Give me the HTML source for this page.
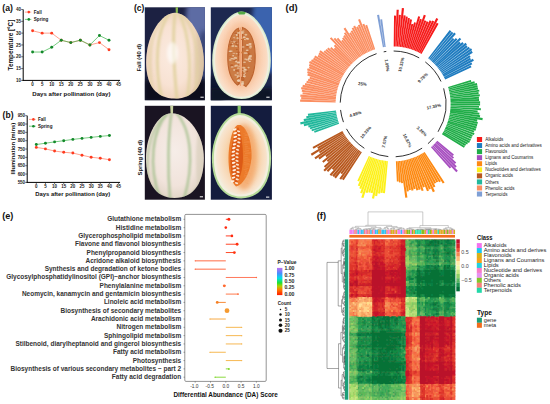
<!DOCTYPE html>
<html><head><meta charset="utf-8"><style>
html,body{margin:0;padding:0;background:#fff;}
body{width:550px;height:404px;overflow:hidden;}
svg{display:block;font-family:"Liberation Sans", sans-serif;}
</style></head><body>
<svg width="550" height="404" viewBox="0 0 550 404">
<rect width="550" height="404" fill="#fff"/>
<line x1="23.2" y1="9.5" x2="23.2" y2="80.9" stroke="#000" stroke-width="1.0"/>
<line x1="22.7" y1="80.4" x2="120.05000000000001" y2="80.4" stroke="#000" stroke-width="1.0"/>
<line x1="21.2" y1="80.40" x2="23.2" y2="80.40" stroke="#111" stroke-width="0.6"/>
<text x="20.90" y="82.00" font-size="4.5" font-weight="bold" text-anchor="end" fill="#1a1a1a" letter-spacing="-0.1">10</text>
<line x1="21.2" y1="68.58" x2="23.2" y2="68.58" stroke="#111" stroke-width="0.6"/>
<text x="20.90" y="70.18" font-size="4.5" font-weight="bold" text-anchor="end" fill="#1a1a1a" letter-spacing="-0.1">15</text>
<line x1="21.2" y1="56.77" x2="23.2" y2="56.77" stroke="#111" stroke-width="0.6"/>
<text x="20.90" y="58.37" font-size="4.5" font-weight="bold" text-anchor="end" fill="#1a1a1a" letter-spacing="-0.1">20</text>
<line x1="21.2" y1="44.95" x2="23.2" y2="44.95" stroke="#111" stroke-width="0.6"/>
<text x="20.90" y="46.55" font-size="4.5" font-weight="bold" text-anchor="end" fill="#1a1a1a" letter-spacing="-0.1">25</text>
<line x1="21.2" y1="33.13" x2="23.2" y2="33.13" stroke="#111" stroke-width="0.6"/>
<text x="20.90" y="34.73" font-size="4.5" font-weight="bold" text-anchor="end" fill="#1a1a1a" letter-spacing="-0.1">30</text>
<line x1="21.2" y1="21.32" x2="23.2" y2="21.32" stroke="#111" stroke-width="0.6"/>
<text x="20.90" y="22.92" font-size="4.5" font-weight="bold" text-anchor="end" fill="#1a1a1a" letter-spacing="-0.1">35</text>
<line x1="21.2" y1="9.50" x2="23.2" y2="9.50" stroke="#111" stroke-width="0.6"/>
<text x="20.90" y="11.10" font-size="4.5" font-weight="bold" text-anchor="end" fill="#1a1a1a" letter-spacing="-0.1">40</text>
<line x1="32.60" y1="80.4" x2="32.60" y2="82.0" stroke="#111" stroke-width="0.6"/>
<text x="32.60" y="86.30" font-size="4.5" font-weight="bold" text-anchor="middle" fill="#1a1a1a">0</text>
<line x1="42.15" y1="80.4" x2="42.15" y2="82.0" stroke="#111" stroke-width="0.6"/>
<text x="42.15" y="86.30" font-size="4.5" font-weight="bold" text-anchor="middle" fill="#1a1a1a">5</text>
<line x1="51.70" y1="80.4" x2="51.70" y2="82.0" stroke="#111" stroke-width="0.6"/>
<text x="51.70" y="86.30" font-size="4.5" font-weight="bold" text-anchor="middle" fill="#1a1a1a">10</text>
<line x1="61.25" y1="80.4" x2="61.25" y2="82.0" stroke="#111" stroke-width="0.6"/>
<text x="61.25" y="86.30" font-size="4.5" font-weight="bold" text-anchor="middle" fill="#1a1a1a">15</text>
<line x1="70.80" y1="80.4" x2="70.80" y2="82.0" stroke="#111" stroke-width="0.6"/>
<text x="70.80" y="86.30" font-size="4.5" font-weight="bold" text-anchor="middle" fill="#1a1a1a">20</text>
<line x1="80.35" y1="80.4" x2="80.35" y2="82.0" stroke="#111" stroke-width="0.6"/>
<text x="80.35" y="86.30" font-size="4.5" font-weight="bold" text-anchor="middle" fill="#1a1a1a">25</text>
<line x1="89.90" y1="80.4" x2="89.90" y2="82.0" stroke="#111" stroke-width="0.6"/>
<text x="89.90" y="86.30" font-size="4.5" font-weight="bold" text-anchor="middle" fill="#1a1a1a">30</text>
<line x1="99.45" y1="80.4" x2="99.45" y2="82.0" stroke="#111" stroke-width="0.6"/>
<text x="99.45" y="86.30" font-size="4.5" font-weight="bold" text-anchor="middle" fill="#1a1a1a">35</text>
<line x1="109.00" y1="80.4" x2="109.00" y2="82.0" stroke="#111" stroke-width="0.6"/>
<text x="109.00" y="86.30" font-size="4.5" font-weight="bold" text-anchor="middle" fill="#1a1a1a">40</text>
<line x1="118.55" y1="80.4" x2="118.55" y2="82.0" stroke="#111" stroke-width="0.6"/>
<text x="118.55" y="86.30" font-size="4.5" font-weight="bold" text-anchor="middle" fill="#1a1a1a">45</text>
<text x="71.40" y="95.50" font-size="6.1" font-weight="bold" text-anchor="middle" fill="#111">Days after pollination (day)</text>
<text x="13.00" y="45.10" font-size="6.3" font-weight="bold" text-anchor="middle" fill="#111" transform="rotate(-90 13.0 45.1)">Temperature [°C]</text>
<polyline points="32.60,30.77 42.15,33.13 51.70,33.13 61.25,40.22 70.80,42.59 80.35,40.22 89.90,44.95 99.45,42.59 109.00,49.68" fill="none" stroke="#ff7a60" stroke-width="0.7"/>
<circle cx="32.60" cy="30.77" r="1.45" fill="#ff3b1f"/>
<circle cx="42.15" cy="33.13" r="1.45" fill="#ff3b1f"/>
<circle cx="51.70" cy="33.13" r="1.45" fill="#ff3b1f"/>
<circle cx="61.25" cy="40.22" r="1.45" fill="#ff3b1f"/>
<circle cx="70.80" cy="42.59" r="1.45" fill="#ff3b1f"/>
<circle cx="80.35" cy="40.22" r="1.45" fill="#ff3b1f"/>
<circle cx="89.90" cy="44.95" r="1.45" fill="#ff3b1f"/>
<circle cx="99.45" cy="42.59" r="1.45" fill="#ff3b1f"/>
<circle cx="109.00" cy="49.68" r="1.45" fill="#ff3b1f"/>
<polyline points="32.60,52.04 42.15,52.04 51.70,47.31 61.25,40.22 70.80,42.59 80.35,40.22 89.90,44.95 99.45,35.50 109.00,40.22" fill="none" stroke="#3cb54a" stroke-width="0.7"/>
<circle cx="32.60" cy="52.04" r="1.45" fill="#13892a"/>
<circle cx="42.15" cy="52.04" r="1.45" fill="#13892a"/>
<circle cx="51.70" cy="47.31" r="1.45" fill="#13892a"/>
<circle cx="61.25" cy="40.22" r="1.45" fill="#13892a"/>
<circle cx="70.80" cy="42.59" r="1.45" fill="#13892a"/>
<circle cx="80.35" cy="40.22" r="1.45" fill="#13892a"/>
<circle cx="89.90" cy="44.95" r="1.45" fill="#13892a"/>
<circle cx="99.45" cy="35.50" r="1.45" fill="#13892a"/>
<circle cx="109.00" cy="40.22" r="1.45" fill="#13892a"/>
<line x1="24.9" y1="12.1" x2="31.3" y2="12.1" stroke="#ff7a60" stroke-width="0.7"/>
<circle cx="28.8" cy="12.1" r="1.3" fill="#ff3b1f"/>
<text x="33.80" y="13.70" font-size="4.6" font-weight="bold" text-anchor="start" fill="#1a1a1a">Fall</text>
<line x1="24.9" y1="19.4" x2="31.3" y2="19.4" stroke="#3cb54a" stroke-width="0.7"/>
<circle cx="28.8" cy="19.4" r="1.3" fill="#13892a"/>
<text x="33.80" y="21.00" font-size="4.6" font-weight="bold" text-anchor="start" fill="#1a1a1a">Spring</text>
<line x1="27.2" y1="115.7" x2="27.2" y2="182.9" stroke="#000" stroke-width="1.0"/>
<line x1="26.7" y1="182.4" x2="120.06" y2="182.4" stroke="#000" stroke-width="1.0"/>
<line x1="25.2" y1="182.40" x2="27.2" y2="182.40" stroke="#111" stroke-width="0.6"/>
<text x="24.90" y="184.00" font-size="4.5" font-weight="bold" text-anchor="end" fill="#1a1a1a" letter-spacing="-0.1">550</text>
<line x1="25.2" y1="174.06" x2="27.2" y2="174.06" stroke="#111" stroke-width="0.6"/>
<text x="24.90" y="175.66" font-size="4.5" font-weight="bold" text-anchor="end" fill="#1a1a1a" letter-spacing="-0.1">600</text>
<line x1="25.2" y1="165.72" x2="27.2" y2="165.72" stroke="#111" stroke-width="0.6"/>
<text x="24.90" y="167.32" font-size="4.5" font-weight="bold" text-anchor="end" fill="#1a1a1a" letter-spacing="-0.1">650</text>
<line x1="25.2" y1="157.39" x2="27.2" y2="157.39" stroke="#111" stroke-width="0.6"/>
<text x="24.90" y="158.99" font-size="4.5" font-weight="bold" text-anchor="end" fill="#1a1a1a" letter-spacing="-0.1">700</text>
<line x1="25.2" y1="149.05" x2="27.2" y2="149.05" stroke="#111" stroke-width="0.6"/>
<text x="24.90" y="150.65" font-size="4.5" font-weight="bold" text-anchor="end" fill="#1a1a1a" letter-spacing="-0.1">750</text>
<line x1="25.2" y1="140.71" x2="27.2" y2="140.71" stroke="#111" stroke-width="0.6"/>
<text x="24.90" y="142.31" font-size="4.5" font-weight="bold" text-anchor="end" fill="#1a1a1a" letter-spacing="-0.1">800</text>
<line x1="25.2" y1="132.38" x2="27.2" y2="132.38" stroke="#111" stroke-width="0.6"/>
<text x="24.90" y="133.97" font-size="4.5" font-weight="bold" text-anchor="end" fill="#1a1a1a" letter-spacing="-0.1">850</text>
<line x1="25.2" y1="124.04" x2="27.2" y2="124.04" stroke="#111" stroke-width="0.6"/>
<text x="24.90" y="125.64" font-size="4.5" font-weight="bold" text-anchor="end" fill="#1a1a1a" letter-spacing="-0.1">900</text>
<line x1="25.2" y1="115.70" x2="27.2" y2="115.70" stroke="#111" stroke-width="0.6"/>
<text x="24.90" y="117.30" font-size="4.5" font-weight="bold" text-anchor="end" fill="#1a1a1a" letter-spacing="-0.1">950</text>
<line x1="36.30" y1="182.4" x2="36.30" y2="184.0" stroke="#111" stroke-width="0.6"/>
<text x="36.30" y="188.30" font-size="4.5" font-weight="bold" text-anchor="middle" fill="#1a1a1a">0</text>
<line x1="45.44" y1="182.4" x2="45.44" y2="184.0" stroke="#111" stroke-width="0.6"/>
<text x="45.44" y="188.30" font-size="4.5" font-weight="bold" text-anchor="middle" fill="#1a1a1a">5</text>
<line x1="54.58" y1="182.4" x2="54.58" y2="184.0" stroke="#111" stroke-width="0.6"/>
<text x="54.58" y="188.30" font-size="4.5" font-weight="bold" text-anchor="middle" fill="#1a1a1a">10</text>
<line x1="63.72" y1="182.4" x2="63.72" y2="184.0" stroke="#111" stroke-width="0.6"/>
<text x="63.72" y="188.30" font-size="4.5" font-weight="bold" text-anchor="middle" fill="#1a1a1a">15</text>
<line x1="72.86" y1="182.4" x2="72.86" y2="184.0" stroke="#111" stroke-width="0.6"/>
<text x="72.86" y="188.30" font-size="4.5" font-weight="bold" text-anchor="middle" fill="#1a1a1a">20</text>
<line x1="82.00" y1="182.4" x2="82.00" y2="184.0" stroke="#111" stroke-width="0.6"/>
<text x="82.00" y="188.30" font-size="4.5" font-weight="bold" text-anchor="middle" fill="#1a1a1a">25</text>
<line x1="91.14" y1="182.4" x2="91.14" y2="184.0" stroke="#111" stroke-width="0.6"/>
<text x="91.14" y="188.30" font-size="4.5" font-weight="bold" text-anchor="middle" fill="#1a1a1a">30</text>
<line x1="100.28" y1="182.4" x2="100.28" y2="184.0" stroke="#111" stroke-width="0.6"/>
<text x="100.28" y="188.30" font-size="4.5" font-weight="bold" text-anchor="middle" fill="#1a1a1a">35</text>
<line x1="109.42" y1="182.4" x2="109.42" y2="184.0" stroke="#111" stroke-width="0.6"/>
<text x="109.42" y="188.30" font-size="4.5" font-weight="bold" text-anchor="middle" fill="#1a1a1a">40</text>
<line x1="118.56" y1="182.4" x2="118.56" y2="184.0" stroke="#111" stroke-width="0.6"/>
<text x="118.56" y="188.30" font-size="4.5" font-weight="bold" text-anchor="middle" fill="#1a1a1a">45</text>
<text x="72.80" y="196.10" font-size="5.85" font-weight="bold" text-anchor="middle" fill="#111">Days after pollination (day)</text>
<text x="14.60" y="148.70" font-size="5.8" font-weight="bold" text-anchor="middle" fill="#111" transform="rotate(-90 14.6 148.7)">Illumination (mins)</text>
<polyline points="36.30,147.38 45.44,148.88 54.58,151.05 63.72,152.22 72.86,153.05 82.00,155.22 91.14,157.22 100.28,158.22 109.42,159.72" fill="none" stroke="#ff7a60" stroke-width="0.7"/>
<circle cx="36.30" cy="147.38" r="1.45" fill="#ff3b1f"/>
<circle cx="45.44" cy="148.88" r="1.45" fill="#ff3b1f"/>
<circle cx="54.58" cy="151.05" r="1.45" fill="#ff3b1f"/>
<circle cx="63.72" cy="152.22" r="1.45" fill="#ff3b1f"/>
<circle cx="72.86" cy="153.05" r="1.45" fill="#ff3b1f"/>
<circle cx="82.00" cy="155.22" r="1.45" fill="#ff3b1f"/>
<circle cx="91.14" cy="157.22" r="1.45" fill="#ff3b1f"/>
<circle cx="100.28" cy="158.22" r="1.45" fill="#ff3b1f"/>
<circle cx="109.42" cy="159.72" r="1.45" fill="#ff3b1f"/>
<polyline points="36.30,144.55 45.44,143.21 54.58,141.88 63.72,140.71 72.86,139.38 82.00,138.38 91.14,137.38 100.28,136.38 109.42,135.54" fill="none" stroke="#3cb54a" stroke-width="0.7"/>
<circle cx="36.30" cy="144.55" r="1.45" fill="#13892a"/>
<circle cx="45.44" cy="143.21" r="1.45" fill="#13892a"/>
<circle cx="54.58" cy="141.88" r="1.45" fill="#13892a"/>
<circle cx="63.72" cy="140.71" r="1.45" fill="#13892a"/>
<circle cx="72.86" cy="139.38" r="1.45" fill="#13892a"/>
<circle cx="82.00" cy="138.38" r="1.45" fill="#13892a"/>
<circle cx="91.14" cy="137.38" r="1.45" fill="#13892a"/>
<circle cx="100.28" cy="136.38" r="1.45" fill="#13892a"/>
<circle cx="109.42" cy="135.54" r="1.45" fill="#13892a"/>
<line x1="29.0" y1="119.4" x2="35.7" y2="119.4" stroke="#ff7a60" stroke-width="0.7"/>
<circle cx="33.4" cy="119.4" r="1.3" fill="#ff3b1f"/>
<text x="37.90" y="121.00" font-size="4.6" font-weight="bold" text-anchor="start" fill="#1a1a1a">Fall</text>
<line x1="29.0" y1="126.2" x2="35.7" y2="126.2" stroke="#3cb54a" stroke-width="0.7"/>
<circle cx="33.4" cy="126.2" r="1.3" fill="#13892a"/>
<text x="37.90" y="127.80" font-size="4.6" font-weight="bold" text-anchor="start" fill="#1a1a1a">Spring</text>
<text x="134.0" y="10.8" font-size="9.6" font-weight="bold" fill="#111" textLength="10.4" lengthAdjust="spacingAndGlyphs">(c)</text>
<text x="2.3" y="10.8" font-size="9.6" font-weight="bold" fill="#111" textLength="10.6" lengthAdjust="spacingAndGlyphs">(a)</text>
<text x="2.6" y="117.7" font-size="9.6" font-weight="bold" fill="#111" textLength="10.9" lengthAdjust="spacingAndGlyphs">(b)</text>
<text x="141.40" y="57.80" font-size="5.9" font-weight="bold" text-anchor="middle" fill="#111" transform="rotate(-90 141.4 57.8)">Fall (40 d)</text>
<text x="142.00" y="157.70" font-size="5.8" font-weight="bold" text-anchor="middle" fill="#111" transform="rotate(-90 142.0 157.7)">Spring (40 d)</text>
<defs>
<linearGradient id="bg1" x1="0" y1="0" x2="1" y2="0.6"><stop offset="0" stop-color="#1a2140"/><stop offset="0.55" stop-color="#2a3560"/><stop offset="1" stop-color="#5a6b9e"/></linearGradient>
<linearGradient id="bg2" x1="0" y1="0" x2="1" y2="0.7"><stop offset="0" stop-color="#1a2547"/><stop offset="0.6" stop-color="#2e4176"/><stop offset="1" stop-color="#4d66a8"/></linearGradient>
<linearGradient id="bg3" x1="0" y1="0" x2="1" y2="1"><stop offset="0" stop-color="#16131c"/><stop offset="1" stop-color="#1b1822"/></linearGradient>
<linearGradient id="bg4" x1="0" y1="0" x2="1" y2="1"><stop offset="0" stop-color="#141d40"/><stop offset="1" stop-color="#172248"/></linearGradient>
<radialGradient id="m1" cx="0.45" cy="0.5" r="0.58"><stop offset="0" stop-color="#fbebe0"/><stop offset="0.6" stop-color="#f8e2d3"/><stop offset="0.9" stop-color="#efd4bc"/><stop offset="1" stop-color="#d8bc9c"/></radialGradient>
<radialGradient id="m3" cx="0.5" cy="0.45" r="0.58"><stop offset="0" stop-color="#f6ede8"/><stop offset="0.7" stop-color="#f1e3db"/><stop offset="0.92" stop-color="#e5d8cb"/><stop offset="1" stop-color="#cdc9b0"/></radialGradient>
<radialGradient id="f2" cx="0.5" cy="0.5" r="0.55"><stop offset="0" stop-color="#f7ba90"/><stop offset="0.5" stop-color="#f9caa8"/><stop offset="0.82" stop-color="#fbd8be"/><stop offset="1" stop-color="#f6e8d6"/></radialGradient>
<radialGradient id="f4" cx="0.52" cy="0.5" r="0.55"><stop offset="0" stop-color="#f4a860"/><stop offset="0.45" stop-color="#f7cc9c"/><stop offset="0.8" stop-color="#f8e0c6"/><stop offset="1" stop-color="#f5ecdc"/></radialGradient>
<linearGradient id="cav2" x1="0" y1="0" x2="1" y2="0"><stop offset="0" stop-color="#c06a38"/><stop offset="0.5" stop-color="#d89060"/><stop offset="1" stop-color="#b86030"/></linearGradient>
<linearGradient id="pv" x1="0" y1="1" x2="0" y2="0"><stop offset="0" stop-color="#ff1a00"/><stop offset="0.2" stop-color="#ff7a00"/><stop offset="0.33" stop-color="#b0d000"/><stop offset="0.45" stop-color="#20e030"/><stop offset="0.62" stop-color="#00e0e8"/><stop offset="0.8" stop-color="#4a8cff"/><stop offset="1" stop-color="#c070f0"/></linearGradient>
<linearGradient id="hcb" x1="0" y1="0" x2="0" y2="1"><stop offset="0" stop-color="#a50026"/><stop offset="0.15" stop-color="#d73027"/><stop offset="0.3" stop-color="#f46d43"/><stop offset="0.4" stop-color="#fdae61"/><stop offset="0.5" stop-color="#ffffbf"/><stop offset="0.6" stop-color="#a6d96a"/><stop offset="0.75" stop-color="#1a9850"/><stop offset="1" stop-color="#005a32"/></linearGradient>
</defs>
<defs><filter id="bl1" x="-20%" y="-20%" width="140%" height="140%"><feGaussianBlur stdDeviation="0.9"/></filter><filter id="bl2" x="-20%" y="-20%" width="140%" height="140%"><feGaussianBlur stdDeviation="0.5"/></filter><filter id="bl3" x="-50%" y="-50%" width="200%" height="200%"><feGaussianBlur stdDeviation="2.2"/></filter><filter id="bl4" x="-50%" y="-50%" width="200%" height="200%"><feGaussianBlur stdDeviation="1.4"/></filter><clipPath id="cp1"><path d="M175.00,12.70 C187.10,12.70 203.80,32.63 203.80,62.52 C203.80,84.17 194.58,98.60 175.00,98.60 C155.42,98.60 146.20,84.17 146.20,62.52 C146.20,32.63 162.90,12.70 175.00,12.70Z"/></clipPath><clipPath id="cp3"><path d="M171.50,113.20 C189.27,113.20 203.80,135.60 203.80,158.00 C203.80,181.20 195.01,198.00 174.50,198.00 C154.55,198.00 146.00,181.20 146.00,158.00 C146.00,135.60 157.47,113.20 171.50,113.20Z"/></clipPath><clipPath id="cp2"><path d="M241.50,14.60 C252.06,14.60 267.90,33.01 267.90,60.63 C267.90,80.52 258.40,96.80 241.50,96.80 C224.60,96.80 215.10,80.52 215.10,60.63 C215.10,33.01 230.94,14.60 241.50,14.60Z"/></clipPath><clipPath id="cp4"><path d="M240.00,117.40 C253.50,117.40 267.00,136.89 267.00,158.00 C267.00,179.11 258.23,194.40 241.20,194.40 C224.57,194.40 216.00,179.11 216.00,158.00 C216.00,136.89 228.00,117.40 240.00,117.40Z"/></clipPath><clipPath id="ph1"><rect x="144.8" y="7.3" width="60.1" height="92.9"/></clipPath><clipPath id="ph2"><rect x="210.8" y="7.3" width="61.1" height="92.9"/></clipPath></defs>
<rect x="144.8" y="7.3" width="60.1" height="92.9" fill="#1c2142"/>
<g clip-path="url(#ph1)"><ellipse cx="206" cy="18" rx="20" ry="38" fill="#5d6ca4" filter="url(#bl3)"/><ellipse cx="204" cy="55" rx="6" ry="25" fill="#3a4678" filter="url(#bl3)"/><rect x="144" y="80" width="62" height="22" fill="#0e0f1c" filter="url(#bl3)"/></g>
<path d="M175.6,7.3 L178.0,7.3 L177.8,13.5 L175.8,13.5Z" fill="#8ab850"/>
<path d="M175.00,12.70 C187.10,12.70 203.80,32.63 203.80,62.52 C203.80,84.17 194.58,98.60 175.00,98.60 C155.42,98.60 146.20,84.17 146.20,62.52 C146.20,32.63 162.90,12.70 175.00,12.70Z" fill="url(#m1)"/>
<g clip-path="url(#cp1)">
<ellipse cx="201" cy="62" rx="6" ry="40" fill="#d6bf9f" opacity="0.7" filter="url(#bl3)"/>
<ellipse cx="148" cy="62" rx="4" ry="36" fill="#e9cfb4" opacity="0.6" filter="url(#bl3)"/>
<g filter="url(#bl1)">
<path d="M170,13 C156,30 154,65 162,100" fill="none" stroke="#e2d3a2" stroke-width="3.0" opacity="0.9"/>
<path d="M175,13 C172,40 174,70 177,100" fill="none" stroke="#e2d3a2" stroke-width="3.2" opacity="0.9"/>
<path d="M179,13 C190,35 192,70 187,100" fill="none" stroke="#e2d3a2" stroke-width="3.0" opacity="0.85"/>
<path d="M181,13 C198,30 201,65 194,99" fill="none" stroke="#e2d3a2" stroke-width="2.6" opacity="0.7"/>
<path d="M168,13 C150,30 146,60 154,98" fill="none" stroke="#e2d3a2" stroke-width="2.2" opacity="0.6"/>
</g>
<ellipse cx="172.5" cy="53" rx="5.5" ry="11" fill="#ffffff" opacity="0.6" filter="url(#bl4)"/>
</g>
<rect x="200.4" y="96.7" width="3.3" height="1" fill="#fff"/>
<rect x="210.8" y="7.3" width="61.1" height="92.9" fill="#1d2850"/>
<g clip-path="url(#ph2)"><ellipse cx="272" cy="25" rx="20" ry="48" fill="#3a64ae" filter="url(#bl3)"/><ellipse cx="214" cy="95" rx="10" ry="20" fill="#111830" filter="url(#bl3)"/><rect x="210" y="88" width="63" height="14" fill="#0f1428" filter="url(#bl3)"/></g>
<path d="M241.50,11.50 C253.22,11.50 270.80,31.10 270.80,60.50 C270.80,81.68 260.25,99.00 241.50,99.00 C222.75,99.00 212.20,81.68 212.20,60.50 C212.20,31.10 229.78,11.50 241.50,11.50Z" fill="#d9ebcc"/>
<path d="M241.50,12.90 C252.70,12.90 269.50,31.96 269.50,60.56 C269.50,81.15 259.42,98.00 241.50,98.00 C223.58,98.00 213.50,81.15 213.50,60.56 C213.50,31.96 230.30,12.90 241.50,12.90Z" fill="#eef0e0"/>
<path d="M241.50,14.60 C252.06,14.60 267.90,33.01 267.90,60.63 C267.90,80.52 258.40,96.80 241.50,96.80 C224.60,96.80 215.10,80.52 215.10,60.63 C215.10,33.01 230.94,14.60 241.50,14.60Z" fill="url(#f2)"/>
<path d="M237.5,12.3 Q241.5,10.6 246,12.3 L244.5,14.4 L239,14.4Z" fill="#56a844"/>
<g clip-path="url(#cp2)">
<ellipse cx="241" cy="56" rx="18" ry="34" fill="#f4aa78" opacity="0.3" filter="url(#bl3)"/>
<g filter="url(#bl2)">
<path d="M238.6,28.2 C233,30 228.2,40 227.8,55 C227.4,68 230,79 237.4,85 L239.2,84 C238.8,70 238.8,45 238.6,28.2Z" fill="#cc7c44" stroke="#bd6430" stroke-width="1.1"/>
<path d="M242.4,27.6 C250,30 254.8,40 255.2,55 C255.6,68 252,80 246,86.5 L242.2,84 C242.4,70 242.6,45 242.4,27.6Z" fill="#ca7842" stroke="#bd6430" stroke-width="1.1"/>
</g>
<g clip-path="url(#cp2)" filter="url(#bl2)">
<ellipse cx="238.0" cy="42.7" rx="1.3" ry="0.6" fill="#c46a32" opacity="0.85"/>
<ellipse cx="242.9" cy="31.1" rx="1.6" ry="1.0" fill="#e2b48e" opacity="0.85"/>
<ellipse cx="234.8" cy="42.0" rx="1.6" ry="1.0" fill="#e2b48e" opacity="0.85"/>
<ellipse cx="250.1" cy="44.1" rx="1.6" ry="1.0" fill="#ecd0b4" opacity="0.85"/>
<ellipse cx="238.0" cy="73.2" rx="1.2" ry="1.0" fill="#e2b48e" opacity="0.85"/>
<ellipse cx="242.8" cy="81.9" rx="1.0" ry="0.9" fill="#e2b48e" opacity="0.85"/>
<ellipse cx="235.3" cy="66.3" rx="1.1" ry="0.7" fill="#e8c4a0" opacity="0.85"/>
<ellipse cx="242.8" cy="81.0" rx="1.7" ry="0.6" fill="#d07838" opacity="0.85"/>
<ellipse cx="232.8" cy="45.8" rx="1.7" ry="0.9" fill="#e2b48e" opacity="0.85"/>
<ellipse cx="248.1" cy="52.4" rx="1.3" ry="0.7" fill="#c46a32" opacity="0.85"/>
<ellipse cx="232.4" cy="44.0" rx="0.9" ry="0.9" fill="#ecd0b4" opacity="0.85"/>
<ellipse cx="246.9" cy="45.1" rx="1.5" ry="0.7" fill="#c46a32" opacity="0.85"/>
<ellipse cx="238.3" cy="66.4" rx="1.5" ry="0.8" fill="#e8c4a0" opacity="0.85"/>
<ellipse cx="245.2" cy="39.9" rx="1.2" ry="0.9" fill="#d07838" opacity="0.85"/>
<ellipse cx="238.7" cy="78.8" rx="1.5" ry="0.7" fill="#ecd0b4" opacity="0.85"/>
<ellipse cx="249.7" cy="61.4" rx="1.2" ry="0.7" fill="#ecd0b4" opacity="0.85"/>
<ellipse cx="238.4" cy="54.8" rx="1.0" ry="1.1" fill="#b85e2a" opacity="0.85"/>
<ellipse cx="248.1" cy="45.4" rx="0.9" ry="0.7" fill="#e2b48e" opacity="0.85"/>
<ellipse cx="238.4" cy="82.2" rx="1.7" ry="1.0" fill="#c46a32" opacity="0.85"/>
<ellipse cx="242.9" cy="66.7" rx="1.1" ry="0.8" fill="#d07838" opacity="0.85"/>
<ellipse cx="236.8" cy="37.4" rx="1.2" ry="0.6" fill="#e8c4a0" opacity="0.85"/>
<ellipse cx="242.7" cy="32.4" rx="1.8" ry="0.9" fill="#e2b48e" opacity="0.85"/>
<ellipse cx="236.8" cy="53.7" rx="1.0" ry="0.6" fill="#e8c4a0" opacity="0.85"/>
<ellipse cx="245.7" cy="69.8" rx="1.4" ry="0.9" fill="#e8c4a0" opacity="0.85"/>
<ellipse cx="236.1" cy="61.5" rx="1.0" ry="0.9" fill="#ecd0b4" opacity="0.85"/>
<ellipse cx="244.3" cy="71.8" rx="1.3" ry="0.7" fill="#e8c4a0" opacity="0.85"/>
<ellipse cx="238.5" cy="52.2" rx="1.3" ry="0.9" fill="#c46a32" opacity="0.85"/>
<ellipse cx="244.4" cy="53.1" rx="0.9" ry="0.7" fill="#e8c4a0" opacity="0.85"/>
<ellipse cx="237.2" cy="43.1" rx="1.3" ry="0.7" fill="#e8c4a0" opacity="0.85"/>
<ellipse cx="250.4" cy="47.6" rx="1.4" ry="1.1" fill="#e2b48e" opacity="0.85"/>
<ellipse cx="230.3" cy="51.8" rx="1.7" ry="1.0" fill="#b85e2a" opacity="0.85"/>
<ellipse cx="243.1" cy="32.2" rx="1.1" ry="1.0" fill="#c46a32" opacity="0.85"/>
<ellipse cx="237.6" cy="78.6" rx="1.2" ry="0.8" fill="#e2b48e" opacity="0.85"/>
<ellipse cx="242.8" cy="78.6" rx="1.4" ry="0.9" fill="#c46a32" opacity="0.85"/>
<ellipse cx="237.0" cy="67.0" rx="1.8" ry="0.6" fill="#c46a32" opacity="0.85"/>
<ellipse cx="242.9" cy="82.4" rx="1.1" ry="0.8" fill="#b85e2a" opacity="0.85"/>
<ellipse cx="232.7" cy="63.5" rx="1.5" ry="0.6" fill="#e2b48e" opacity="0.85"/>
<ellipse cx="246.3" cy="39.0" rx="1.3" ry="0.8" fill="#d07838" opacity="0.85"/>
<ellipse cx="231.3" cy="51.1" rx="1.7" ry="0.6" fill="#e8c4a0" opacity="0.85"/>
<ellipse cx="242.6" cy="77.3" rx="1.7" ry="0.9" fill="#c46a32" opacity="0.85"/>
<ellipse cx="238.4" cy="77.5" rx="1.4" ry="1.0" fill="#b85e2a" opacity="0.85"/>
<ellipse cx="249.2" cy="60.4" rx="1.3" ry="0.6" fill="#d07838" opacity="0.85"/>
<ellipse cx="238.1" cy="67.6" rx="1.7" ry="0.9" fill="#d07838" opacity="0.85"/>
<ellipse cx="244.3" cy="37.5" rx="1.7" ry="0.7" fill="#d07838" opacity="0.85"/>
<ellipse cx="238.1" cy="48.7" rx="1.3" ry="0.7" fill="#d07838" opacity="0.85"/>
<ellipse cx="242.6" cy="82.7" rx="1.7" ry="0.8" fill="#c46a32" opacity="0.85"/>
<ellipse cx="235.8" cy="34.2" rx="1.4" ry="0.8" fill="#e2b48e" opacity="0.85"/>
<ellipse cx="244.3" cy="76.3" rx="1.5" ry="1.1" fill="#ecd0b4" opacity="0.85"/>
<ellipse cx="231.7" cy="64.4" rx="1.3" ry="1.0" fill="#c46a32" opacity="0.85"/>
<ellipse cx="247.7" cy="39.0" rx="1.5" ry="0.8" fill="#e8c4a0" opacity="0.85"/>
<ellipse cx="238.2" cy="76.4" rx="1.5" ry="0.6" fill="#ecd0b4" opacity="0.85"/>
<ellipse cx="247.2" cy="46.8" rx="1.6" ry="0.9" fill="#c46a32" opacity="0.85"/>
<ellipse cx="234.1" cy="58.4" rx="1.7" ry="0.8" fill="#c46a32" opacity="0.85"/>
<ellipse cx="247.2" cy="71.4" rx="0.9" ry="0.6" fill="#b85e2a" opacity="0.85"/>
<ellipse cx="238.2" cy="79.0" rx="1.6" ry="0.9" fill="#c46a32" opacity="0.85"/>
<ellipse cx="242.7" cy="80.6" rx="1.5" ry="0.8" fill="#c46a32" opacity="0.85"/>
<ellipse cx="234.7" cy="37.6" rx="1.8" ry="0.8" fill="#e2b48e" opacity="0.85"/>
<ellipse cx="248.2" cy="53.4" rx="1.6" ry="0.7" fill="#b85e2a" opacity="0.85"/>
<ellipse cx="238.3" cy="78.7" rx="1.6" ry="0.9" fill="#d07838" opacity="0.85"/>
<ellipse cx="242.5" cy="77.7" rx="1.7" ry="0.7" fill="#b85e2a" opacity="0.85"/>
<ellipse cx="236.4" cy="65.3" rx="1.7" ry="0.9" fill="#e2b48e" opacity="0.85"/>
<ellipse cx="249.3" cy="58.3" rx="1.6" ry="1.0" fill="#ecd0b4" opacity="0.85"/>
<ellipse cx="238.7" cy="81.5" rx="1.8" ry="0.9" fill="#d07838" opacity="0.85"/>
<ellipse cx="242.4" cy="83.6" rx="1.1" ry="0.8" fill="#ecd0b4" opacity="0.85"/>
<ellipse cx="238.4" cy="77.9" rx="1.2" ry="1.1" fill="#b85e2a" opacity="0.85"/>
<ellipse cx="248.1" cy="51.9" rx="1.5" ry="0.8" fill="#c46a32" opacity="0.85"/>
<ellipse cx="236.3" cy="42.4" rx="1.4" ry="0.8" fill="#b85e2a" opacity="0.85"/>
<ellipse cx="244.4" cy="73.4" rx="1.2" ry="0.8" fill="#e2b48e" opacity="0.85"/>
<ellipse cx="238.7" cy="30.7" rx="1.3" ry="0.9" fill="#d07838" opacity="0.85"/>
<ellipse cx="243.8" cy="74.6" rx="1.5" ry="0.7" fill="#c46a32" opacity="0.85"/>
<ellipse cx="236.0" cy="33.7" rx="1.7" ry="0.9" fill="#b85e2a" opacity="0.85"/>
<ellipse cx="243.2" cy="46.9" rx="1.3" ry="0.9" fill="#e2b48e" opacity="0.85"/>
<ellipse cx="233.1" cy="55.7" rx="1.0" ry="0.7" fill="#ecd0b4" opacity="0.85"/>
<ellipse cx="250.6" cy="46.2" rx="1.3" ry="0.9" fill="#e8c4a0" opacity="0.85"/>
<ellipse cx="233.2" cy="63.5" rx="1.1" ry="0.9" fill="#d07838" opacity="0.85"/>
<ellipse cx="243.0" cy="38.5" rx="1.8" ry="0.6" fill="#ecd0b4" opacity="0.85"/>
<ellipse cx="231.5" cy="44.6" rx="1.2" ry="1.0" fill="#b85e2a" opacity="0.85"/>
<ellipse cx="247.1" cy="67.9" rx="1.3" ry="0.7" fill="#b85e2a" opacity="0.85"/>
<ellipse cx="238.3" cy="68.3" rx="1.5" ry="1.0" fill="#e2b48e" opacity="0.85"/>
<ellipse cx="246.8" cy="59.8" rx="1.1" ry="0.7" fill="#e8c4a0" opacity="0.85"/>
<ellipse cx="235.3" cy="57.4" rx="1.7" ry="0.7" fill="#e8c4a0" opacity="0.85"/>
<ellipse cx="248.8" cy="51.1" rx="1.2" ry="0.8" fill="#c46a32" opacity="0.85"/>
<ellipse cx="238.5" cy="52.8" rx="0.9" ry="1.1" fill="#b85e2a" opacity="0.85"/>
<ellipse cx="243.3" cy="38.2" rx="1.6" ry="0.7" fill="#d07838" opacity="0.85"/>
<ellipse cx="234.6" cy="59.9" rx="1.4" ry="1.0" fill="#b85e2a" opacity="0.85"/>
<ellipse cx="249.3" cy="54.4" rx="1.7" ry="0.8" fill="#b85e2a" opacity="0.85"/>
<ellipse cx="236.5" cy="75.8" rx="1.1" ry="0.8" fill="#d07838" opacity="0.85"/>
<ellipse cx="242.8" cy="78.8" rx="1.6" ry="0.8" fill="#b85e2a" opacity="0.85"/>
<ellipse cx="234.2" cy="69.9" rx="1.1" ry="1.0" fill="#e8c4a0" opacity="0.85"/>
<ellipse cx="244.6" cy="65.7" rx="1.5" ry="0.8" fill="#c46a32" opacity="0.85"/>
<ellipse cx="236.0" cy="75.0" rx="1.7" ry="0.9" fill="#e2b48e" opacity="0.85"/>
<ellipse cx="246.3" cy="67.7" rx="1.3" ry="1.1" fill="#d07838" opacity="0.85"/>
<ellipse cx="238.7" cy="80.1" rx="1.3" ry="0.9" fill="#ecd0b4" opacity="0.85"/>
<ellipse cx="244.5" cy="62.3" rx="1.5" ry="0.8" fill="#e8c4a0" opacity="0.85"/>
<ellipse cx="237.7" cy="62.5" rx="1.0" ry="1.1" fill="#e2b48e" opacity="0.85"/>
<ellipse cx="244.1" cy="74.6" rx="1.0" ry="0.7" fill="#ecd0b4" opacity="0.85"/>
<ellipse cx="230.9" cy="44.8" rx="1.8" ry="0.6" fill="#b85e2a" opacity="0.85"/>
<ellipse cx="243.8" cy="67.7" rx="1.7" ry="1.0" fill="#e8c4a0" opacity="0.85"/>
<ellipse cx="237.7" cy="74.1" rx="1.5" ry="0.8" fill="#c46a32" opacity="0.85"/>
<ellipse cx="245.5" cy="39.3" rx="1.6" ry="1.0" fill="#ecd0b4" opacity="0.85"/>
<ellipse cx="232.8" cy="46.1" rx="1.5" ry="0.8" fill="#e8c4a0" opacity="0.85"/>
<ellipse cx="242.5" cy="39.4" rx="1.7" ry="0.7" fill="#c46a32" opacity="0.85"/>
<ellipse cx="236.7" cy="70.8" rx="1.7" ry="0.8" fill="#b85e2a" opacity="0.85"/>
<ellipse cx="243.5" cy="70.5" rx="1.4" ry="0.6" fill="#e2b48e" opacity="0.85"/>
<ellipse cx="236.5" cy="44.2" rx="1.0" ry="1.0" fill="#b85e2a" opacity="0.85"/>
<ellipse cx="245.9" cy="34.7" rx="1.5" ry="1.0" fill="#e8c4a0" opacity="0.85"/>
<ellipse cx="238.7" cy="80.5" rx="1.7" ry="0.8" fill="#e8c4a0" opacity="0.85"/>
<ellipse cx="243.9" cy="36.2" rx="1.4" ry="0.7" fill="#c46a32" opacity="0.85"/>
<ellipse cx="236.8" cy="35.0" rx="1.0" ry="1.1" fill="#ecd0b4" opacity="0.85"/>
<ellipse cx="247.3" cy="46.0" rx="1.0" ry="1.0" fill="#b85e2a" opacity="0.85"/>
<ellipse cx="231.7" cy="65.7" rx="1.6" ry="1.0" fill="#b85e2a" opacity="0.85"/>
<ellipse cx="245.1" cy="73.3" rx="0.9" ry="0.8" fill="#e2b48e" opacity="0.85"/>
<ellipse cx="229.9" cy="47.7" rx="1.7" ry="1.1" fill="#d07838" opacity="0.85"/>
<ellipse cx="246.9" cy="38.8" rx="1.8" ry="1.1" fill="#ecd0b4" opacity="0.85"/>
<ellipse cx="232.2" cy="66.9" rx="1.5" ry="0.7" fill="#ecd0b4" opacity="0.85"/>
<ellipse cx="242.8" cy="79.7" rx="1.0" ry="0.7" fill="#c46a32" opacity="0.85"/>
<ellipse cx="236.3" cy="37.4" rx="1.3" ry="0.8" fill="#d07838" opacity="0.85"/>
<ellipse cx="246.3" cy="53.2" rx="1.6" ry="0.6" fill="#ecd0b4" opacity="0.85"/>
<ellipse cx="237.6" cy="38.3" rx="1.2" ry="1.0" fill="#e8c4a0" opacity="0.85"/>
<ellipse cx="242.7" cy="80.7" rx="1.2" ry="1.0" fill="#c46a32" opacity="0.85"/>
<ellipse cx="238.7" cy="81.0" rx="1.1" ry="0.9" fill="#e2b48e" opacity="0.85"/>
<ellipse cx="242.5" cy="31.1" rx="1.6" ry="1.0" fill="#e2b48e" opacity="0.85"/>
<ellipse cx="238.6" cy="80.7" rx="1.8" ry="1.0" fill="#ecd0b4" opacity="0.85"/>
<ellipse cx="243.1" cy="73.3" rx="1.5" ry="0.8" fill="#c46a32" opacity="0.85"/>
<ellipse cx="238.5" cy="30.3" rx="0.9" ry="1.0" fill="#c46a32" opacity="0.85"/>
<ellipse cx="244.8" cy="69.5" rx="1.2" ry="0.9" fill="#ecd0b4" opacity="0.85"/>
<ellipse cx="238.6" cy="32.9" rx="1.8" ry="0.9" fill="#e8c4a0" opacity="0.85"/>
<ellipse cx="246.4" cy="39.8" rx="1.2" ry="0.6" fill="#d07838" opacity="0.85"/>
<ellipse cx="236.0" cy="65.7" rx="1.6" ry="0.7" fill="#e8c4a0" opacity="0.85"/>
<ellipse cx="242.8" cy="32.3" rx="1.1" ry="1.0" fill="#e2b48e" opacity="0.85"/>
<ellipse cx="235.5" cy="59.2" rx="1.2" ry="0.9" fill="#b85e2a" opacity="0.85"/>
<ellipse cx="250.9" cy="59.4" rx="1.1" ry="0.8" fill="#e2b48e" opacity="0.85"/>
<ellipse cx="233.9" cy="59.0" rx="1.4" ry="1.0" fill="#e2b48e" opacity="0.85"/>
<ellipse cx="250.1" cy="56.7" rx="1.7" ry="0.9" fill="#ecd0b4" opacity="0.85"/>
<ellipse cx="238.7" cy="83.3" rx="1.0" ry="1.0" fill="#b85e2a" opacity="0.85"/>
<ellipse cx="245.5" cy="59.1" rx="1.5" ry="0.6" fill="#ecd0b4" opacity="0.85"/>
<ellipse cx="238.3" cy="75.2" rx="1.1" ry="0.6" fill="#e8c4a0" opacity="0.85"/>
<ellipse cx="250.5" cy="55.7" rx="1.5" ry="1.0" fill="#e8c4a0" opacity="0.85"/>
<ellipse cx="232.0" cy="58.6" rx="1.7" ry="0.7" fill="#ecd0b4" opacity="0.85"/>
<ellipse cx="242.4" cy="52.5" rx="1.4" ry="1.1" fill="#d07838" opacity="0.85"/>
<ellipse cx="236.9" cy="49.5" rx="1.0" ry="0.8" fill="#b85e2a" opacity="0.85"/>
<ellipse cx="242.7" cy="79.3" rx="1.8" ry="1.0" fill="#b85e2a" opacity="0.85"/>
<ellipse cx="232.4" cy="40.9" rx="1.8" ry="0.6" fill="#ecd0b4" opacity="0.85"/>
<ellipse cx="242.5" cy="30.2" rx="1.4" ry="0.6" fill="#d07838" opacity="0.85"/>
<ellipse cx="235.7" cy="58.3" rx="1.5" ry="0.9" fill="#e8c4a0" opacity="0.85"/>
<ellipse cx="248.5" cy="59.7" rx="1.0" ry="1.1" fill="#ecd0b4" opacity="0.85"/>
<ellipse cx="237.3" cy="78.1" rx="1.2" ry="0.8" fill="#d07838" opacity="0.85"/>
<ellipse cx="247.3" cy="45.0" rx="1.4" ry="0.9" fill="#ecd0b4" opacity="0.85"/>
<ellipse cx="238.8" cy="62.5" rx="1.6" ry="0.9" fill="#ecd0b4" opacity="0.85"/>
<ellipse cx="245.3" cy="52.9" rx="1.8" ry="0.7" fill="#e2b48e" opacity="0.85"/>
<ellipse cx="234.6" cy="49.6" rx="1.3" ry="1.1" fill="#d07838" opacity="0.85"/>
<ellipse cx="242.7" cy="83.9" rx="1.4" ry="0.9" fill="#ecd0b4" opacity="0.85"/>
<ellipse cx="232.3" cy="40.5" rx="1.4" ry="0.9" fill="#b85e2a" opacity="0.85"/>
<ellipse cx="248.5" cy="67.6" rx="1.2" ry="0.8" fill="#e8c4a0" opacity="0.85"/>
<ellipse cx="236.1" cy="46.2" rx="1.4" ry="0.9" fill="#e8c4a0" opacity="0.85"/>
<ellipse cx="249.5" cy="44.5" rx="1.2" ry="1.0" fill="#e8c4a0" opacity="0.85"/>
<ellipse cx="237.5" cy="73.1" rx="1.1" ry="0.6" fill="#e8c4a0" opacity="0.85"/>
<ellipse cx="242.4" cy="83.7" rx="0.9" ry="1.1" fill="#ecd0b4" opacity="0.85"/>
<ellipse cx="237.5" cy="77.3" rx="1.1" ry="0.7" fill="#e8c4a0" opacity="0.85"/>
<ellipse cx="242.6" cy="82.2" rx="1.5" ry="1.1" fill="#e8c4a0" opacity="0.85"/>
<ellipse cx="234.0" cy="53.3" rx="1.6" ry="0.6" fill="#e2b48e" opacity="0.85"/>
<ellipse cx="242.4" cy="33.0" rx="1.3" ry="1.0" fill="#e8c4a0" opacity="0.85"/>
<ellipse cx="230.3" cy="60.1" rx="1.4" ry="1.0" fill="#e2b48e" opacity="0.85"/>
<ellipse cx="244.2" cy="37.2" rx="1.6" ry="0.9" fill="#ecd0b4" opacity="0.85"/>
<ellipse cx="230.1" cy="56.5" rx="1.4" ry="0.6" fill="#c46a32" opacity="0.85"/>
<ellipse cx="245.0" cy="38.5" rx="1.1" ry="0.6" fill="#d07838" opacity="0.85"/>
<ellipse cx="237.7" cy="45.4" rx="1.3" ry="0.8" fill="#c46a32" opacity="0.85"/>
<ellipse cx="242.9" cy="78.7" rx="1.5" ry="1.0" fill="#c46a32" opacity="0.85"/>
<ellipse cx="230.2" cy="51.4" rx="1.6" ry="0.8" fill="#ecd0b4" opacity="0.85"/>
<ellipse cx="247.2" cy="50.3" rx="1.5" ry="0.8" fill="#ecd0b4" opacity="0.85"/>
</g>
<path d="M240.6,27.5 L240.5,86" stroke="#f0a474" stroke-width="2.2" filter="url(#bl2)"/>
</g>
<rect x="266.3" y="96.7" width="3.3" height="1" fill="#fff"/>
<rect x="144.8" y="105.8" width="60.1" height="93.9" fill="#1a1422"/>
<path d="M170.2,105.8 L173.2,105.8 L173.0,113.8 L170.6,113.8Z" fill="#c8d2a0"/>
<path d="M171.50,113.20 C189.27,113.20 203.80,135.60 203.80,158.00 C203.80,181.20 195.01,198.00 174.50,198.00 C154.55,198.00 146.00,181.20 146.00,158.00 C146.00,135.60 157.47,113.20 171.50,113.20Z" fill="url(#m3)"/>
<g clip-path="url(#cp3)"><g filter="url(#bl1)">
<path d="M168,113 C152,130 148,165 160,199" fill="none" stroke="#a9c292" stroke-width="2.4" opacity="0.9"/>
<path d="M171.5,112.5 C168,135 167.5,170 170,199" fill="none" stroke="#a9c292" stroke-width="2.4" opacity="0.9"/>
<path d="M176,112.5 C192,130 194,165 184,199" fill="none" stroke="#a9c292" stroke-width="2.3" opacity="0.9"/>
<path d="M166,114 C148,130 144,160 150,195" fill="none" stroke="#a9c292" stroke-width="1.6" opacity="0.9"/>
<ellipse cx="200" cy="160" rx="4" ry="30" fill="#d5cdb8" opacity="0.6"/>
</g></g>
<rect x="199.8" y="196.3" width="3.2" height="1" fill="#fff"/>
<rect x="210.8" y="105.8" width="61.1" height="93.9" fill="#141c3e"/>
<path d="M237.6,105.8 L240.8,105.8 L240.8,114 L237.6,114Z" fill="#86c468"/>
<path d="M239.80,112.90 C255.45,112.90 271.10,134.55 271.10,158.00 C271.10,181.43 260.93,198.40 241.20,198.40 C221.86,198.40 211.90,181.43 211.90,158.00 C211.90,134.55 225.85,112.90 239.80,112.90Z" fill="#b4da98"/>
<path d="M239.90,114.90 C254.55,114.90 269.20,135.59 269.20,158.00 C269.20,180.39 259.68,196.60 241.20,196.60 C223.12,196.60 213.80,180.39 213.80,158.00 C213.80,135.59 226.85,114.90 239.90,114.90Z" fill="#f3efdf"/>
<path d="M240.00,117.40 C253.50,117.40 267.00,136.89 267.00,158.00 C267.00,179.11 258.23,194.40 241.20,194.40 C224.57,194.40 216.00,179.11 216.00,158.00 C216.00,136.89 228.00,117.40 240.00,117.40Z" fill="url(#f4)"/>
<g clip-path="url(#cp4)">
<ellipse cx="244" cy="157" rx="13" ry="33" fill="#f3a060" opacity="0.7" filter="url(#bl3)"/>
<g filter="url(#bl2)">
<path d="M237.5,125 C232,128 228.5,145 228.5,158 C228.5,172 231,182 236,186.5 C243,185 250,174 251.5,158 C252,143 247.5,128 240.5,125Z" fill="#ec7a2a"/>
<path d="M238,127 C233.5,133 230.5,150 230.5,160 C230.5,171 232.5,180 235.5,184.5 C240,180 242.5,170 243,158 C243,146 241.5,133 238,127Z" fill="#dc5a12"/>
</g>
<path d="M244.4,130.0L250.0,131.2M244.9,131.8L250.0,133.2M243.5,133.6L248.9,135.0M244.5,135.4L250.6,135.6M244.2,137.2L248.0,138.0M244.4,139.0L247.1,139.3M243.9,140.8L250.7,141.9M243.7,142.6L250.2,142.8M244.4,144.4L247.5,144.4M244.8,146.2L247.8,146.5M245.0,148.0L250.5,148.4M244.9,149.8L249.2,150.8M243.8,151.6L250.8,152.6M244.9,153.4L250.6,153.8M244.0,155.2L247.7,155.4M243.6,157.0L248.2,157.9M243.5,158.8L249.7,159.3M244.0,160.6L250.3,161.3M244.0,162.4L248.9,163.5M243.6,164.2L250.9,164.2M244.6,166.0L250.4,166.0M244.7,167.8L248.5,168.7M243.5,169.6L247.2,169.9M244.9,171.4L247.8,172.5M244.9,173.2L250.8,173.7M244.0,175.0L249.1,176.2M243.7,176.8L250.0,178.0M244.8,178.6L247.1,180.0M243.6,180.4L248.4,181.3M244.9,182.2L248.4,183.6" stroke="#f5a060" stroke-width="0.5" opacity="0.6" fill="none"/>
<ellipse cx="234.8" cy="129.5" rx="1.9" ry="1.0" fill="#fff1e2" transform="rotate(-15 234.8 129.5)"/>
<ellipse cx="238.5" cy="131.3" rx="1.7" ry="0.95" fill="#fbe4cc" transform="rotate(15 238.5 131.3)"/>
<ellipse cx="235.2" cy="133.2" rx="1.9" ry="1.0" fill="#fff1e2" transform="rotate(-15 235.2 133.2)"/>
<ellipse cx="238.9" cy="135.0" rx="1.7" ry="0.95" fill="#fbe4cc" transform="rotate(15 238.9 135.0)"/>
<ellipse cx="235.3" cy="136.9" rx="1.9" ry="1.0" fill="#fff1e2" transform="rotate(-15 235.3 136.9)"/>
<ellipse cx="239.0" cy="138.7" rx="1.7" ry="0.95" fill="#fbe4cc" transform="rotate(15 239.0 138.7)"/>
<ellipse cx="235.1" cy="140.6" rx="1.9" ry="1.0" fill="#fff1e2" transform="rotate(-15 235.1 140.6)"/>
<ellipse cx="238.8" cy="142.4" rx="1.7" ry="0.95" fill="#fbe4cc" transform="rotate(15 238.8 142.4)"/>
<ellipse cx="234.6" cy="144.3" rx="1.9" ry="1.0" fill="#fff1e2" transform="rotate(-15 234.6 144.3)"/>
<ellipse cx="238.3" cy="146.1" rx="1.7" ry="0.95" fill="#fbe4cc" transform="rotate(15 238.3 146.1)"/>
<ellipse cx="233.9" cy="148.0" rx="1.9" ry="1.0" fill="#fff1e2" transform="rotate(-15 233.9 148.0)"/>
<ellipse cx="237.6" cy="149.8" rx="1.7" ry="0.95" fill="#fbe4cc" transform="rotate(15 237.6 149.8)"/>
<ellipse cx="233.4" cy="151.7" rx="1.9" ry="1.0" fill="#fff1e2" transform="rotate(-15 233.4 151.7)"/>
<ellipse cx="237.1" cy="153.5" rx="1.7" ry="0.95" fill="#fbe4cc" transform="rotate(15 237.1 153.5)"/>
<ellipse cx="233.2" cy="155.4" rx="1.9" ry="1.0" fill="#fff1e2" transform="rotate(-15 233.2 155.4)"/>
<ellipse cx="236.9" cy="157.2" rx="1.7" ry="0.95" fill="#fbe4cc" transform="rotate(15 236.9 157.2)"/>
<ellipse cx="233.3" cy="159.1" rx="1.9" ry="1.0" fill="#fff1e2" transform="rotate(-15 233.3 159.1)"/>
<ellipse cx="237.0" cy="160.9" rx="1.7" ry="0.95" fill="#fbe4cc" transform="rotate(15 237.0 160.9)"/>
<ellipse cx="233.7" cy="162.8" rx="1.9" ry="1.0" fill="#fff1e2" transform="rotate(-15 233.7 162.8)"/>
<ellipse cx="237.4" cy="164.6" rx="1.7" ry="0.95" fill="#fbe4cc" transform="rotate(15 237.4 164.6)"/>
<ellipse cx="234.1" cy="166.5" rx="1.9" ry="1.0" fill="#fff1e2" transform="rotate(-15 234.1 166.5)"/>
<ellipse cx="237.8" cy="168.3" rx="1.7" ry="0.95" fill="#fbe4cc" transform="rotate(15 237.8 168.3)"/>
<ellipse cx="234.3" cy="170.2" rx="1.9" ry="1.0" fill="#fff1e2" transform="rotate(-15 234.3 170.2)"/>
<ellipse cx="238.0" cy="172.0" rx="1.7" ry="0.95" fill="#fbe4cc" transform="rotate(15 238.0 172.0)"/>
<ellipse cx="234.0" cy="173.9" rx="1.9" ry="1.0" fill="#fff1e2" transform="rotate(-15 234.0 173.9)"/>
<ellipse cx="237.7" cy="175.7" rx="1.7" ry="0.95" fill="#fbe4cc" transform="rotate(15 237.7 175.7)"/>
<ellipse cx="233.5" cy="177.6" rx="1.9" ry="1.0" fill="#fff1e2" transform="rotate(-15 233.5 177.6)"/>
<ellipse cx="237.2" cy="179.4" rx="1.7" ry="0.95" fill="#fbe4cc" transform="rotate(15 237.2 179.4)"/>
<ellipse cx="232.8" cy="181.3" rx="1.9" ry="1.0" fill="#fff1e2" transform="rotate(-15 232.8 181.3)"/>
<ellipse cx="236.5" cy="183.1" rx="1.7" ry="0.95" fill="#fbe4cc" transform="rotate(15 236.5 183.1)"/>
</g>
<rect x="266.0" y="196.6" width="3.3" height="1" fill="#fff"/>
<text x="285.6" y="11.1" font-size="9.6" font-weight="bold" fill="#111" textLength="12.0" lengthAdjust="spacingAndGlyphs">(d)</text>
<path d="M393.70,46.40L394.02,15.61L396.06,15.65L395.03,46.43ZM395.24,46.44L396.61,9.67L398.78,9.77L396.57,46.50ZM396.78,46.52L398.82,14.79L400.87,14.94L398.10,46.62ZM398.32,46.64L401.84,8.00L404.04,8.23L399.63,46.77ZM399.85,46.80L403.58,15.23L405.62,15.49L401.16,46.97ZM401.38,47.00L405.81,16.53L407.82,16.85L402.68,47.20ZM402.90,47.24L407.97,17.90L409.95,18.26L404.20,47.48ZM404.41,47.52L410.07,19.31L412.02,19.73L405.71,47.80ZM405.92,47.85L411.44,23.71L413.28,24.15L407.21,48.16ZM407.41,48.21L414.07,22.30L415.95,22.80L408.69,48.55ZM408.90,48.61L418.17,16.17L420.19,16.77L410.17,48.99ZM410.38,49.06L419.91,18.79L421.87,19.43L411.64,49.47ZM411.84,49.54L423.81,14.82L425.85,15.55L413.09,49.99ZM413.29,50.06L424.42,20.37L426.34,21.11L414.52,50.54ZM414.72,50.62L426.64,21.25L428.54,22.04L415.95,51.13ZM416.14,51.22L429.64,20.36L431.56,21.22L417.35,51.76ZM417.55,51.86L432.29,20.47L434.20,21.40L418.74,52.43ZM418.93,52.53L436.30,17.99L438.26,19.01L420.11,53.14ZM420.30,53.24L436.68,22.72L438.54,23.75L421.46,53.88Z" fill="#f61b1b"/>
<path d="M393.65,51.00A52.9,52.9 0 0 1 419.19,57.88" fill="none" stroke="#1a1a1a" stroke-width="0.9"/>
<text x="401.30" y="64.60" font-size="4.3" font-weight="bold" fill="#333" text-anchor="middle" dominant-baseline="central" transform="rotate(-77.0 401.30 64.60)">10.33%</text>
<path d="M428.12,58.29L449.75,30.12L451.44,31.45L429.16,59.11ZM429.33,59.25L451.70,31.68L453.34,33.05L430.35,60.10ZM430.51,60.24L454.25,32.53L455.87,33.96L431.51,61.11ZM431.67,61.25L452.77,37.92L454.27,39.32L432.64,62.15ZM432.80,62.30L455.88,38.12L457.37,39.58L433.74,63.23ZM433.90,63.38L459.73,37.73L461.23,39.28L434.82,64.33ZM434.97,64.49L459.27,41.61L460.69,43.15L435.86,65.46ZM436.01,65.62L462.39,42.09L463.80,43.70L436.88,66.62ZM437.02,66.79L465.53,42.69L466.92,44.38L437.86,67.81ZM438.00,67.98L466.34,45.30L467.67,47.00L438.81,69.02ZM438.94,69.19L468.66,46.69L469.96,48.45L439.73,70.26ZM439.86,70.43L470.95,48.17L472.22,49.98L440.61,71.52ZM440.74,71.70L471.57,50.85L472.77,52.68L441.47,72.80ZM441.58,72.98L469.56,55.14L470.67,56.92L442.28,74.11ZM442.39,74.29L469.96,57.74L471.00,59.52L443.06,75.44ZM443.17,75.62L472.88,58.84L473.90,60.69L443.81,76.79ZM443.91,76.98L471.38,62.42L472.32,64.23L444.51,78.15ZM444.61,78.35L470.65,65.43L471.51,67.23L445.19,79.54Z" fill="#1f7cc0"/>
<path d="M425.32,61.94A52.9,52.9 0 0 1 441.02,81.49" fill="none" stroke="#1a1a1a" stroke-width="0.9"/>
<text x="422.80" y="77.90" font-size="4.3" font-weight="bold" fill="#333" text-anchor="middle" dominant-baseline="central" transform="rotate(-45.0 422.80 77.90)">9.78%</text>
<path d="M448.06,87.00L470.87,79.98L471.40,81.78L448.43,88.27ZM448.49,88.48L474.34,81.28L474.84,83.16L448.83,89.76ZM448.89,89.97L476.83,82.99L477.29,84.92L449.19,91.25ZM449.24,91.46L477.32,85.24L477.73,87.19L449.51,92.76ZM449.55,92.97L477.76,87.51L478.12,89.47L449.79,94.28ZM449.82,94.49L479.12,89.63L479.43,91.61L450.03,95.80ZM450.06,96.01L478.45,92.08L478.70,94.05L450.22,97.33ZM450.25,97.54L479.69,94.26L479.89,96.26L450.38,98.86ZM450.40,99.07L478.89,96.67L479.03,98.65L450.49,100.39ZM450.51,100.61L479.02,98.98L479.11,100.96L450.57,101.93ZM450.57,102.15L480.08,101.25L480.12,103.25L450.60,103.47ZM450.60,103.69L480.09,103.58L480.07,105.59L450.59,105.01ZM450.58,105.23L479.03,105.89L478.96,107.87L450.54,106.55ZM450.53,106.77L480.91,108.29L480.79,110.31L450.45,108.09ZM450.43,108.31L477.74,110.40L477.56,112.35L450.31,109.63ZM450.29,109.84L479.49,112.87L479.26,114.86L450.14,111.16ZM450.11,111.37L480.17,115.31L479.89,117.31L449.93,112.68ZM449.89,112.89L482.76,118.10L482.41,120.16L449.67,114.20ZM449.63,114.41L477.40,119.58L477.02,121.52L449.37,115.71ZM449.33,115.92L477.90,122.03L477.46,123.98L449.04,117.22ZM448.99,117.43L477.35,124.29L476.86,126.22L448.66,118.71ZM448.60,118.92L476.74,126.53L476.20,128.45L448.24,120.19ZM448.18,120.40L476.07,128.75L475.48,130.66L447.79,121.66ZM447.72,121.87L474.39,130.64L473.76,132.51L447.29,123.12ZM447.22,123.33L474.56,133.14L473.86,135.01L446.76,124.57ZM446.68,124.77L472.78,134.94L472.05,136.76L446.18,126.00ZM446.10,126.20L471.89,137.05L471.11,138.85L445.57,127.41ZM445.49,127.61L470.95,139.13L470.12,140.92L444.92,128.81ZM444.83,129.00L469.95,141.19L469.07,142.95L444.24,130.19ZM444.14,130.38L468.01,142.76L467.09,144.48L443.52,131.55ZM443.41,131.74L466.04,144.26L465.09,145.92L442.76,132.89ZM442.65,133.07L464.90,146.18L463.91,147.82L441.96,134.21Z" fill="#20ad48"/>
<path d="M443.66,88.35A52.9,52.9 0 0 1 438.05,131.78" fill="none" stroke="#1a1a1a" stroke-width="0.9"/>
<text x="433.70" y="106.60" font-size="4.3" font-weight="bold" fill="#333" text-anchor="middle" dominant-baseline="central" transform="rotate(-12.0 433.70 106.60)">17.39%</text>
<path d="M437.29,140.69L453.93,154.55L452.75,155.94L436.43,141.70ZM436.29,141.86L454.04,157.46L452.79,158.85L435.40,142.85ZM435.26,143.00L456.23,162.46L454.86,163.90L434.34,143.97ZM434.19,144.12L456.76,166.21L455.31,167.66L433.26,145.06ZM433.10,145.21L457.84,170.75L456.28,172.22L432.14,146.12ZM431.98,146.26L451.27,167.28L449.80,168.61L430.99,147.15Z" fill="#a64dbf"/>
<path d="M433.75,137.75A52.9,52.9 0 0 1 427.96,143.69" fill="none" stroke="#1a1a1a" stroke-width="0.9"/>
<text x="421.80" y="131.30" font-size="4.3" font-weight="bold" fill="#333" text-anchor="middle" dominant-baseline="central" transform="rotate(43.0 421.80 131.30)">3.26%</text>
<path d="M424.63,151.98L444.59,182.43L442.77,183.59L423.51,152.70ZM423.33,152.81L440.89,181.21L439.09,182.29L422.20,153.49ZM422.01,153.60L438.29,181.58L436.48,182.60L420.86,154.26ZM420.67,154.36L436.18,182.75L434.35,183.72L419.50,154.98ZM419.31,155.08L435.41,186.53L433.50,187.49L418.12,155.67ZM417.93,155.76L434.90,191.23L432.88,192.17L416.73,156.32ZM416.53,156.41L430.91,188.65L428.95,189.50L415.31,156.94ZM415.11,157.02L429.01,190.55L427.00,191.35L413.88,157.51ZM413.68,157.59L424.88,186.80L422.96,187.51L412.44,158.05ZM412.24,158.12L423.64,190.44L421.64,191.12L410.98,158.55ZM410.78,158.62L420.70,189.31L418.72,189.92L409.51,159.01ZM409.31,159.07L418.39,190.01L416.40,190.57L408.03,159.43ZM407.82,159.48L415.56,188.71L413.60,189.21L406.54,159.81ZM406.33,159.86L413.51,190.25L411.52,190.70L405.04,160.15ZM404.82,160.19L410.99,189.78L409.00,190.17L403.52,160.45ZM403.31,160.49L408.86,191.21L406.84,191.55L402.01,160.71ZM401.79,160.74L407.42,197.52L405.26,197.83L400.48,160.92ZM400.27,160.95L403.03,182.99L401.21,183.19L398.95,161.10ZM398.74,161.12L400.81,182.23L399.01,182.38L397.42,161.24ZM397.20,161.25L398.64,181.40L396.85,181.51L395.88,161.33Z" fill="#fd8a13"/>
<path d="M422.11,148.14A52.9,52.9 0 0 1 395.66,156.74" fill="none" stroke="#1a1a1a" stroke-width="0.9"/>
<text x="407.30" y="140.60" font-size="4.3" font-weight="bold" fill="#333" text-anchor="middle" dominant-baseline="central" transform="rotate(65.0 407.30 140.60)">10.87%</text>
<path d="M387.89,161.16L384.97,193.24L382.91,193.03L386.57,161.03ZM386.36,161.00L382.58,192.99L380.53,192.73L385.04,160.83ZM384.83,160.80L380.05,193.67L377.99,193.35L383.52,160.60ZM383.31,160.56L377.14,196.25L375.02,195.86L382.01,160.32ZM381.79,160.28L374.08,198.74L371.90,198.28L380.50,160.00ZM380.29,159.95L372.66,193.33L370.60,192.84L379.00,159.64ZM378.79,159.59L370.27,192.76L368.23,192.21L377.51,159.25ZM377.30,159.19L367.62,193.09L365.57,192.47L376.03,158.81ZM375.83,158.74L363.43,198.10L361.27,197.40L374.57,158.33ZM374.37,158.26L362.22,193.50L360.16,192.77L373.12,157.82ZM372.92,157.74L361.23,188.91L359.28,188.15L371.68,157.26ZM371.48,157.18L359.71,186.19L357.83,185.39L370.26,156.67ZM370.06,156.58L359.12,181.61L357.34,180.81L368.85,156.04Z" fill="#fdf11a"/>
<path d="M388.31,156.58A52.9,52.9 0 0 1 370.79,151.87" fill="none" stroke="#1a1a1a" stroke-width="0.9"/>
<text x="384.60" y="141.60" font-size="4.3" font-weight="bold" fill="#333" text-anchor="middle" dominant-baseline="central" transform="rotate(-78.0 384.60 141.60)">7.07%</text>
<path d="M361.86,152.17L343.70,180.23L341.96,179.07L360.76,151.44ZM360.58,151.32L341.10,179.72L339.37,178.50L359.49,150.56ZM359.32,150.43L342.01,174.27L340.41,173.07L358.26,149.64ZM358.08,149.51L335.87,178.44L334.17,177.10L357.04,148.69ZM356.88,148.55L333.88,176.90L332.21,175.52L355.86,147.71ZM355.69,147.57L331.28,176.06L329.63,174.62L354.70,146.69ZM354.54,146.55L333.38,169.95L331.87,168.56L353.56,145.65ZM353.41,145.50L328.16,171.96L326.61,170.45L352.46,144.58ZM352.31,144.42L324.93,171.62L323.38,170.03L351.38,143.47ZM351.24,143.32L325.30,167.73L323.85,166.15L350.34,142.34ZM350.20,142.18L328.07,161.92L326.75,160.40L349.32,141.18ZM349.18,141.02L323.47,162.75L322.13,161.13L348.34,140.00ZM348.21,139.83L326.58,157.14L325.37,155.59L347.39,138.78ZM347.26,138.61L319.58,159.58L318.31,157.87L346.47,137.55ZM346.35,137.37L315.65,159.35L314.39,157.55L345.59,136.29ZM345.47,136.11L319.97,153.35L318.85,151.65L344.74,135.00ZM344.62,134.82L311.90,155.69L310.73,153.81L343.92,133.70ZM343.81,133.51L318.23,148.88L317.21,147.14L343.14,132.37ZM343.03,132.18L313.54,148.84L312.53,146.99L342.40,131.02Z" fill="#b8581e"/>
<path d="M364.36,148.31A52.9,52.9 0 0 1 346.45,128.85" fill="none" stroke="#1a1a1a" stroke-width="0.9"/>
<text x="365.70" y="132.40" font-size="4.3" font-weight="bold" fill="#333" text-anchor="middle" dominant-baseline="central" transform="rotate(-50.0 365.70 132.40)">10.33%</text>
<path d="M339.13,123.73L314.66,132.71L314.02,130.90L338.68,122.48ZM338.61,122.27L311.99,131.25L311.38,129.38L338.21,121.01ZM338.14,120.81L310.30,129.37L309.73,127.46L337.77,119.54ZM337.71,119.33L308.65,127.42L308.13,125.47L337.37,118.05ZM337.32,117.84L304.14,126.13L303.65,124.08L337.01,116.55ZM336.96,116.34L300.61,124.40L300.16,122.26L336.69,115.04ZM336.65,114.83L303.99,121.16L303.61,119.10L336.41,113.53ZM336.38,113.32L306.48,118.28L306.18,116.28L336.17,112.01ZM336.14,111.79L308.08,115.68L307.83,113.72L335.98,110.48Z" fill="#23b89c"/>
<path d="M343.44,122.14A52.9,52.9 0 0 1 340.55,109.95" fill="none" stroke="#1a1a1a" stroke-width="0.9"/>
<text x="355.40" y="114.00" font-size="4.3" font-weight="bold" fill="#333" text-anchor="middle" dominant-baseline="central" transform="rotate(-17.0 355.40 114.00)">4.89%</text>
<path d="M335.62,102.50L300.08,101.63L300.16,99.48L335.66,101.17ZM335.68,100.96L301.14,99.19L301.27,97.07L335.76,99.63ZM335.77,99.42L300.27,96.64L300.46,94.51L335.89,98.10ZM335.92,97.88L302.45,94.36L302.69,92.28L336.07,96.57ZM336.10,96.35L301.71,91.80L302.01,89.70L336.29,95.04ZM336.32,94.83L301.05,89.20L301.41,87.08L336.54,93.52ZM336.58,93.31L302.42,86.91L302.84,84.83L336.84,92.01ZM336.89,91.80L304.83,84.90L305.29,82.88L337.18,90.51ZM337.23,90.30L306.31,82.78L306.82,80.78L337.56,89.02ZM337.62,88.81L307.84,80.71L308.40,78.75L337.98,87.54ZM338.04,87.33L309.42,78.71L310.02,76.79L338.44,86.06ZM338.50,85.86L307.24,75.53L307.92,73.56L338.93,84.61ZM339.01,84.40L307.06,72.89L307.80,70.92L339.47,83.16ZM339.55,82.96L306.96,70.22L307.76,68.25L340.04,81.73ZM340.13,81.53L308.79,68.30L309.63,66.37L340.66,80.32ZM340.75,80.12L308.83,65.63L309.74,63.70L341.31,78.92ZM341.40,78.73L308.96,62.93L309.93,61.01L342.00,77.55ZM342.09,77.35L310.95,61.14L311.95,59.26L342.72,76.19ZM342.82,76.00L312.97,59.43L314.02,57.59L343.48,74.85ZM343.59,74.66L314.16,57.28L315.26,55.48L344.28,73.53ZM344.39,73.34L317.53,56.50L318.65,54.77L345.11,72.23ZM345.23,72.05L318.39,54.20L319.56,52.49L345.97,70.96ZM346.10,70.78L319.32,51.91L320.53,50.22L346.87,69.71ZM347.00,69.53L323.52,52.03L324.73,50.44L347.80,68.48ZM347.94,68.31L325.30,50.47L326.55,48.93L348.77,67.28ZM348.91,67.11L327.12,48.98L328.41,47.47L349.77,66.10ZM349.91,65.94L330.10,48.54L331.39,47.10L350.79,64.96ZM350.94,64.80L333.79,48.89L335.07,47.54L351.85,63.84ZM352.00,63.68L333.84,45.90L335.19,44.55L352.94,62.75ZM353.10,62.60L329.83,38.57L331.35,37.13L354.06,61.69ZM354.22,61.54L333.61,39.10L335.12,37.74L355.20,60.66ZM355.37,60.51L336.67,39.02L338.18,37.73L356.37,59.66ZM356.54,59.52L341.21,40.91L342.67,39.73L357.57,58.69ZM357.74,58.56L342.04,38.42L343.56,37.26L358.80,57.75ZM358.97,57.62L343.21,36.25L344.78,35.12L360.05,56.85ZM360.22,56.73L343.88,33.28L345.52,32.17L361.32,55.98ZM361.50,55.86L343.58,28.63L345.33,27.51L362.61,55.15ZM362.80,55.03L349.30,33.27L350.94,32.28L363.93,54.35ZM364.12,54.24L350.69,31.24L352.38,30.28L365.27,53.59ZM365.46,53.48L351.68,28.36L353.44,27.43L366.63,52.86ZM366.82,52.76L353.26,26.38L355.05,25.48L368.00,52.17ZM368.20,52.07L356.21,27.13L357.99,26.30L369.40,51.51ZM369.59,51.42L357.86,25.24L359.69,24.45L370.81,50.90ZM371.01,50.81L358.06,19.69L360.01,18.91L372.24,50.32ZM372.44,50.24L362.48,24.37L364.32,23.69L373.68,49.78ZM373.88,49.71L365.28,25.46L367.10,24.84L375.14,49.28Z" fill="#fb8e61"/>
<path d="M340.22,102.61A52.9,52.9 0 0 1 376.57,53.65" fill="none" stroke="#1a1a1a" stroke-width="0.9"/>
<text x="362.40" y="83.90" font-size="4.3" font-weight="bold" fill="#333" text-anchor="middle" dominant-baseline="central" transform="rotate(4.0 362.40 83.90)">25%</text>
<path d="M382.88,47.31L377.06,15.05L379.11,14.71L384.19,47.09ZM384.40,47.06L380.20,19.59L382.15,19.32L385.71,46.88Z" fill="#7f9fd5"/>
<path d="M383.70,51.84A52.9,52.9 0 0 1 386.31,51.44" fill="none" stroke="#1a1a1a" stroke-width="0.9"/>
<text x="387.20" y="65.40" font-size="4.3" font-weight="bold" fill="#333" text-anchor="middle" dominant-baseline="central" transform="rotate(82.0 387.20 65.40)">1.09%</text>
<rect x="476.9" y="137.00" width="5.2" height="5.0" fill="#f61b1b"/>
<text x="485.20" y="141.10" font-size="4.55" text-anchor="start" fill="#222">Alkaloids</text>
<rect x="476.9" y="143.06" width="5.2" height="5.0" fill="#1f7cc0"/>
<text x="485.20" y="147.16" font-size="4.55" text-anchor="start" fill="#222">Amino acids and derivatives</text>
<rect x="476.9" y="149.12" width="5.2" height="5.0" fill="#20ad48"/>
<text x="485.20" y="153.22" font-size="4.55" text-anchor="start" fill="#222">Flavonoids</text>
<rect x="476.9" y="155.18" width="5.2" height="5.0" fill="#a64dbf"/>
<text x="485.20" y="159.28" font-size="4.55" text-anchor="start" fill="#222">Lignans and Coumarins</text>
<rect x="476.9" y="161.24" width="5.2" height="5.0" fill="#fd8a13"/>
<text x="485.20" y="165.34" font-size="4.55" text-anchor="start" fill="#222">Lipids</text>
<rect x="476.9" y="167.30" width="5.2" height="5.0" fill="#fdf11a"/>
<text x="485.20" y="171.40" font-size="4.55" text-anchor="start" fill="#222">Nucleotides and derivatives</text>
<rect x="476.9" y="173.36" width="5.2" height="5.0" fill="#b8581e"/>
<text x="485.20" y="177.46" font-size="4.55" text-anchor="start" fill="#222">Organic acids</text>
<rect x="476.9" y="179.42" width="5.2" height="5.0" fill="#23b89c"/>
<text x="485.20" y="183.52" font-size="4.55" text-anchor="start" fill="#222">Others</text>
<rect x="476.9" y="185.48" width="5.2" height="5.0" fill="#fb8e61"/>
<text x="485.20" y="189.58" font-size="4.55" text-anchor="start" fill="#222">Phenolic acids</text>
<rect x="476.9" y="191.54" width="5.2" height="5.0" fill="#7f9fd5"/>
<text x="485.20" y="195.64" font-size="4.55" text-anchor="start" fill="#222">Terpenoids</text>
<text x="2.2" y="219.4" font-size="9.6" font-weight="bold" fill="#111" textLength="11.2" lengthAdjust="spacingAndGlyphs">(e)</text>
<rect x="184.8" y="214.4" width="81.39999999999998" height="166.99999999999997" rx="1.2" fill="none" stroke="#666" stroke-width="0.7"/>
<line x1="183.5" y1="219.30" x2="184.8" y2="219.30" stroke="#444" stroke-width="0.5"/>
<text x="181.20" y="221.30" font-size="6.5" font-weight="bold" text-anchor="end" fill="#333">Glutathione metabolism</text>
<line x1="225.8" y1="219.30" x2="228.86" y2="219.30" stroke="#ff2a10" stroke-width="0.9"/>
<circle cx="228.86" cy="219.30" r="1.5" fill="#ff2a10"/>
<line x1="183.5" y1="227.61" x2="184.8" y2="227.61" stroke="#444" stroke-width="0.5"/>
<text x="181.20" y="229.61" font-size="6.5" font-weight="bold" text-anchor="end" fill="#333">Histidine metabolism</text>
<line x1="225.8" y1="227.61" x2="225.80" y2="227.61" stroke="#ff2a10" stroke-width="0.9"/>
<circle cx="225.80" cy="227.61" r="1.3" fill="#ff2a10"/>
<line x1="183.5" y1="235.92" x2="184.8" y2="235.92" stroke="#444" stroke-width="0.5"/>
<text x="181.20" y="237.92" font-size="6.5" font-weight="bold" text-anchor="end" fill="#333">Glycerophospholipid metabolism</text>
<line x1="225.8" y1="235.92" x2="231.92" y2="235.92" stroke="#ff2a10" stroke-width="0.9"/>
<circle cx="231.92" cy="235.92" r="1.3" fill="#ff2a10"/>
<line x1="183.5" y1="244.23" x2="184.8" y2="244.23" stroke="#444" stroke-width="0.5"/>
<text x="181.20" y="246.23" font-size="6.5" font-weight="bold" text-anchor="end" fill="#333">Flavone and flavonol biosynthesis</text>
<line x1="225.8" y1="244.23" x2="237.12" y2="244.23" stroke="#ff3010" stroke-width="0.9"/>
<circle cx="237.12" cy="244.23" r="1.4" fill="#ff3010"/>
<line x1="183.5" y1="252.54" x2="184.8" y2="252.54" stroke="#444" stroke-width="0.5"/>
<text x="181.20" y="254.54" font-size="6.5" font-weight="bold" text-anchor="end" fill="#333">Phenylpropanoid biosynthesis</text>
<line x1="225.8" y1="252.54" x2="234.37" y2="252.54" stroke="#ff3510" stroke-width="0.9"/>
<circle cx="234.37" cy="252.54" r="1.4" fill="#ff3510"/>
<line x1="183.5" y1="260.85" x2="184.8" y2="260.85" stroke="#444" stroke-width="0.5"/>
<text x="181.20" y="262.85" font-size="6.5" font-weight="bold" text-anchor="end" fill="#333">Acridone alkaloid biosynthesis</text>
<line x1="225.8" y1="260.85" x2="195.20" y2="260.85" stroke="#ff5a30" stroke-width="0.9"/>
<circle cx="195.20" cy="260.85" r="0.6" fill="#ff5a30"/>
<line x1="183.5" y1="269.16" x2="184.8" y2="269.16" stroke="#444" stroke-width="0.5"/>
<text x="181.20" y="271.16" font-size="6.5" font-weight="bold" text-anchor="end" fill="#333">Synthesis and degradation of ketone bodies</text>
<line x1="225.8" y1="269.16" x2="195.20" y2="269.16" stroke="#ff5a30" stroke-width="0.9"/>
<circle cx="195.20" cy="269.16" r="0.6" fill="#ff5a30"/>
<line x1="183.5" y1="277.47" x2="184.8" y2="277.47" stroke="#444" stroke-width="0.5"/>
<text x="181.20" y="279.47" font-size="6.5" font-weight="bold" text-anchor="end" fill="#333">Glycosylphosphatidylinositol (GPI)−anchor biosynthesis</text>
<line x1="225.8" y1="277.47" x2="256.40" y2="277.47" stroke="#ff6a48" stroke-width="0.9"/>
<circle cx="256.40" cy="277.47" r="0.7" fill="#ff6a48"/>
<line x1="183.5" y1="285.78" x2="184.8" y2="285.78" stroke="#444" stroke-width="0.5"/>
<text x="181.20" y="287.78" font-size="6.5" font-weight="bold" text-anchor="end" fill="#333">Phenylalanine metabolism</text>
<line x1="225.8" y1="285.78" x2="224.27" y2="285.78" stroke="#ff6a30" stroke-width="0.9"/>
<circle cx="224.27" cy="285.78" r="1.4" fill="#ff6a30"/>
<line x1="183.5" y1="294.09" x2="184.8" y2="294.09" stroke="#444" stroke-width="0.5"/>
<text x="181.20" y="296.09" font-size="6.5" font-weight="bold" text-anchor="end" fill="#333">Neomycin, kanamycin and gentamicin biosynthesis</text>
<line x1="225.8" y1="294.09" x2="238.04" y2="294.09" stroke="#ff6a38" stroke-width="0.9"/>
<circle cx="238.04" cy="294.09" r="0.9" fill="#ff6a38"/>
<line x1="183.5" y1="302.40" x2="184.8" y2="302.40" stroke="#444" stroke-width="0.5"/>
<text x="181.20" y="304.40" font-size="6.5" font-weight="bold" text-anchor="end" fill="#333">Linoleic acid metabolism</text>
<line x1="225.8" y1="302.40" x2="217.23" y2="302.40" stroke="#f57f22" stroke-width="0.9"/>
<circle cx="217.23" cy="302.40" r="1.4" fill="#f57f22"/>
<line x1="183.5" y1="310.71" x2="184.8" y2="310.71" stroke="#444" stroke-width="0.5"/>
<text x="181.20" y="312.71" font-size="6.5" font-weight="bold" text-anchor="end" fill="#333">Biosynthesis of secondary metabolites</text>
<line x1="225.8" y1="310.71" x2="227.02" y2="310.71" stroke="#f59a30" stroke-width="0.9"/>
<circle cx="227.02" cy="310.71" r="2.4" fill="#f59a30"/>
<line x1="183.5" y1="319.02" x2="184.8" y2="319.02" stroke="#444" stroke-width="0.5"/>
<text x="181.20" y="321.02" font-size="6.5" font-weight="bold" text-anchor="end" fill="#333">Arachidonic acid metabolism</text>
<line x1="225.8" y1="319.02" x2="209.89" y2="319.02" stroke="#f5a030" stroke-width="0.9"/>
<circle cx="209.89" cy="319.02" r="0.6" fill="#f5a030"/>
<line x1="183.5" y1="327.33" x2="184.8" y2="327.33" stroke="#444" stroke-width="0.5"/>
<text x="181.20" y="329.33" font-size="6.5" font-weight="bold" text-anchor="end" fill="#333">Nitrogen metabolism</text>
<line x1="225.8" y1="327.33" x2="241.71" y2="327.33" stroke="#f5b040" stroke-width="0.9"/>
<circle cx="241.71" cy="327.33" r="0.6" fill="#f5b040"/>
<line x1="183.5" y1="335.64" x2="184.8" y2="335.64" stroke="#444" stroke-width="0.5"/>
<text x="181.20" y="337.64" font-size="6.5" font-weight="bold" text-anchor="end" fill="#333">Sphingolipid metabolism</text>
<line x1="225.8" y1="335.64" x2="241.71" y2="335.64" stroke="#f5b040" stroke-width="0.9"/>
<circle cx="241.71" cy="335.64" r="0.6" fill="#f5b040"/>
<line x1="183.5" y1="343.95" x2="184.8" y2="343.95" stroke="#444" stroke-width="0.5"/>
<text x="181.20" y="345.95" font-size="6.5" font-weight="bold" text-anchor="end" fill="#333">Stilbenoid, diarylheptanoid and gingerol biosynthesis</text>
<line x1="225.8" y1="343.95" x2="241.71" y2="343.95" stroke="#f5b040" stroke-width="0.9"/>
<circle cx="241.71" cy="343.95" r="0.6" fill="#f5b040"/>
<line x1="183.5" y1="352.26" x2="184.8" y2="352.26" stroke="#444" stroke-width="0.5"/>
<text x="181.20" y="354.26" font-size="6.5" font-weight="bold" text-anchor="end" fill="#333">Fatty acid metabolism</text>
<line x1="225.8" y1="352.26" x2="209.89" y2="352.26" stroke="#f5b040" stroke-width="0.9"/>
<circle cx="209.89" cy="352.26" r="0.6" fill="#f5b040"/>
<line x1="183.5" y1="360.57" x2="184.8" y2="360.57" stroke="#444" stroke-width="0.5"/>
<text x="181.20" y="362.57" font-size="6.5" font-weight="bold" text-anchor="end" fill="#333">Photosynthesis</text>
<line x1="225.8" y1="360.57" x2="241.71" y2="360.57" stroke="#f5b040" stroke-width="0.9"/>
<circle cx="241.71" cy="360.57" r="0.6" fill="#f5b040"/>
<line x1="183.5" y1="368.88" x2="184.8" y2="368.88" stroke="#444" stroke-width="0.5"/>
<text x="181.20" y="370.88" font-size="6.5" font-weight="bold" text-anchor="end" fill="#333">Biosynthesis of various secondary metabolites − part 2</text>
<line x1="225.8" y1="368.88" x2="228.86" y2="368.88" stroke="#7fd62a" stroke-width="0.9"/>
<circle cx="228.86" cy="368.88" r="1.0" fill="#7fd62a"/>
<line x1="183.5" y1="377.19" x2="184.8" y2="377.19" stroke="#444" stroke-width="0.5"/>
<text x="181.20" y="379.19" font-size="6.5" font-weight="bold" text-anchor="end" fill="#333">Fatty acid degradation</text>
<line x1="225.8" y1="377.19" x2="215.09" y2="377.19" stroke="#7fd62a" stroke-width="0.9"/>
<circle cx="215.09" cy="377.19" r="0.7" fill="#7fd62a"/>
<line x1="195.20" y1="381.4" x2="195.20" y2="382.7" stroke="#444" stroke-width="0.5"/>
<text x="194.40" y="388.00" font-size="4.8" text-anchor="middle" fill="#333">-1.0</text>
<line x1="210.50" y1="381.4" x2="210.50" y2="382.7" stroke="#444" stroke-width="0.5"/>
<text x="209.70" y="388.00" font-size="4.8" text-anchor="middle" fill="#333">-0.5</text>
<line x1="225.80" y1="381.4" x2="225.80" y2="382.7" stroke="#444" stroke-width="0.5"/>
<text x="225.80" y="388.00" font-size="4.8" text-anchor="middle" fill="#333">0.0</text>
<line x1="241.10" y1="381.4" x2="241.10" y2="382.7" stroke="#444" stroke-width="0.5"/>
<text x="241.10" y="388.00" font-size="4.8" text-anchor="middle" fill="#333">0.5</text>
<line x1="256.40" y1="381.4" x2="256.40" y2="382.7" stroke="#444" stroke-width="0.5"/>
<text x="256.40" y="388.00" font-size="4.8" text-anchor="middle" fill="#333">1.0</text>
<text x="225.65" y="397.20" font-size="6.4" font-weight="bold" text-anchor="middle" fill="#111">Differential Abundance (DA) Score</text>
<text x="277.50" y="263.60" font-size="4.9" font-weight="bold" text-anchor="start" fill="#222">P−Value</text>
<rect x="277.0" y="267.9" width="5.4" height="27.2" fill="url(#pv)"/>
<text x="284.40" y="270.20" font-size="5.2" font-weight="bold" text-anchor="start" fill="#2a2a2a">1.00</text>
<text x="284.40" y="276.55" font-size="5.2" font-weight="bold" text-anchor="start" fill="#2a2a2a">0.75</text>
<text x="284.40" y="282.90" font-size="5.2" font-weight="bold" text-anchor="start" fill="#2a2a2a">0.50</text>
<text x="284.40" y="289.25" font-size="5.2" font-weight="bold" text-anchor="start" fill="#2a2a2a">0.25</text>
<text x="284.40" y="295.60" font-size="5.2" font-weight="bold" text-anchor="start" fill="#2a2a2a">0.00</text>
<text x="277.80" y="304.80" font-size="4.6" font-weight="bold" text-anchor="start" fill="#222">Count</text>
<circle cx="280.5" cy="309.40" r="0.75" fill="#111"/>
<text x="284.70" y="311.10" font-size="4.6" font-weight="bold" text-anchor="start" fill="#2a2a2a">5</text>
<circle cx="280.5" cy="314.50" r="1.2" fill="#111"/>
<text x="284.70" y="316.20" font-size="4.6" font-weight="bold" text-anchor="start" fill="#2a2a2a">10</text>
<circle cx="280.5" cy="320.00" r="1.5" fill="#111"/>
<text x="284.70" y="321.70" font-size="4.6" font-weight="bold" text-anchor="start" fill="#2a2a2a">15</text>
<circle cx="280.5" cy="325.30" r="1.75" fill="#111"/>
<text x="284.70" y="327.00" font-size="4.6" font-weight="bold" text-anchor="start" fill="#2a2a2a">20</text>
<circle cx="280.5" cy="330.70" r="2.05" fill="#111"/>
<text x="284.70" y="332.40" font-size="4.6" font-weight="bold" text-anchor="start" fill="#2a2a2a">25</text>
<text x="316.7" y="219.4" font-size="9.6" font-weight="bold" fill="#111" textLength="9.3" lengthAdjust="spacingAndGlyphs">(f)</text>
<rect x="349.4" y="239.4" width="105.60000000000002" height="160.29999999999998" fill="#e06040"/>
<path d="M349.4,239.4h5.2v2.0h-5.2zM357.4,239.4h2.0v2.0h-2.0zM392.6,239.4h2.0v2.0h-2.0zM349.4,241.0h2.0v2.0h-2.0zM352.6,241.0h3.6v2.0h-3.6zM357.4,241.0h2.0v2.0h-2.0zM384.6,241.0h2.0v2.0h-2.0zM362.2,242.6h2.0v2.0h-2.0zM367.0,242.6h2.0v2.0h-2.0zM367.0,244.2h3.6v2.0h-3.6zM384.6,244.2h5.2v2.0h-5.2zM359.0,245.8h2.0v2.0h-2.0zM362.2,245.8h2.0v2.0h-2.0zM368.6,245.8h2.0v2.0h-2.0zM354.2,247.4h2.0v2.0h-2.0zM359.0,247.4h2.0v2.0h-2.0zM365.4,247.4h5.2v2.0h-5.2zM365.4,249.0h3.6v2.0h-3.6zM368.6,250.6h2.0v2.0h-2.0zM360.6,252.2h5.2v2.0h-5.2zM368.6,252.2h2.0v2.0h-2.0zM360.6,253.8h2.0v2.0h-2.0zM365.4,253.8h3.6v2.0h-3.6zM387.8,253.8h2.0v2.0h-2.0zM359.0,255.4h2.0v2.0h-2.0zM362.2,255.4h5.2v2.0h-5.2zM359.0,257.0h2.0v2.0h-2.0zM365.4,257.0h2.0v2.0h-2.0zM368.6,258.6h2.0v2.0h-2.0zM359.0,260.2h2.0v2.0h-2.0zM368.6,260.2h2.0v2.0h-2.0zM368.6,261.8h2.0v2.0h-2.0zM370.2,263.4h2.0v2.0h-2.0zM357.4,265.0h3.6v2.0h-3.6zM363.8,266.7h2.0v2.0h-2.0zM363.8,268.3h2.0v2.0h-2.0zM363.8,277.9h2.0v2.0h-2.0zM355.8,297.1h2.0v2.0h-2.0zM384.6,297.1h2.0v2.0h-2.0zM387.8,297.1h2.0v2.0h-2.0zM386.2,298.7h2.0v2.0h-2.0zM351.0,300.3h2.0v2.0h-2.0zM355.8,300.3h2.0v2.0h-2.0zM389.4,301.9h2.0v2.0h-2.0zM392.6,301.9h2.0v2.0h-2.0zM394.2,305.1h2.0v2.0h-2.0zM397.4,305.1h2.0v2.0h-2.0zM391.0,306.7h2.0v2.0h-2.0zM395.8,306.7h2.0v2.0h-2.0zM391.0,308.3h2.0v2.0h-2.0zM394.2,308.3h2.0v2.0h-2.0zM387.8,309.9h2.0v2.0h-2.0zM352.6,311.5h2.0v2.0h-2.0zM387.8,311.5h2.0v2.0h-2.0zM386.2,313.1h5.2v2.0h-5.2zM397.4,313.1h2.0v2.0h-2.0zM355.8,314.7h2.0v2.0h-2.0zM394.2,314.7h2.0v2.0h-2.0zM415.0,317.9h5.2v2.0h-5.2zM416.6,321.2h3.6v2.0h-3.6zM418.2,322.8h2.0v2.0h-2.0zM416.6,324.4h3.6v2.0h-3.6zM411.8,326.0h2.0v2.0h-2.0zM416.6,326.0h2.0v2.0h-2.0zM411.8,327.6h2.0v2.0h-2.0zM415.0,327.6h2.0v2.0h-2.0zM416.6,329.2h2.0v2.0h-2.0zM411.8,330.8h3.6v2.0h-3.6zM408.6,334.0h2.0v2.0h-2.0zM413.4,334.0h2.0v2.0h-2.0zM411.8,335.6h5.2v2.0h-5.2zM418.2,335.6h2.0v2.0h-2.0zM415.0,337.2h2.0v2.0h-2.0zM415.0,338.8h3.6v2.0h-3.6zM415.0,340.4h2.0v2.0h-2.0zM413.4,342.0h3.6v2.0h-3.6zM411.8,343.6h2.0v2.0h-2.0zM418.2,343.6h2.0v2.0h-2.0zM410.2,348.4h2.0v2.0h-2.0zM416.6,348.4h2.0v2.0h-2.0zM413.4,351.6h3.6v2.0h-3.6zM415.0,358.0h2.0v2.0h-2.0zM415.0,361.2h2.0v2.0h-2.0zM413.4,362.8h2.0v2.0h-2.0zM415.0,364.4h2.0v2.0h-2.0zM413.4,366.0h2.0v2.0h-2.0zM411.8,374.1h2.0v2.0h-2.0zM413.4,375.7h6.8v2.0h-6.8zM415.0,377.3h2.0v2.0h-2.0zM415.0,378.9h2.0v2.0h-2.0zM415.0,380.5h3.6v2.0h-3.6zM429.4,383.7h2.0v2.0h-2.0zM448.6,383.7h2.0v2.0h-2.0zM405.4,385.3h2.0v2.0h-2.0zM429.4,385.3h2.0v2.0h-2.0zM432.6,385.3h2.0v2.0h-2.0zM443.8,385.3h2.0v2.0h-2.0zM451.8,385.3h2.0v2.0h-2.0zM405.4,386.9h3.6v2.0h-3.6zM429.4,386.9h2.0v2.0h-2.0zM447.0,386.9h2.0v2.0h-2.0zM443.8,388.5h2.0v2.0h-2.0zM448.6,388.5h2.0v2.0h-2.0zM407.0,390.1h2.0v2.0h-2.0zM426.2,390.1h2.0v2.0h-2.0zM432.6,390.1h2.0v2.0h-2.0zM437.4,390.1h2.0v2.0h-2.0zM443.8,390.1h2.0v2.0h-2.0zM453.4,390.1h2.0v2.0h-2.0zM410.2,391.7h2.0v2.0h-2.0zM432.6,391.7h3.6v2.0h-3.6zM443.8,391.7h3.6v2.0h-3.6zM448.6,391.7h2.0v2.0h-2.0zM451.8,391.7h2.0v2.0h-2.0zM424.6,393.3h3.6v2.0h-3.6zM445.4,393.3h3.6v2.0h-3.6zM451.8,393.3h2.0v2.0h-2.0zM407.0,394.9h2.0v2.0h-2.0zM427.8,394.9h2.0v2.0h-2.0zM432.6,394.9h2.0v2.0h-2.0zM435.8,394.9h2.0v2.0h-2.0zM445.4,394.9h2.0v2.0h-2.0zM448.6,394.9h2.0v2.0h-2.0zM453.4,394.9h2.0v2.0h-2.0zM443.8,396.5h2.0v2.0h-2.0zM408.6,398.1h2.0v2.0h-2.0zM413.4,398.1h2.0v2.0h-2.0zM451.8,398.1h2.0v2.0h-2.0z" fill="#f66642"/>
<path d="M354.2,239.4h2.0v2.0h-2.0zM384.6,239.4h2.0v2.0h-2.0zM394.2,239.4h2.0v2.0h-2.0zM352.6,242.6h2.0v2.0h-2.0zM392.6,242.6h3.6v2.0h-3.6zM399.0,242.6h2.0v2.0h-2.0zM349.4,244.2h3.6v2.0h-3.6zM365.4,244.2h2.0v2.0h-2.0zM371.8,244.2h2.0v2.0h-2.0zM392.6,244.2h2.0v2.0h-2.0zM395.8,244.2h2.0v2.0h-2.0zM360.6,245.8h2.0v2.0h-2.0zM363.8,245.8h3.6v2.0h-3.6zM394.2,245.8h2.0v2.0h-2.0zM370.2,247.4h2.0v2.0h-2.0zM387.8,247.4h2.0v2.0h-2.0zM370.2,249.0h2.0v2.0h-2.0zM354.2,250.6h2.0v2.0h-2.0zM349.4,252.2h2.0v2.0h-2.0zM352.6,252.2h2.0v2.0h-2.0zM349.4,253.8h2.0v2.0h-2.0zM352.6,253.8h2.0v2.0h-2.0zM352.6,255.4h2.0v2.0h-2.0zM360.6,255.4h2.0v2.0h-2.0zM386.2,255.4h2.0v2.0h-2.0zM360.6,257.0h3.6v2.0h-3.6zM389.4,257.0h2.0v2.0h-2.0zM362.2,258.6h2.0v2.0h-2.0zM387.8,258.6h2.0v2.0h-2.0zM362.2,260.2h3.6v2.0h-3.6zM367.0,260.2h2.0v2.0h-2.0zM357.4,261.8h2.0v2.0h-2.0zM362.2,263.4h2.0v2.0h-2.0zM365.4,265.0h2.0v2.0h-2.0zM357.4,266.7h2.0v2.0h-2.0zM370.2,276.3h2.0v2.0h-2.0zM370.2,277.9h2.0v2.0h-2.0zM359.0,285.9h2.0v2.0h-2.0zM365.4,285.9h3.6v2.0h-3.6zM357.4,290.7h2.0v2.0h-2.0zM360.6,290.7h2.0v2.0h-2.0zM395.8,297.1h2.0v2.0h-2.0zM399.0,303.5h2.0v2.0h-2.0zM389.4,305.1h2.0v2.0h-2.0zM399.0,308.3h2.0v2.0h-2.0zM389.4,309.9h2.0v2.0h-2.0zM395.8,311.5h2.0v2.0h-2.0zM391.0,313.1h2.0v2.0h-2.0zM394.2,313.1h2.0v2.0h-2.0zM399.0,313.1h2.0v2.0h-2.0zM411.8,317.9h2.0v2.0h-2.0zM415.0,324.4h2.0v2.0h-2.0zM408.6,326.0h2.0v2.0h-2.0zM413.4,326.0h2.0v2.0h-2.0zM415.0,330.8h5.2v2.0h-5.2zM410.2,334.0h2.0v2.0h-2.0zM413.4,345.2h2.0v2.0h-2.0zM407.0,348.4h2.0v2.0h-2.0zM410.2,354.8h2.0v2.0h-2.0zM416.6,354.8h2.0v2.0h-2.0zM410.2,359.6h2.0v2.0h-2.0zM415.0,362.8h2.0v2.0h-2.0zM418.2,362.8h2.0v2.0h-2.0zM410.2,364.4h2.0v2.0h-2.0zM408.6,369.2h2.0v2.0h-2.0zM415.0,369.2h2.0v2.0h-2.0zM416.6,372.4h2.0v2.0h-2.0zM413.4,374.1h2.0v2.0h-2.0zM418.2,374.1h2.0v2.0h-2.0zM418.2,380.5h2.0v2.0h-2.0zM432.6,383.7h2.0v2.0h-2.0zM443.8,383.7h2.0v2.0h-2.0zM445.4,385.3h3.6v2.0h-3.6zM424.6,386.9h3.6v2.0h-3.6zM427.8,388.5h2.0v2.0h-2.0zM432.6,388.5h2.0v2.0h-2.0zM445.4,390.1h2.0v2.0h-2.0zM448.6,390.1h2.0v2.0h-2.0zM451.8,390.1h2.0v2.0h-2.0zM427.8,391.7h3.6v2.0h-3.6zM437.4,391.7h2.0v2.0h-2.0zM407.0,393.3h2.0v2.0h-2.0zM432.6,393.3h2.0v2.0h-2.0zM437.4,393.3h3.6v2.0h-3.6zM447.0,394.9h2.0v2.0h-2.0zM424.6,396.5h2.0v2.0h-2.0zM431.0,396.5h3.6v2.0h-3.6zM435.8,396.5h2.0v2.0h-2.0zM451.8,396.5h2.0v2.0h-2.0z" fill="#ea5a36"/>
<path d="M355.8,239.4h2.0v2.0h-2.0zM379.8,239.4h2.0v2.0h-2.0zM389.4,239.4h2.0v2.0h-2.0zM399.0,239.4h2.0v2.0h-2.0zM355.8,241.0h2.0v2.0h-2.0zM389.4,241.0h2.0v2.0h-2.0zM397.4,241.0h3.6v2.0h-3.6zM379.8,242.6h2.0v2.0h-2.0zM352.6,244.2h2.0v2.0h-2.0zM379.8,244.2h2.0v2.0h-2.0zM394.2,244.2h2.0v2.0h-2.0zM399.0,244.2h2.0v2.0h-2.0zM349.4,245.8h2.0v2.0h-2.0zM352.6,245.8h2.0v2.0h-2.0zM384.6,247.4h3.6v2.0h-3.6zM349.4,249.0h3.6v2.0h-3.6zM391.0,249.0h3.6v2.0h-3.6zM351.0,250.6h2.0v2.0h-2.0zM355.8,250.6h2.0v2.0h-2.0zM392.6,250.6h2.0v2.0h-2.0zM383.0,252.2h2.0v2.0h-2.0zM395.8,252.2h2.0v2.0h-2.0zM355.8,253.8h2.0v2.0h-2.0zM394.2,253.8h3.6v2.0h-3.6zM368.6,255.4h2.0v2.0h-2.0zM387.8,255.4h2.0v2.0h-2.0zM354.2,257.0h2.0v2.0h-2.0zM387.8,257.0h2.0v2.0h-2.0zM395.8,257.0h2.0v2.0h-2.0zM349.4,258.6h2.0v2.0h-2.0zM352.6,258.6h2.0v2.0h-2.0zM394.2,258.6h2.0v2.0h-2.0zM354.2,260.2h2.0v2.0h-2.0zM360.6,260.2h2.0v2.0h-2.0zM387.8,260.2h2.0v2.0h-2.0zM397.4,260.2h2.0v2.0h-2.0zM351.0,261.8h2.0v2.0h-2.0zM359.0,261.8h2.0v2.0h-2.0zM387.8,261.8h2.0v2.0h-2.0zM351.0,263.4h5.2v2.0h-5.2zM367.0,263.4h2.0v2.0h-2.0zM399.0,263.4h2.0v2.0h-2.0zM352.6,266.7h2.0v2.0h-2.0zM359.0,266.7h2.0v2.0h-2.0zM362.2,266.7h2.0v2.0h-2.0zM365.4,266.7h2.0v2.0h-2.0zM392.6,266.7h2.0v2.0h-2.0zM365.4,268.3h2.0v2.0h-2.0zM368.6,268.3h2.0v2.0h-2.0zM386.2,268.3h2.0v2.0h-2.0zM359.0,269.9h2.0v2.0h-2.0zM367.0,273.1h2.0v2.0h-2.0zM370.2,273.1h2.0v2.0h-2.0zM362.2,274.7h2.0v2.0h-2.0zM368.6,276.3h2.0v2.0h-2.0zM362.2,277.9h2.0v2.0h-2.0zM359.0,281.1h2.0v2.0h-2.0zM352.6,285.9h3.6v2.0h-3.6zM362.2,285.9h2.0v2.0h-2.0zM352.6,287.5h2.0v2.0h-2.0zM370.2,287.5h2.0v2.0h-2.0zM357.4,289.1h2.0v2.0h-2.0zM360.6,289.1h3.6v2.0h-3.6zM365.4,290.7h2.0v2.0h-2.0zM370.2,290.7h2.0v2.0h-2.0zM352.6,292.3h2.0v2.0h-2.0zM367.0,292.3h2.0v2.0h-2.0zM370.2,292.3h2.0v2.0h-2.0zM386.2,292.3h2.0v2.0h-2.0zM389.4,298.7h2.0v2.0h-2.0zM394.2,298.7h2.0v2.0h-2.0zM397.4,300.3h2.0v2.0h-2.0zM400.6,308.3h3.6v2.0h-3.6zM394.2,311.5h2.0v2.0h-2.0zM399.0,311.5h2.0v2.0h-2.0zM408.6,319.6h2.0v2.0h-2.0zM410.2,321.2h2.0v2.0h-2.0zM453.4,322.8h2.0v2.0h-2.0zM413.4,324.4h2.0v2.0h-2.0zM453.4,324.4h2.0v2.0h-2.0zM415.0,326.0h2.0v2.0h-2.0zM408.6,327.6h2.0v2.0h-2.0zM410.2,345.2h2.0v2.0h-2.0zM448.6,346.8h2.0v2.0h-2.0zM451.8,346.8h2.0v2.0h-2.0zM432.6,348.4h2.0v2.0h-2.0zM453.4,348.4h2.0v2.0h-2.0zM453.4,350.0h2.0v2.0h-2.0zM410.2,351.6h2.0v2.0h-2.0zM453.4,351.6h2.0v2.0h-2.0zM408.6,353.2h3.6v2.0h-3.6zM453.4,356.4h2.0v2.0h-2.0zM432.6,358.0h2.0v2.0h-2.0zM448.6,358.0h2.0v2.0h-2.0zM408.6,359.6h2.0v2.0h-2.0zM415.0,372.4h2.0v2.0h-2.0zM410.2,378.9h2.0v2.0h-2.0zM451.8,382.1h2.0v2.0h-2.0zM426.2,383.7h2.0v2.0h-2.0zM450.2,383.7h2.0v2.0h-2.0zM427.8,385.3h2.0v2.0h-2.0zM437.4,385.3h2.0v2.0h-2.0zM427.8,386.9h2.0v2.0h-2.0zM439.0,386.9h3.6v2.0h-3.6zM439.0,388.5h2.0v2.0h-2.0zM405.4,390.1h2.0v2.0h-2.0zM429.4,390.1h2.0v2.0h-2.0zM440.6,390.1h2.0v2.0h-2.0zM426.2,391.7h2.0v2.0h-2.0zM419.8,394.9h2.0v2.0h-2.0zM439.0,394.9h2.0v2.0h-2.0zM442.2,394.9h2.0v2.0h-2.0zM429.4,396.5h2.0v2.0h-2.0zM424.6,398.1h2.0v2.0h-2.0zM443.8,398.1h2.0v2.0h-2.0zM447.0,398.1h2.0v2.0h-2.0z" fill="#ea4236"/>
<path d="M359.0,239.4h3.6v2.0h-3.6zM365.4,239.4h5.2v2.0h-5.2zM359.0,241.0h6.8v2.0h-6.8zM370.2,241.0h2.0v2.0h-2.0zM387.8,241.0h2.0v2.0h-2.0zM349.4,242.6h2.0v2.0h-2.0zM357.4,242.6h2.0v2.0h-2.0zM363.8,242.6h3.6v2.0h-3.6zM368.6,242.6h2.0v2.0h-2.0zM360.6,244.2h2.0v2.0h-2.0zM357.4,249.0h2.0v2.0h-2.0zM360.6,249.0h2.0v2.0h-2.0zM368.6,249.0h2.0v2.0h-2.0zM360.6,250.6h3.6v2.0h-3.6zM370.2,250.6h2.0v2.0h-2.0zM357.4,253.8h3.6v2.0h-3.6zM363.8,253.8h2.0v2.0h-2.0zM351.0,298.7h2.0v2.0h-2.0zM354.2,298.7h2.0v2.0h-2.0zM352.6,300.3h2.0v2.0h-2.0zM386.2,300.3h2.0v2.0h-2.0zM391.0,301.9h2.0v2.0h-2.0zM394.2,301.9h2.0v2.0h-2.0zM384.6,303.5h2.0v2.0h-2.0zM387.8,303.5h3.6v2.0h-3.6zM392.6,303.5h2.0v2.0h-2.0zM392.6,306.7h3.6v2.0h-3.6zM355.8,308.3h2.0v2.0h-2.0zM386.2,308.3h2.0v2.0h-2.0zM384.6,309.9h3.6v2.0h-3.6zM352.6,313.1h2.0v2.0h-2.0zM355.8,313.1h2.0v2.0h-2.0zM354.2,314.7h2.0v2.0h-2.0zM384.6,314.7h2.0v2.0h-2.0zM415.0,319.6h5.2v2.0h-5.2zM413.4,321.2h2.0v2.0h-2.0zM416.6,322.8h2.0v2.0h-2.0zM411.8,324.4h2.0v2.0h-2.0zM411.8,329.2h2.0v2.0h-2.0zM416.6,332.4h2.0v2.0h-2.0zM411.8,334.0h2.0v2.0h-2.0zM416.6,334.0h3.6v2.0h-3.6zM416.6,337.2h2.0v2.0h-2.0zM418.2,338.8h2.0v2.0h-2.0zM415.0,345.2h2.0v2.0h-2.0zM416.6,346.8h2.0v2.0h-2.0zM411.8,348.4h2.0v2.0h-2.0zM411.8,350.0h3.6v2.0h-3.6zM418.2,351.6h2.0v2.0h-2.0zM413.4,354.8h2.0v2.0h-2.0zM418.2,354.8h2.0v2.0h-2.0zM415.0,356.4h3.6v2.0h-3.6zM411.8,358.0h2.0v2.0h-2.0zM418.2,359.6h2.0v2.0h-2.0zM411.8,362.8h2.0v2.0h-2.0zM416.6,362.8h2.0v2.0h-2.0zM411.8,364.4h2.0v2.0h-2.0zM416.6,364.4h3.6v2.0h-3.6zM411.8,367.6h2.0v2.0h-2.0zM418.2,367.6h2.0v2.0h-2.0zM411.8,369.2h2.0v2.0h-2.0zM418.2,369.2h2.0v2.0h-2.0zM411.8,375.7h2.0v2.0h-2.0zM418.2,377.3h2.0v2.0h-2.0zM411.8,378.9h2.0v2.0h-2.0zM415.0,382.1h2.0v2.0h-2.0zM408.6,383.7h2.0v2.0h-2.0zM447.0,383.7h2.0v2.0h-2.0zM408.6,385.3h3.6v2.0h-3.6zM413.4,385.3h2.0v2.0h-2.0zM410.2,386.9h2.0v2.0h-2.0zM435.8,386.9h2.0v2.0h-2.0zM443.8,386.9h3.6v2.0h-3.6zM435.8,388.5h2.0v2.0h-2.0zM435.8,391.7h2.0v2.0h-2.0zM453.4,391.7h2.0v2.0h-2.0zM410.2,393.3h2.0v2.0h-2.0zM410.2,394.9h2.0v2.0h-2.0zM418.2,394.9h2.0v2.0h-2.0zM424.6,394.9h2.0v2.0h-2.0zM451.8,394.9h2.0v2.0h-2.0zM410.2,396.5h2.0v2.0h-2.0zM413.4,396.5h3.6v2.0h-3.6zM418.2,396.5h2.0v2.0h-2.0z" fill="#f67e4e"/>
<path d="M362.2,239.4h2.0v2.0h-2.0zM370.2,239.4h2.0v2.0h-2.0zM359.0,244.2h2.0v2.0h-2.0zM362.2,244.2h2.0v2.0h-2.0zM351.0,297.1h2.0v2.0h-2.0zM354.2,297.1h2.0v2.0h-2.0zM367.0,297.1h2.0v2.0h-2.0zM357.4,298.7h2.0v2.0h-2.0zM363.8,298.7h2.0v2.0h-2.0zM384.6,301.9h3.6v2.0h-3.6zM355.8,305.1h2.0v2.0h-2.0zM386.2,305.1h3.6v2.0h-3.6zM352.6,308.3h2.0v2.0h-2.0zM359.0,308.3h2.0v2.0h-2.0zM384.6,308.3h2.0v2.0h-2.0zM349.4,311.5h3.6v2.0h-3.6zM351.0,314.7h2.0v2.0h-2.0zM418.2,332.4h2.0v2.0h-2.0zM413.4,346.8h2.0v2.0h-2.0zM413.4,348.4h2.0v2.0h-2.0zM415.0,350.0h2.0v2.0h-2.0zM411.8,353.2h2.0v2.0h-2.0zM418.2,356.4h2.0v2.0h-2.0zM416.6,359.6h2.0v2.0h-2.0zM415.0,367.6h2.0v2.0h-2.0zM405.4,383.7h2.0v2.0h-2.0zM411.8,383.7h2.0v2.0h-2.0zM415.0,383.7h2.0v2.0h-2.0zM415.0,385.3h2.0v2.0h-2.0zM418.2,385.3h2.0v2.0h-2.0zM453.4,385.3h2.0v2.0h-2.0zM413.4,388.5h2.0v2.0h-2.0zM408.6,391.7h2.0v2.0h-2.0zM416.6,391.7h2.0v2.0h-2.0zM413.4,393.3h2.0v2.0h-2.0zM434.2,394.9h2.0v2.0h-2.0zM416.6,398.1h2.0v2.0h-2.0z" fill="#f68a5a"/>
<path d="M363.8,239.4h2.0v2.0h-2.0zM386.2,239.4h3.6v2.0h-3.6zM365.4,241.0h2.0v2.0h-2.0zM368.6,241.0h2.0v2.0h-2.0zM359.0,242.6h2.0v2.0h-2.0zM384.6,242.6h2.0v2.0h-2.0zM370.2,244.2h2.0v2.0h-2.0zM357.4,247.4h2.0v2.0h-2.0zM359.0,249.0h2.0v2.0h-2.0zM363.8,250.6h5.2v2.0h-5.2zM387.8,250.6h2.0v2.0h-2.0zM367.0,252.2h2.0v2.0h-2.0zM370.2,252.2h2.0v2.0h-2.0zM352.6,297.1h2.0v2.0h-2.0zM352.6,298.7h2.0v2.0h-2.0zM351.0,305.1h2.0v2.0h-2.0zM391.0,305.1h2.0v2.0h-2.0zM399.0,309.9h2.0v2.0h-2.0zM384.6,311.5h2.0v2.0h-2.0zM352.6,314.7h2.0v2.0h-2.0zM415.0,316.3h2.0v2.0h-2.0zM413.4,317.9h2.0v2.0h-2.0zM411.8,321.2h2.0v2.0h-2.0zM415.0,322.8h2.0v2.0h-2.0zM418.2,329.2h2.0v2.0h-2.0zM418.2,337.2h2.0v2.0h-2.0zM416.6,343.6h2.0v2.0h-2.0zM418.2,345.2h2.0v2.0h-2.0zM416.6,350.0h2.0v2.0h-2.0zM411.8,351.6h2.0v2.0h-2.0zM415.0,353.2h2.0v2.0h-2.0zM411.8,359.6h5.2v2.0h-5.2zM416.6,361.2h3.6v2.0h-3.6zM411.8,366.0h2.0v2.0h-2.0zM415.0,366.0h2.0v2.0h-2.0zM413.4,369.2h2.0v2.0h-2.0zM416.6,377.3h2.0v2.0h-2.0zM413.4,378.9h2.0v2.0h-2.0zM416.6,378.9h2.0v2.0h-2.0zM416.6,382.1h2.0v2.0h-2.0zM407.0,383.7h2.0v2.0h-2.0zM434.2,383.7h2.0v2.0h-2.0zM408.6,386.9h2.0v2.0h-2.0zM437.4,386.9h2.0v2.0h-2.0zM408.6,388.5h3.6v2.0h-3.6zM424.6,388.5h2.0v2.0h-2.0zM429.4,388.5h2.0v2.0h-2.0zM447.0,388.5h2.0v2.0h-2.0zM408.6,390.1h3.6v2.0h-3.6zM408.6,393.3h2.0v2.0h-2.0zM453.4,393.3h2.0v2.0h-2.0zM408.6,396.5h2.0v2.0h-2.0zM411.8,396.5h2.0v2.0h-2.0z" fill="#f6724e"/>
<path d="M371.8,239.4h2.0v2.0h-2.0zM381.4,239.4h2.0v2.0h-2.0zM378.2,242.6h2.0v2.0h-2.0zM376.6,244.2h2.0v2.0h-2.0zM397.4,244.2h2.0v2.0h-2.0zM371.8,245.8h2.0v2.0h-2.0zM389.4,245.8h2.0v2.0h-2.0zM395.8,245.8h3.6v2.0h-3.6zM371.8,247.4h2.0v2.0h-2.0zM389.4,247.4h2.0v2.0h-2.0zM394.2,247.4h2.0v2.0h-2.0zM378.2,249.0h2.0v2.0h-2.0zM383.0,249.0h2.0v2.0h-2.0zM379.8,250.6h2.0v2.0h-2.0zM391.0,250.6h2.0v2.0h-2.0zM399.0,250.6h2.0v2.0h-2.0zM371.8,252.2h2.0v2.0h-2.0zM375.0,252.2h2.0v2.0h-2.0zM371.8,253.8h2.0v2.0h-2.0zM381.4,253.8h3.6v2.0h-3.6zM355.8,255.4h2.0v2.0h-2.0zM371.8,255.4h2.0v2.0h-2.0zM378.2,255.4h2.0v2.0h-2.0zM383.0,255.4h2.0v2.0h-2.0zM391.0,255.4h2.0v2.0h-2.0zM355.8,257.0h2.0v2.0h-2.0zM392.6,257.0h2.0v2.0h-2.0zM355.8,258.6h2.0v2.0h-2.0zM399.0,258.6h2.0v2.0h-2.0zM392.6,260.2h2.0v2.0h-2.0zM355.8,263.4h2.0v2.0h-2.0zM384.6,263.4h2.0v2.0h-2.0zM392.6,263.4h2.0v2.0h-2.0zM395.8,263.4h2.0v2.0h-2.0zM395.8,265.0h2.0v2.0h-2.0zM354.2,268.3h2.0v2.0h-2.0zM387.8,268.3h3.6v2.0h-3.6zM357.4,269.9h2.0v2.0h-2.0zM363.8,269.9h2.0v2.0h-2.0zM352.6,271.5h2.0v2.0h-2.0zM359.0,271.5h2.0v2.0h-2.0zM354.2,273.1h2.0v2.0h-2.0zM357.4,273.1h2.0v2.0h-2.0zM362.2,273.1h3.6v2.0h-3.6zM357.4,274.7h2.0v2.0h-2.0zM367.0,274.7h3.6v2.0h-3.6zM351.0,276.3h3.6v2.0h-3.6zM386.2,276.3h3.6v2.0h-3.6zM351.0,277.9h3.6v2.0h-3.6zM387.8,277.9h2.0v2.0h-2.0zM349.4,279.5h2.0v2.0h-2.0zM360.6,279.5h3.6v2.0h-3.6zM360.6,282.7h2.0v2.0h-2.0zM351.0,287.5h2.0v2.0h-2.0zM391.0,287.5h2.0v2.0h-2.0zM349.4,289.1h2.0v2.0h-2.0zM352.6,289.1h2.0v2.0h-2.0zM367.0,289.1h2.0v2.0h-2.0zM370.2,289.1h2.0v2.0h-2.0zM351.0,290.7h2.0v2.0h-2.0zM354.2,290.7h2.0v2.0h-2.0zM354.2,292.3h2.0v2.0h-2.0zM384.6,292.3h2.0v2.0h-2.0zM362.2,293.9h2.0v2.0h-2.0zM368.6,293.9h2.0v2.0h-2.0zM394.2,297.1h2.0v2.0h-2.0zM403.8,297.1h2.0v2.0h-2.0zM400.6,298.7h2.0v2.0h-2.0zM375.0,301.9h2.0v2.0h-2.0zM379.8,301.9h2.0v2.0h-2.0zM371.8,303.5h2.0v2.0h-2.0zM400.6,305.1h2.0v2.0h-2.0zM371.8,306.7h2.0v2.0h-2.0zM402.2,306.7h3.6v2.0h-3.6zM403.8,308.3h2.0v2.0h-2.0zM402.2,309.9h3.6v2.0h-3.6zM378.2,313.1h2.0v2.0h-2.0zM434.2,316.3h2.0v2.0h-2.0zM437.4,316.3h2.0v2.0h-2.0zM451.8,316.3h2.0v2.0h-2.0zM451.8,317.9h3.6v2.0h-3.6zM407.0,321.2h3.6v2.0h-3.6zM435.8,321.2h2.0v2.0h-2.0zM408.6,322.8h2.0v2.0h-2.0zM410.2,329.2h2.0v2.0h-2.0zM435.8,334.0h2.0v2.0h-2.0zM405.4,337.2h2.0v2.0h-2.0zM407.0,345.2h2.0v2.0h-2.0zM407.0,346.8h2.0v2.0h-2.0zM434.2,346.8h3.6v2.0h-3.6zM424.6,348.4h2.0v2.0h-2.0zM427.8,348.4h2.0v2.0h-2.0zM434.2,348.4h3.6v2.0h-3.6zM447.0,348.4h2.0v2.0h-2.0zM405.4,350.0h2.0v2.0h-2.0zM432.6,350.0h3.6v2.0h-3.6zM405.4,353.2h3.6v2.0h-3.6zM434.2,353.2h2.0v2.0h-2.0zM424.6,354.8h2.0v2.0h-2.0zM431.0,358.0h2.0v2.0h-2.0zM435.8,358.0h2.0v2.0h-2.0zM443.8,358.0h2.0v2.0h-2.0zM405.4,359.6h2.0v2.0h-2.0zM405.4,361.2h2.0v2.0h-2.0zM408.6,361.2h2.0v2.0h-2.0zM453.4,361.2h2.0v2.0h-2.0zM451.8,366.0h2.0v2.0h-2.0zM453.4,367.6h2.0v2.0h-2.0zM405.4,369.2h2.0v2.0h-2.0zM432.6,369.2h2.0v2.0h-2.0zM451.8,369.2h2.0v2.0h-2.0zM410.2,370.8h2.0v2.0h-2.0zM408.6,377.3h2.0v2.0h-2.0zM407.0,378.9h3.6v2.0h-3.6zM451.8,378.9h3.6v2.0h-3.6zM453.4,380.5h2.0v2.0h-2.0zM421.4,385.3h2.0v2.0h-2.0zM423.0,386.9h2.0v2.0h-2.0zM423.0,388.5h2.0v2.0h-2.0zM439.0,391.7h2.0v2.0h-2.0zM419.8,396.5h2.0v2.0h-2.0zM439.0,396.5h3.6v2.0h-3.6zM429.4,398.1h2.0v2.0h-2.0zM439.0,398.1h2.0v2.0h-2.0z" fill="#de2a2a"/>
<path d="M373.4,239.4h3.6v2.0h-3.6zM400.6,239.4h2.0v2.0h-2.0zM373.4,241.0h2.0v2.0h-2.0zM376.6,241.0h2.0v2.0h-2.0zM400.6,241.0h5.2v2.0h-5.2zM373.4,242.6h2.0v2.0h-2.0zM403.8,242.6h2.0v2.0h-2.0zM381.4,244.2h2.0v2.0h-2.0zM402.2,244.2h3.6v2.0h-3.6zM373.4,245.8h2.0v2.0h-2.0zM376.6,245.8h3.6v2.0h-3.6zM383.0,245.8h2.0v2.0h-2.0zM373.4,247.4h3.6v2.0h-3.6zM379.8,247.4h2.0v2.0h-2.0zM375.0,249.0h3.6v2.0h-3.6zM376.6,250.6h3.6v2.0h-3.6zM381.4,250.6h2.0v2.0h-2.0zM402.2,250.6h2.0v2.0h-2.0zM402.2,252.2h3.6v2.0h-3.6zM375.0,253.8h3.6v2.0h-3.6zM402.2,253.8h3.6v2.0h-3.6zM379.8,255.4h3.6v2.0h-3.6zM399.0,255.4h2.0v2.0h-2.0zM371.8,257.0h5.2v2.0h-5.2zM378.2,257.0h3.6v2.0h-3.6zM383.0,257.0h2.0v2.0h-2.0zM399.0,257.0h2.0v2.0h-2.0zM371.8,258.6h2.0v2.0h-2.0zM376.6,258.6h2.0v2.0h-2.0zM379.8,258.6h2.0v2.0h-2.0zM383.0,258.6h2.0v2.0h-2.0zM397.4,258.6h2.0v2.0h-2.0zM376.6,260.2h2.0v2.0h-2.0zM381.4,260.2h2.0v2.0h-2.0zM354.2,261.8h2.0v2.0h-2.0zM378.2,261.8h2.0v2.0h-2.0zM389.4,261.8h2.0v2.0h-2.0zM399.0,261.8h2.0v2.0h-2.0zM373.4,263.4h2.0v2.0h-2.0zM394.2,263.4h2.0v2.0h-2.0zM371.8,265.0h2.0v2.0h-2.0zM379.8,265.0h2.0v2.0h-2.0zM387.8,265.0h6.8v2.0h-6.8zM399.0,265.0h2.0v2.0h-2.0zM386.2,266.7h2.0v2.0h-2.0zM389.4,266.7h3.6v2.0h-3.6zM355.8,268.3h2.0v2.0h-2.0zM371.8,268.3h2.0v2.0h-2.0zM394.2,268.3h2.0v2.0h-2.0zM349.4,269.9h3.6v2.0h-3.6zM354.2,269.9h2.0v2.0h-2.0zM365.4,269.9h2.0v2.0h-2.0zM354.2,271.5h2.0v2.0h-2.0zM357.4,271.5h2.0v2.0h-2.0zM387.8,271.5h2.0v2.0h-2.0zM391.0,271.5h2.0v2.0h-2.0zM394.2,271.5h2.0v2.0h-2.0zM349.4,273.1h3.6v2.0h-3.6zM360.6,273.1h2.0v2.0h-2.0zM384.6,273.1h5.2v2.0h-5.2zM349.4,274.7h8.4v2.0h-8.4zM360.6,274.7h2.0v2.0h-2.0zM386.2,274.7h2.0v2.0h-2.0zM394.2,274.7h2.0v2.0h-2.0zM384.6,277.9h2.0v2.0h-2.0zM394.2,277.9h3.6v2.0h-3.6zM351.0,279.5h5.2v2.0h-5.2zM349.4,281.1h2.0v2.0h-2.0zM352.6,281.1h2.0v2.0h-2.0zM370.2,281.1h2.0v2.0h-2.0zM384.6,281.1h2.0v2.0h-2.0zM387.8,281.1h2.0v2.0h-2.0zM359.0,282.7h2.0v2.0h-2.0zM362.2,282.7h3.6v2.0h-3.6zM367.0,282.7h2.0v2.0h-2.0zM352.6,284.3h2.0v2.0h-2.0zM363.8,284.3h2.0v2.0h-2.0zM368.6,284.3h2.0v2.0h-2.0zM355.8,285.9h2.0v2.0h-2.0zM389.4,285.9h3.6v2.0h-3.6zM395.8,285.9h2.0v2.0h-2.0zM389.4,287.5h2.0v2.0h-2.0zM395.8,287.5h2.0v2.0h-2.0zM384.6,289.1h2.0v2.0h-2.0zM395.8,289.1h2.0v2.0h-2.0zM352.6,290.7h2.0v2.0h-2.0zM386.2,290.7h6.8v2.0h-6.8zM355.8,292.3h2.0v2.0h-2.0zM391.0,292.3h2.0v2.0h-2.0zM394.2,292.3h2.0v2.0h-2.0zM352.6,293.9h2.0v2.0h-2.0zM357.4,293.9h2.0v2.0h-2.0zM360.6,293.9h2.0v2.0h-2.0zM384.6,293.9h3.6v2.0h-3.6zM349.4,295.5h2.0v2.0h-2.0zM354.2,295.5h2.0v2.0h-2.0zM362.2,295.5h2.0v2.0h-2.0zM367.0,295.5h3.6v2.0h-3.6zM384.6,295.5h3.6v2.0h-3.6zM395.8,295.5h2.0v2.0h-2.0zM371.8,297.1h3.6v2.0h-3.6zM376.6,297.1h2.0v2.0h-2.0zM378.2,298.7h3.6v2.0h-3.6zM383.0,298.7h2.0v2.0h-2.0zM376.6,300.3h2.0v2.0h-2.0zM383.0,300.3h2.0v2.0h-2.0zM400.6,300.3h2.0v2.0h-2.0zM403.8,300.3h2.0v2.0h-2.0zM376.6,301.9h2.0v2.0h-2.0zM376.6,303.5h2.0v2.0h-2.0zM373.4,305.1h2.0v2.0h-2.0zM376.6,305.1h2.0v2.0h-2.0zM381.4,305.1h2.0v2.0h-2.0zM373.4,306.7h3.6v2.0h-3.6zM373.4,308.3h3.6v2.0h-3.6zM383.0,308.3h2.0v2.0h-2.0zM371.8,311.5h2.0v2.0h-2.0zM381.4,311.5h2.0v2.0h-2.0zM400.6,311.5h3.6v2.0h-3.6zM379.8,313.1h5.2v2.0h-5.2zM371.8,314.7h3.6v2.0h-3.6zM376.6,314.7h8.4v2.0h-8.4zM400.6,314.7h2.0v2.0h-2.0zM403.8,314.7h2.0v2.0h-2.0zM435.8,316.3h2.0v2.0h-2.0zM407.0,317.9h2.0v2.0h-2.0zM424.6,317.9h5.2v2.0h-5.2zM434.2,317.9h2.0v2.0h-2.0zM445.4,317.9h2.0v2.0h-2.0zM424.6,319.6h3.6v2.0h-3.6zM443.8,319.6h3.6v2.0h-3.6zM405.4,321.2h2.0v2.0h-2.0zM427.8,321.2h2.0v2.0h-2.0zM431.0,321.2h2.0v2.0h-2.0zM437.4,321.2h2.0v2.0h-2.0zM443.8,321.2h3.6v2.0h-3.6zM448.6,321.2h2.0v2.0h-2.0zM426.2,322.8h3.6v2.0h-3.6zM432.6,322.8h5.2v2.0h-5.2zM445.4,322.8h5.2v2.0h-5.2zM405.4,324.4h3.6v2.0h-3.6zM432.6,324.4h3.6v2.0h-3.6zM437.4,324.4h2.0v2.0h-2.0zM445.4,324.4h2.0v2.0h-2.0zM448.6,324.4h2.0v2.0h-2.0zM451.8,324.4h2.0v2.0h-2.0zM405.4,326.0h2.0v2.0h-2.0zM410.2,326.0h2.0v2.0h-2.0zM434.2,326.0h3.6v2.0h-3.6zM407.0,327.6h2.0v2.0h-2.0zM407.0,329.2h2.0v2.0h-2.0zM437.4,329.2h2.0v2.0h-2.0zM405.4,330.8h3.6v2.0h-3.6zM424.6,332.4h3.6v2.0h-3.6zM432.6,332.4h3.6v2.0h-3.6zM437.4,332.4h2.0v2.0h-2.0zM445.4,334.0h2.0v2.0h-2.0zM405.4,335.6h2.0v2.0h-2.0zM448.6,335.6h2.0v2.0h-2.0zM451.8,335.6h3.6v2.0h-3.6zM407.0,337.2h2.0v2.0h-2.0zM435.8,337.2h3.6v2.0h-3.6zM448.6,337.2h2.0v2.0h-2.0zM405.4,338.8h3.6v2.0h-3.6zM445.4,338.8h3.6v2.0h-3.6zM451.8,338.8h3.6v2.0h-3.6zM407.0,340.4h2.0v2.0h-2.0zM410.2,340.4h2.0v2.0h-2.0zM432.6,340.4h2.0v2.0h-2.0zM435.8,340.4h2.0v2.0h-2.0zM405.4,342.0h2.0v2.0h-2.0zM429.4,342.0h2.0v2.0h-2.0zM434.2,342.0h3.6v2.0h-3.6zM405.4,343.6h2.0v2.0h-2.0zM434.2,343.6h5.2v2.0h-5.2zM445.4,343.6h2.0v2.0h-2.0zM426.2,345.2h2.0v2.0h-2.0zM435.8,345.2h3.6v2.0h-3.6zM447.0,345.2h2.0v2.0h-2.0zM419.8,346.8h2.0v2.0h-2.0zM437.4,346.8h5.2v2.0h-5.2zM443.8,346.8h3.6v2.0h-3.6zM426.2,348.4h2.0v2.0h-2.0zM431.0,348.4h2.0v2.0h-2.0zM427.8,350.0h5.2v2.0h-5.2zM443.8,350.0h2.0v2.0h-2.0zM424.6,351.6h11.6v2.0h-11.6zM437.4,351.6h2.0v2.0h-2.0zM445.4,351.6h5.2v2.0h-5.2zM424.6,353.2h2.0v2.0h-2.0zM427.8,353.2h2.0v2.0h-2.0zM443.8,353.2h2.0v2.0h-2.0zM447.0,353.2h3.6v2.0h-3.6zM426.2,354.8h5.2v2.0h-5.2zM437.4,354.8h2.0v2.0h-2.0zM445.4,354.8h2.0v2.0h-2.0zM426.2,356.4h2.0v2.0h-2.0zM431.0,356.4h2.0v2.0h-2.0zM435.8,356.4h2.0v2.0h-2.0zM440.6,356.4h2.0v2.0h-2.0zM447.0,356.4h3.6v2.0h-3.6zM427.8,358.0h2.0v2.0h-2.0zM437.4,358.0h2.0v2.0h-2.0zM445.4,358.0h3.6v2.0h-3.6zM421.4,359.6h2.0v2.0h-2.0zM426.2,359.6h3.6v2.0h-3.6zM448.6,359.6h3.6v2.0h-3.6zM424.6,361.2h2.0v2.0h-2.0zM432.6,361.2h2.0v2.0h-2.0zM445.4,361.2h2.0v2.0h-2.0zM407.0,362.8h2.0v2.0h-2.0zM445.4,362.8h3.6v2.0h-3.6zM405.4,364.4h2.0v2.0h-2.0zM434.2,364.4h2.0v2.0h-2.0zM437.4,364.4h2.0v2.0h-2.0zM443.8,364.4h3.6v2.0h-3.6zM431.0,366.0h3.6v2.0h-3.6zM431.0,367.6h5.2v2.0h-5.2zM445.4,367.6h2.0v2.0h-2.0zM429.4,369.2h2.0v2.0h-2.0zM434.2,369.2h2.0v2.0h-2.0zM445.4,369.2h2.0v2.0h-2.0zM453.4,369.2h2.0v2.0h-2.0zM408.6,372.4h2.0v2.0h-2.0zM408.6,374.1h3.6v2.0h-3.6zM451.8,374.1h3.6v2.0h-3.6zM407.0,375.7h2.0v2.0h-2.0zM432.6,375.7h5.2v2.0h-5.2zM445.4,375.7h2.0v2.0h-2.0zM443.8,377.3h2.0v2.0h-2.0zM447.0,377.3h3.6v2.0h-3.6zM405.4,378.9h2.0v2.0h-2.0zM437.4,378.9h2.0v2.0h-2.0zM448.6,378.9h2.0v2.0h-2.0zM407.0,380.5h2.0v2.0h-2.0zM435.8,380.5h2.0v2.0h-2.0zM443.8,380.5h2.0v2.0h-2.0zM434.2,382.1h2.0v2.0h-2.0zM443.8,382.1h2.0v2.0h-2.0zM442.2,398.1h2.0v2.0h-2.0z" fill="#d21e2a"/>
<path d="M376.6,239.4h2.0v2.0h-2.0zM378.2,241.0h2.0v2.0h-2.0zM400.6,242.6h3.6v2.0h-3.6zM373.4,244.2h3.6v2.0h-3.6zM399.0,245.8h2.0v2.0h-2.0zM355.8,247.4h2.0v2.0h-2.0zM376.6,247.4h2.0v2.0h-2.0zM383.0,247.4h2.0v2.0h-2.0zM397.4,247.4h2.0v2.0h-2.0zM371.8,249.0h2.0v2.0h-2.0zM379.8,249.0h2.0v2.0h-2.0zM373.4,250.6h2.0v2.0h-2.0zM383.0,250.6h2.0v2.0h-2.0zM378.2,252.2h3.6v2.0h-3.6zM379.8,253.8h2.0v2.0h-2.0zM394.2,255.4h3.6v2.0h-3.6zM397.4,257.0h2.0v2.0h-2.0zM373.4,258.6h2.0v2.0h-2.0zM381.4,258.6h2.0v2.0h-2.0zM389.4,258.6h2.0v2.0h-2.0zM379.8,260.2h2.0v2.0h-2.0zM399.0,260.2h2.0v2.0h-2.0zM355.8,261.8h2.0v2.0h-2.0zM383.0,261.8h2.0v2.0h-2.0zM386.2,261.8h2.0v2.0h-2.0zM391.0,261.8h3.6v2.0h-3.6zM397.4,261.8h2.0v2.0h-2.0zM378.2,263.4h2.0v2.0h-2.0zM387.8,263.4h2.0v2.0h-2.0zM391.0,263.4h2.0v2.0h-2.0zM397.4,263.4h2.0v2.0h-2.0zM386.2,265.0h2.0v2.0h-2.0zM394.2,265.0h2.0v2.0h-2.0zM397.4,265.0h2.0v2.0h-2.0zM355.8,266.7h2.0v2.0h-2.0zM371.8,266.7h2.0v2.0h-2.0zM384.6,266.7h2.0v2.0h-2.0zM395.8,266.7h3.6v2.0h-3.6zM384.6,268.3h2.0v2.0h-2.0zM391.0,268.3h3.6v2.0h-3.6zM352.6,269.9h2.0v2.0h-2.0zM360.6,269.9h2.0v2.0h-2.0zM370.2,269.9h2.0v2.0h-2.0zM384.6,269.9h2.0v2.0h-2.0zM351.0,271.5h2.0v2.0h-2.0zM360.6,271.5h10.0v2.0h-10.0zM359.0,273.1h2.0v2.0h-2.0zM365.4,273.1h2.0v2.0h-2.0zM355.8,276.3h2.0v2.0h-2.0zM384.6,276.3h2.0v2.0h-2.0zM389.4,276.3h2.0v2.0h-2.0zM349.4,277.9h2.0v2.0h-2.0zM386.2,277.9h2.0v2.0h-2.0zM389.4,277.9h2.0v2.0h-2.0zM363.8,279.5h3.6v2.0h-3.6zM368.6,279.5h3.6v2.0h-3.6zM351.0,281.1h2.0v2.0h-2.0zM360.6,281.1h2.0v2.0h-2.0zM367.0,281.1h2.0v2.0h-2.0zM365.4,282.7h2.0v2.0h-2.0zM370.2,282.7h2.0v2.0h-2.0zM384.6,285.9h2.0v2.0h-2.0zM394.2,285.9h2.0v2.0h-2.0zM349.4,287.5h2.0v2.0h-2.0zM354.2,287.5h2.0v2.0h-2.0zM384.6,287.5h3.6v2.0h-3.6zM392.6,287.5h3.6v2.0h-3.6zM351.0,289.1h2.0v2.0h-2.0zM386.2,289.1h2.0v2.0h-2.0zM394.2,289.1h2.0v2.0h-2.0zM349.4,290.7h2.0v2.0h-2.0zM384.6,290.7h2.0v2.0h-2.0zM395.8,290.7h2.0v2.0h-2.0zM387.8,292.3h3.6v2.0h-3.6zM399.0,292.3h2.0v2.0h-2.0zM349.4,293.9h2.0v2.0h-2.0zM354.2,293.9h2.0v2.0h-2.0zM365.4,293.9h3.6v2.0h-3.6zM370.2,295.5h2.0v2.0h-2.0zM400.6,297.1h2.0v2.0h-2.0zM403.8,298.7h2.0v2.0h-2.0zM371.8,300.3h2.0v2.0h-2.0zM379.8,300.3h2.0v2.0h-2.0zM402.2,300.3h2.0v2.0h-2.0zM371.8,301.9h2.0v2.0h-2.0zM381.4,301.9h2.0v2.0h-2.0zM375.0,303.5h2.0v2.0h-2.0zM381.4,303.5h2.0v2.0h-2.0zM403.8,303.5h2.0v2.0h-2.0zM378.2,305.1h2.0v2.0h-2.0zM402.2,305.1h2.0v2.0h-2.0zM376.6,306.7h3.6v2.0h-3.6zM381.4,306.7h3.6v2.0h-3.6zM400.6,306.7h2.0v2.0h-2.0zM371.8,308.3h2.0v2.0h-2.0zM376.6,308.3h2.0v2.0h-2.0zM373.4,309.9h5.2v2.0h-5.2zM379.8,309.9h2.0v2.0h-2.0zM379.8,311.5h2.0v2.0h-2.0zM371.8,313.1h2.0v2.0h-2.0zM400.6,313.1h2.0v2.0h-2.0zM403.8,313.1h2.0v2.0h-2.0zM402.2,314.7h2.0v2.0h-2.0zM437.4,317.9h2.0v2.0h-2.0zM443.8,317.9h2.0v2.0h-2.0zM410.2,319.6h2.0v2.0h-2.0zM431.0,319.6h2.0v2.0h-2.0zM434.2,319.6h3.6v2.0h-3.6zM447.0,319.6h2.0v2.0h-2.0zM451.8,319.6h2.0v2.0h-2.0zM447.0,321.2h2.0v2.0h-2.0zM405.4,322.8h3.6v2.0h-3.6zM451.8,322.8h2.0v2.0h-2.0zM427.8,324.4h2.0v2.0h-2.0zM447.0,324.4h2.0v2.0h-2.0zM407.0,326.0h2.0v2.0h-2.0zM451.8,326.0h3.6v2.0h-3.6zM410.2,327.6h2.0v2.0h-2.0zM435.8,327.6h3.6v2.0h-3.6zM448.6,327.6h2.0v2.0h-2.0zM405.4,329.2h2.0v2.0h-2.0zM408.6,329.2h2.0v2.0h-2.0zM451.8,329.2h3.6v2.0h-3.6zM408.6,330.8h3.6v2.0h-3.6zM451.8,330.8h2.0v2.0h-2.0zM407.0,332.4h2.0v2.0h-2.0zM445.4,332.4h3.6v2.0h-3.6zM451.8,332.4h2.0v2.0h-2.0zM407.0,334.0h2.0v2.0h-2.0zM424.6,334.0h2.0v2.0h-2.0zM427.8,334.0h3.6v2.0h-3.6zM434.2,334.0h2.0v2.0h-2.0zM437.4,334.0h2.0v2.0h-2.0zM447.0,334.0h3.6v2.0h-3.6zM407.0,335.6h2.0v2.0h-2.0zM434.2,337.2h2.0v2.0h-2.0zM451.8,337.2h2.0v2.0h-2.0zM451.8,340.4h3.6v2.0h-3.6zM432.6,342.0h2.0v2.0h-2.0zM448.6,342.0h2.0v2.0h-2.0zM407.0,343.6h2.0v2.0h-2.0zM405.4,345.2h2.0v2.0h-2.0zM448.6,345.2h2.0v2.0h-2.0zM453.4,345.2h2.0v2.0h-2.0zM426.2,346.8h2.0v2.0h-2.0zM429.4,346.8h2.0v2.0h-2.0zM442.2,346.8h2.0v2.0h-2.0zM429.4,348.4h2.0v2.0h-2.0zM437.4,350.0h2.0v2.0h-2.0zM445.4,350.0h5.2v2.0h-5.2zM407.0,351.6h2.0v2.0h-2.0zM435.8,351.6h2.0v2.0h-2.0zM443.8,351.6h2.0v2.0h-2.0zM429.4,353.2h2.0v2.0h-2.0zM432.6,353.2h2.0v2.0h-2.0zM437.4,353.2h2.0v2.0h-2.0zM453.4,353.2h2.0v2.0h-2.0zM431.0,354.8h3.6v2.0h-3.6zM448.6,354.8h2.0v2.0h-2.0zM424.6,356.4h2.0v2.0h-2.0zM427.8,356.4h2.0v2.0h-2.0zM432.6,356.4h2.0v2.0h-2.0zM445.4,356.4h2.0v2.0h-2.0zM424.6,358.0h2.0v2.0h-2.0zM429.4,359.6h3.6v2.0h-3.6zM434.2,359.6h2.0v2.0h-2.0zM443.8,359.6h2.0v2.0h-2.0zM447.0,359.6h2.0v2.0h-2.0zM410.2,361.2h2.0v2.0h-2.0zM451.8,361.2h2.0v2.0h-2.0zM405.4,362.8h2.0v2.0h-2.0zM443.8,362.8h2.0v2.0h-2.0zM453.4,362.8h2.0v2.0h-2.0zM407.0,364.4h2.0v2.0h-2.0zM435.8,364.4h2.0v2.0h-2.0zM405.4,366.0h3.6v2.0h-3.6zM437.4,366.0h2.0v2.0h-2.0zM447.0,366.0h2.0v2.0h-2.0zM453.4,366.0h2.0v2.0h-2.0zM405.4,367.6h2.0v2.0h-2.0zM437.4,367.6h2.0v2.0h-2.0zM451.8,367.6h2.0v2.0h-2.0zM407.0,369.2h2.0v2.0h-2.0zM408.6,370.8h2.0v2.0h-2.0zM415.0,370.8h2.0v2.0h-2.0zM437.4,375.7h2.0v2.0h-2.0zM407.0,377.3h2.0v2.0h-2.0zM453.4,377.3h2.0v2.0h-2.0zM405.4,380.5h2.0v2.0h-2.0zM434.2,380.5h2.0v2.0h-2.0zM451.8,380.5h2.0v2.0h-2.0zM407.0,382.1h2.0v2.0h-2.0zM453.4,382.1h2.0v2.0h-2.0zM421.4,390.1h2.0v2.0h-2.0zM421.4,396.5h3.6v2.0h-3.6zM442.2,396.5h2.0v2.0h-2.0zM421.4,398.1h2.0v2.0h-2.0zM440.6,398.1h2.0v2.0h-2.0z" fill="#d22a2a"/>
<path d="M378.2,239.4h2.0v2.0h-2.0zM383.0,239.4h2.0v2.0h-2.0zM391.0,239.4h2.0v2.0h-2.0zM397.4,239.4h2.0v2.0h-2.0zM379.8,241.0h2.0v2.0h-2.0zM383.0,241.0h2.0v2.0h-2.0zM392.6,241.0h2.0v2.0h-2.0zM391.0,242.6h2.0v2.0h-2.0zM386.2,245.8h3.6v2.0h-3.6zM392.6,245.8h2.0v2.0h-2.0zM352.6,247.4h2.0v2.0h-2.0zM391.0,247.4h2.0v2.0h-2.0zM352.6,249.0h2.0v2.0h-2.0zM394.2,249.0h2.0v2.0h-2.0zM381.4,252.2h2.0v2.0h-2.0zM399.0,253.8h2.0v2.0h-2.0zM349.4,255.4h2.0v2.0h-2.0zM352.6,257.0h2.0v2.0h-2.0zM384.6,258.6h2.0v2.0h-2.0zM391.0,258.6h2.0v2.0h-2.0zM395.8,258.6h2.0v2.0h-2.0zM351.0,260.2h2.0v2.0h-2.0zM355.8,260.2h2.0v2.0h-2.0zM349.4,261.8h2.0v2.0h-2.0zM365.4,261.8h3.6v2.0h-3.6zM384.6,261.8h2.0v2.0h-2.0zM360.6,263.4h2.0v2.0h-2.0zM386.2,263.4h2.0v2.0h-2.0zM367.0,265.0h3.6v2.0h-3.6zM360.6,266.7h2.0v2.0h-2.0zM370.2,268.3h2.0v2.0h-2.0zM363.8,274.7h2.0v2.0h-2.0zM354.2,276.3h2.0v2.0h-2.0zM363.8,276.3h2.0v2.0h-2.0zM367.0,276.3h2.0v2.0h-2.0zM359.0,277.9h2.0v2.0h-2.0zM365.4,277.9h3.6v2.0h-3.6zM363.8,281.1h2.0v2.0h-2.0zM363.8,285.9h2.0v2.0h-2.0zM355.8,287.5h5.2v2.0h-5.2zM391.0,289.1h2.0v2.0h-2.0zM363.8,290.7h2.0v2.0h-2.0zM368.6,290.7h2.0v2.0h-2.0zM365.4,292.3h2.0v2.0h-2.0zM368.6,292.3h2.0v2.0h-2.0zM360.6,295.5h2.0v2.0h-2.0zM365.4,295.5h2.0v2.0h-2.0zM392.6,297.1h2.0v2.0h-2.0zM392.6,298.7h2.0v2.0h-2.0zM389.4,300.3h2.0v2.0h-2.0zM378.2,308.3h2.0v2.0h-2.0zM381.4,308.3h2.0v2.0h-2.0zM400.6,309.9h2.0v2.0h-2.0zM392.6,311.5h2.0v2.0h-2.0zM392.6,313.1h2.0v2.0h-2.0zM397.4,314.7h2.0v2.0h-2.0zM410.2,317.9h2.0v2.0h-2.0zM453.4,332.4h2.0v2.0h-2.0zM453.4,334.0h2.0v2.0h-2.0zM410.2,342.0h2.0v2.0h-2.0zM451.8,342.0h2.0v2.0h-2.0zM408.6,343.6h2.0v2.0h-2.0zM408.6,345.2h2.0v2.0h-2.0zM447.0,346.8h2.0v2.0h-2.0zM410.2,350.0h2.0v2.0h-2.0zM435.8,350.0h2.0v2.0h-2.0zM451.8,351.6h2.0v2.0h-2.0zM453.4,354.8h2.0v2.0h-2.0zM405.4,358.0h3.6v2.0h-3.6zM453.4,358.0h2.0v2.0h-2.0zM407.0,361.2h2.0v2.0h-2.0zM408.6,362.8h2.0v2.0h-2.0zM408.6,366.0h2.0v2.0h-2.0zM453.4,375.7h2.0v2.0h-2.0zM419.8,383.7h2.0v2.0h-2.0zM431.0,383.7h2.0v2.0h-2.0zM440.6,383.7h2.0v2.0h-2.0zM421.4,386.9h2.0v2.0h-2.0zM419.8,388.5h2.0v2.0h-2.0zM419.8,390.1h2.0v2.0h-2.0zM419.8,391.7h2.0v2.0h-2.0zM419.8,393.3h2.0v2.0h-2.0zM440.6,393.3h3.6v2.0h-3.6zM450.2,393.3h2.0v2.0h-2.0zM405.4,396.5h2.0v2.0h-2.0zM450.2,396.5h2.0v2.0h-2.0zM407.0,398.1h2.0v2.0h-2.0zM419.8,398.1h2.0v2.0h-2.0zM427.8,398.1h2.0v2.0h-2.0z" fill="#de4236"/>
<path d="M395.8,239.4h2.0v2.0h-2.0zM351.0,242.6h2.0v2.0h-2.0zM354.2,242.6h2.0v2.0h-2.0zM395.8,242.6h2.0v2.0h-2.0zM363.8,247.4h2.0v2.0h-2.0zM352.6,250.6h2.0v2.0h-2.0zM386.2,252.2h2.0v2.0h-2.0zM351.0,253.8h2.0v2.0h-2.0zM368.6,253.8h2.0v2.0h-2.0zM360.6,258.6h2.0v2.0h-2.0zM365.4,258.6h3.6v2.0h-3.6zM360.6,261.8h2.0v2.0h-2.0zM363.8,261.8h2.0v2.0h-2.0zM363.8,263.4h2.0v2.0h-2.0zM362.2,265.0h3.6v2.0h-3.6zM365.4,276.3h2.0v2.0h-2.0zM360.6,292.3h2.0v2.0h-2.0zM363.8,292.3h2.0v2.0h-2.0zM349.4,297.1h2.0v2.0h-2.0zM387.8,298.7h2.0v2.0h-2.0zM391.0,298.7h2.0v2.0h-2.0zM395.8,298.7h2.0v2.0h-2.0zM387.8,300.3h2.0v2.0h-2.0zM395.8,300.3h2.0v2.0h-2.0zM395.8,301.9h3.6v2.0h-3.6zM399.0,305.1h2.0v2.0h-2.0zM389.4,306.7h2.0v2.0h-2.0zM397.4,308.3h2.0v2.0h-2.0zM394.2,309.9h2.0v2.0h-2.0zM397.4,309.9h2.0v2.0h-2.0zM386.2,311.5h2.0v2.0h-2.0zM397.4,311.5h2.0v2.0h-2.0zM386.2,314.7h3.6v2.0h-3.6zM391.0,314.7h3.6v2.0h-3.6zM411.8,316.3h2.0v2.0h-2.0zM415.0,321.2h2.0v2.0h-2.0zM413.4,322.8h2.0v2.0h-2.0zM418.2,326.0h2.0v2.0h-2.0zM413.4,327.6h2.0v2.0h-2.0zM413.4,329.2h2.0v2.0h-2.0zM413.4,332.4h2.0v2.0h-2.0zM416.6,335.6h2.0v2.0h-2.0zM411.8,338.8h2.0v2.0h-2.0zM413.4,340.4h2.0v2.0h-2.0zM416.6,342.0h2.0v2.0h-2.0zM415.0,343.6h2.0v2.0h-2.0zM410.2,358.0h2.0v2.0h-2.0zM413.4,361.2h2.0v2.0h-2.0zM416.6,366.0h2.0v2.0h-2.0zM416.6,367.6h2.0v2.0h-2.0zM413.4,382.1h2.0v2.0h-2.0zM424.6,383.7h2.0v2.0h-2.0zM427.8,383.7h2.0v2.0h-2.0zM445.4,383.7h2.0v2.0h-2.0zM407.0,385.3h2.0v2.0h-2.0zM434.2,385.3h2.0v2.0h-2.0zM442.2,385.3h2.0v2.0h-2.0zM448.6,385.3h2.0v2.0h-2.0zM431.0,386.9h2.0v2.0h-2.0zM434.2,386.9h2.0v2.0h-2.0zM453.4,386.9h2.0v2.0h-2.0zM405.4,388.5h2.0v2.0h-2.0zM434.2,388.5h2.0v2.0h-2.0zM435.8,390.1h2.0v2.0h-2.0zM427.8,393.3h5.2v2.0h-5.2zM435.8,393.3h2.0v2.0h-2.0zM448.6,393.3h2.0v2.0h-2.0zM431.0,394.9h2.0v2.0h-2.0zM450.2,394.9h2.0v2.0h-2.0zM453.4,396.5h2.0v2.0h-2.0zM437.4,398.1h2.0v2.0h-2.0zM453.4,398.1h2.0v2.0h-2.0z" fill="#f65a42"/>
<path d="M402.2,239.4h3.6v2.0h-3.6zM375.0,245.8h2.0v2.0h-2.0zM379.8,245.8h2.0v2.0h-2.0zM403.8,245.8h2.0v2.0h-2.0zM400.6,249.0h3.6v2.0h-3.6zM375.0,250.6h2.0v2.0h-2.0zM403.8,250.6h2.0v2.0h-2.0zM373.4,252.2h2.0v2.0h-2.0zM400.6,253.8h2.0v2.0h-2.0zM375.0,255.4h3.6v2.0h-3.6zM403.8,255.4h2.0v2.0h-2.0zM381.4,257.0h2.0v2.0h-2.0zM378.2,258.6h2.0v2.0h-2.0zM402.2,258.6h2.0v2.0h-2.0zM371.8,260.2h2.0v2.0h-2.0zM375.0,260.2h2.0v2.0h-2.0zM378.2,260.2h2.0v2.0h-2.0zM400.6,260.2h5.2v2.0h-5.2zM371.8,263.4h2.0v2.0h-2.0zM355.8,265.0h2.0v2.0h-2.0zM378.2,265.0h2.0v2.0h-2.0zM381.4,265.0h3.6v2.0h-3.6zM379.8,266.7h2.0v2.0h-2.0zM379.8,268.3h2.0v2.0h-2.0zM399.0,268.3h2.0v2.0h-2.0zM355.8,269.9h2.0v2.0h-2.0zM368.6,269.9h2.0v2.0h-2.0zM386.2,269.9h3.6v2.0h-3.6zM352.6,273.1h2.0v2.0h-2.0zM399.0,273.1h2.0v2.0h-2.0zM387.8,274.7h3.6v2.0h-3.6zM391.0,276.3h2.0v2.0h-2.0zM395.8,276.3h5.2v2.0h-5.2zM355.8,277.9h2.0v2.0h-2.0zM381.4,277.9h2.0v2.0h-2.0zM392.6,277.9h2.0v2.0h-2.0zM399.0,277.9h2.0v2.0h-2.0zM386.2,279.5h2.0v2.0h-2.0zM392.6,279.5h3.6v2.0h-3.6zM392.6,281.1h2.0v2.0h-2.0zM351.0,282.7h2.0v2.0h-2.0zM354.2,282.7h2.0v2.0h-2.0zM368.6,282.7h2.0v2.0h-2.0zM354.2,284.3h2.0v2.0h-2.0zM357.4,284.3h6.8v2.0h-6.8zM365.4,284.3h3.6v2.0h-3.6zM370.2,284.3h2.0v2.0h-2.0zM399.0,285.9h2.0v2.0h-2.0zM399.0,287.5h2.0v2.0h-2.0zM379.8,289.1h2.0v2.0h-2.0zM389.4,289.1h2.0v2.0h-2.0zM397.4,289.1h3.6v2.0h-3.6zM355.8,290.7h2.0v2.0h-2.0zM399.0,290.7h2.0v2.0h-2.0zM392.6,292.3h2.0v2.0h-2.0zM395.8,292.3h3.6v2.0h-3.6zM351.0,295.5h2.0v2.0h-2.0zM355.8,295.5h2.0v2.0h-2.0zM363.8,295.5h2.0v2.0h-2.0zM378.2,297.1h3.6v2.0h-3.6zM381.4,298.7h2.0v2.0h-2.0zM373.4,301.9h2.0v2.0h-2.0zM373.4,303.5h2.0v2.0h-2.0zM375.0,305.1h2.0v2.0h-2.0zM375.0,311.5h2.0v2.0h-2.0zM378.2,311.5h2.0v2.0h-2.0zM383.0,311.5h2.0v2.0h-2.0zM373.4,313.1h2.0v2.0h-2.0zM402.2,313.1h2.0v2.0h-2.0zM405.4,316.3h2.0v2.0h-2.0zM426.2,316.3h2.0v2.0h-2.0zM429.4,316.3h2.0v2.0h-2.0zM443.8,316.3h6.8v2.0h-6.8zM429.4,317.9h5.2v2.0h-5.2zM448.6,317.9h2.0v2.0h-2.0zM429.4,319.6h2.0v2.0h-2.0zM432.6,319.6h2.0v2.0h-2.0zM437.4,319.6h2.0v2.0h-2.0zM448.6,319.6h2.0v2.0h-2.0zM424.6,322.8h2.0v2.0h-2.0zM429.4,322.8h3.6v2.0h-3.6zM437.4,322.8h2.0v2.0h-2.0zM443.8,322.8h2.0v2.0h-2.0zM439.0,324.4h2.0v2.0h-2.0zM443.8,324.4h2.0v2.0h-2.0zM426.2,326.0h2.0v2.0h-2.0zM431.0,326.0h3.6v2.0h-3.6zM437.4,326.0h2.0v2.0h-2.0zM445.4,326.0h3.6v2.0h-3.6zM405.4,327.6h2.0v2.0h-2.0zM424.6,327.6h2.0v2.0h-2.0zM431.0,327.6h3.6v2.0h-3.6zM445.4,327.6h2.0v2.0h-2.0zM432.6,329.2h2.0v2.0h-2.0zM445.4,329.2h5.2v2.0h-5.2zM427.8,332.4h2.0v2.0h-2.0zM431.0,332.4h2.0v2.0h-2.0zM443.8,332.4h2.0v2.0h-2.0zM426.2,334.0h2.0v2.0h-2.0zM431.0,334.0h3.6v2.0h-3.6zM434.2,335.6h2.0v2.0h-2.0zM424.6,337.2h5.2v2.0h-5.2zM443.8,337.2h3.6v2.0h-3.6zM427.8,338.8h2.0v2.0h-2.0zM432.6,338.8h2.0v2.0h-2.0zM448.6,338.8h2.0v2.0h-2.0zM405.4,340.4h2.0v2.0h-2.0zM424.6,340.4h2.0v2.0h-2.0zM434.2,340.4h2.0v2.0h-2.0zM448.6,340.4h2.0v2.0h-2.0zM407.0,342.0h2.0v2.0h-2.0zM426.2,342.0h2.0v2.0h-2.0zM437.4,342.0h2.0v2.0h-2.0zM443.8,342.0h2.0v2.0h-2.0zM424.6,343.6h2.0v2.0h-2.0zM432.6,343.6h2.0v2.0h-2.0zM448.6,343.6h2.0v2.0h-2.0zM421.4,345.2h2.0v2.0h-2.0zM424.6,345.2h2.0v2.0h-2.0zM429.4,345.2h2.0v2.0h-2.0zM432.6,345.2h3.6v2.0h-3.6zM443.8,345.2h2.0v2.0h-2.0zM421.4,346.8h2.0v2.0h-2.0zM424.6,346.8h2.0v2.0h-2.0zM427.8,346.8h2.0v2.0h-2.0zM421.4,348.4h2.0v2.0h-2.0zM442.2,348.4h2.0v2.0h-2.0zM450.2,348.4h2.0v2.0h-2.0zM421.4,350.0h2.0v2.0h-2.0zM424.6,350.0h3.6v2.0h-3.6zM440.6,350.0h2.0v2.0h-2.0zM439.0,351.6h2.0v2.0h-2.0zM450.2,351.6h2.0v2.0h-2.0zM431.0,353.2h2.0v2.0h-2.0zM423.0,354.8h2.0v2.0h-2.0zM443.8,354.8h2.0v2.0h-2.0zM450.2,354.8h2.0v2.0h-2.0zM429.4,356.4h2.0v2.0h-2.0zM437.4,356.4h2.0v2.0h-2.0zM442.2,356.4h2.0v2.0h-2.0zM426.2,358.0h2.0v2.0h-2.0zM429.4,358.0h2.0v2.0h-2.0zM439.0,358.0h5.2v2.0h-5.2zM450.2,358.0h2.0v2.0h-2.0zM423.0,359.6h2.0v2.0h-2.0zM437.4,359.6h2.0v2.0h-2.0zM440.6,359.6h3.6v2.0h-3.6zM426.2,361.2h2.0v2.0h-2.0zM429.4,361.2h3.6v2.0h-3.6zM434.2,361.2h2.0v2.0h-2.0zM448.6,361.2h2.0v2.0h-2.0zM448.6,362.8h2.0v2.0h-2.0zM424.6,364.4h2.0v2.0h-2.0zM432.6,364.4h2.0v2.0h-2.0zM447.0,364.4h2.0v2.0h-2.0zM451.8,364.4h2.0v2.0h-2.0zM424.6,366.0h2.0v2.0h-2.0zM448.6,366.0h2.0v2.0h-2.0zM424.6,367.6h2.0v2.0h-2.0zM429.4,367.6h2.0v2.0h-2.0zM435.8,367.6h2.0v2.0h-2.0zM443.8,367.6h2.0v2.0h-2.0zM448.6,367.6h2.0v2.0h-2.0zM435.8,369.2h3.6v2.0h-3.6zM443.8,369.2h2.0v2.0h-2.0zM448.6,369.2h2.0v2.0h-2.0zM405.4,375.7h2.0v2.0h-2.0zM424.6,375.7h2.0v2.0h-2.0zM447.0,375.7h2.0v2.0h-2.0zM405.4,377.3h2.0v2.0h-2.0zM431.0,377.3h2.0v2.0h-2.0zM435.8,377.3h3.6v2.0h-3.6zM445.4,377.3h2.0v2.0h-2.0zM426.2,378.9h2.0v2.0h-2.0zM432.6,378.9h3.6v2.0h-3.6zM426.2,380.5h2.0v2.0h-2.0zM437.4,380.5h2.0v2.0h-2.0zM445.4,380.5h2.0v2.0h-2.0zM448.6,380.5h2.0v2.0h-2.0zM427.8,382.1h2.0v2.0h-2.0zM435.8,382.1h3.6v2.0h-3.6zM448.6,382.1h2.0v2.0h-2.0z" fill="#c61e2a"/>
<path d="M405.4,239.4h2.0v2.0h-2.0zM415.0,245.8h2.0v2.0h-2.0zM407.0,253.8h2.0v2.0h-2.0zM423.0,261.8h2.0v2.0h-2.0zM450.2,263.4h2.0v2.0h-2.0zM410.2,265.0h2.0v2.0h-2.0zM407.0,282.7h2.0v2.0h-2.0zM405.4,284.3h2.0v2.0h-2.0zM415.0,284.3h2.0v2.0h-2.0zM451.8,311.5h2.0v2.0h-2.0zM442.2,314.7h2.0v2.0h-2.0zM349.4,324.4h2.0v2.0h-2.0zM349.4,330.8h2.0v2.0h-2.0zM354.2,337.2h2.0v2.0h-2.0zM354.2,346.8h2.0v2.0h-2.0zM355.8,350.0h2.0v2.0h-2.0zM354.2,351.6h2.0v2.0h-2.0zM352.6,354.8h2.0v2.0h-2.0zM351.0,359.6h2.0v2.0h-2.0zM360.6,388.5h2.0v2.0h-2.0zM363.8,388.5h2.0v2.0h-2.0zM376.6,390.1h2.0v2.0h-2.0zM370.2,391.7h2.0v2.0h-2.0zM375.0,391.7h2.0v2.0h-2.0zM362.2,393.3h2.0v2.0h-2.0zM368.6,393.3h2.0v2.0h-2.0zM360.6,394.9h2.0v2.0h-2.0zM389.4,396.5h2.0v2.0h-2.0zM362.2,398.1h2.0v2.0h-2.0zM373.4,398.1h2.0v2.0h-2.0z" fill="#66ba5a"/>
<path d="M407.0,239.4h2.0v2.0h-2.0zM405.4,247.4h3.6v2.0h-3.6zM407.0,250.6h2.0v2.0h-2.0zM407.0,252.2h2.0v2.0h-2.0zM405.4,253.8h2.0v2.0h-2.0zM411.8,255.4h3.6v2.0h-3.6zM413.4,258.6h2.0v2.0h-2.0zM419.8,297.1h2.0v2.0h-2.0zM411.8,301.9h2.0v2.0h-2.0zM411.8,303.5h2.0v2.0h-2.0zM413.4,308.3h2.0v2.0h-2.0zM410.2,309.9h2.0v2.0h-2.0zM352.6,316.3h2.0v2.0h-2.0zM352.6,321.2h2.0v2.0h-2.0zM349.4,322.8h2.0v2.0h-2.0zM352.6,322.8h2.0v2.0h-2.0zM354.2,326.0h2.0v2.0h-2.0zM354.2,327.6h2.0v2.0h-2.0zM349.4,329.2h2.0v2.0h-2.0zM354.2,350.0h2.0v2.0h-2.0zM351.0,351.6h3.6v2.0h-3.6zM349.4,353.2h2.0v2.0h-2.0zM352.6,353.2h2.0v2.0h-2.0zM352.6,356.4h2.0v2.0h-2.0zM351.0,370.8h3.6v2.0h-3.6zM352.6,372.4h2.0v2.0h-2.0zM352.6,374.1h2.0v2.0h-2.0zM354.2,382.1h2.0v2.0h-2.0zM373.4,385.3h2.0v2.0h-2.0zM400.6,385.3h2.0v2.0h-2.0zM402.2,386.9h2.0v2.0h-2.0zM355.8,388.5h2.0v2.0h-2.0zM400.6,388.5h2.0v2.0h-2.0zM403.8,388.5h2.0v2.0h-2.0zM368.6,390.1h2.0v2.0h-2.0zM399.0,390.1h2.0v2.0h-2.0zM400.6,391.7h5.2v2.0h-5.2zM359.0,393.3h2.0v2.0h-2.0zM375.0,393.3h2.0v2.0h-2.0zM400.6,393.3h2.0v2.0h-2.0zM375.0,396.5h2.0v2.0h-2.0zM399.0,396.5h2.0v2.0h-2.0zM402.2,396.5h2.0v2.0h-2.0zM359.0,398.1h2.0v2.0h-2.0zM376.6,398.1h2.0v2.0h-2.0zM392.6,398.1h2.0v2.0h-2.0zM395.8,398.1h2.0v2.0h-2.0zM399.0,398.1h2.0v2.0h-2.0zM402.2,398.1h2.0v2.0h-2.0z" fill="#7ec666"/>
<path d="M408.6,239.4h2.0v2.0h-2.0zM410.2,241.0h2.0v2.0h-2.0zM415.0,241.0h2.0v2.0h-2.0zM421.4,242.6h2.0v2.0h-2.0zM410.2,244.2h2.0v2.0h-2.0zM415.0,244.2h2.0v2.0h-2.0zM419.8,244.2h2.0v2.0h-2.0zM439.0,244.2h2.0v2.0h-2.0zM423.0,245.8h2.0v2.0h-2.0zM439.0,245.8h2.0v2.0h-2.0zM448.6,245.8h3.6v2.0h-3.6zM426.2,247.4h3.6v2.0h-3.6zM442.2,247.4h2.0v2.0h-2.0zM450.2,247.4h2.0v2.0h-2.0zM421.4,249.0h3.6v2.0h-3.6zM451.8,249.0h2.0v2.0h-2.0zM416.6,250.6h2.0v2.0h-2.0zM421.4,250.6h2.0v2.0h-2.0zM453.4,250.6h2.0v2.0h-2.0zM439.0,253.8h2.0v2.0h-2.0zM442.2,253.8h2.0v2.0h-2.0zM416.6,255.4h2.0v2.0h-2.0zM429.4,255.4h2.0v2.0h-2.0zM442.2,255.4h2.0v2.0h-2.0zM447.0,255.4h2.0v2.0h-2.0zM416.6,257.0h2.0v2.0h-2.0zM419.8,257.0h2.0v2.0h-2.0zM427.8,257.0h2.0v2.0h-2.0zM450.2,257.0h2.0v2.0h-2.0zM416.6,258.6h2.0v2.0h-2.0zM426.2,258.6h2.0v2.0h-2.0zM431.0,258.6h3.6v2.0h-3.6zM450.2,258.6h2.0v2.0h-2.0zM416.6,260.2h3.6v2.0h-3.6zM431.0,260.2h2.0v2.0h-2.0zM434.2,260.2h2.0v2.0h-2.0zM426.2,261.8h3.6v2.0h-3.6zM432.6,261.8h2.0v2.0h-2.0zM435.8,261.8h3.6v2.0h-3.6zM442.2,261.8h3.6v2.0h-3.6zM450.2,261.8h2.0v2.0h-2.0zM426.2,263.4h2.0v2.0h-2.0zM429.4,263.4h2.0v2.0h-2.0zM437.4,263.4h2.0v2.0h-2.0zM440.6,263.4h2.0v2.0h-2.0zM411.8,265.0h2.0v2.0h-2.0zM419.8,265.0h3.6v2.0h-3.6zM416.6,266.7h2.0v2.0h-2.0zM423.0,266.7h2.0v2.0h-2.0zM407.0,269.9h2.0v2.0h-2.0zM415.0,269.9h2.0v2.0h-2.0zM405.4,271.5h2.0v2.0h-2.0zM410.2,271.5h2.0v2.0h-2.0zM407.0,273.1h3.6v2.0h-3.6zM410.2,274.7h2.0v2.0h-2.0zM405.4,276.3h2.0v2.0h-2.0zM413.4,277.9h2.0v2.0h-2.0zM407.0,279.5h2.0v2.0h-2.0zM411.8,279.5h2.0v2.0h-2.0zM408.6,282.7h2.0v2.0h-2.0zM413.4,282.7h2.0v2.0h-2.0zM419.8,282.7h2.0v2.0h-2.0zM413.4,284.3h2.0v2.0h-2.0zM423.0,284.3h2.0v2.0h-2.0zM415.0,290.7h2.0v2.0h-2.0zM411.8,293.9h5.2v2.0h-5.2zM411.8,295.5h3.6v2.0h-3.6zM426.2,297.1h2.0v2.0h-2.0zM450.2,297.1h2.0v2.0h-2.0zM418.2,298.7h2.0v2.0h-2.0zM427.8,298.7h2.0v2.0h-2.0zM432.6,298.7h2.0v2.0h-2.0zM435.8,298.7h3.6v2.0h-3.6zM448.6,298.7h2.0v2.0h-2.0zM416.6,300.3h3.6v2.0h-3.6zM445.4,300.3h2.0v2.0h-2.0zM439.0,301.9h2.0v2.0h-2.0zM442.2,301.9h2.0v2.0h-2.0zM442.2,303.5h2.0v2.0h-2.0zM416.6,305.1h2.0v2.0h-2.0zM431.0,305.1h2.0v2.0h-2.0zM442.2,305.1h2.0v2.0h-2.0zM451.8,305.1h2.0v2.0h-2.0zM421.4,308.3h2.0v2.0h-2.0zM439.0,308.3h2.0v2.0h-2.0zM416.6,309.9h2.0v2.0h-2.0zM419.8,309.9h2.0v2.0h-2.0zM439.0,309.9h3.6v2.0h-3.6zM447.0,309.9h2.0v2.0h-2.0zM416.6,311.5h2.0v2.0h-2.0zM423.0,311.5h3.6v2.0h-3.6zM445.4,311.5h2.0v2.0h-2.0zM416.6,313.1h3.6v2.0h-3.6zM440.6,313.1h2.0v2.0h-2.0zM447.0,313.1h2.0v2.0h-2.0zM451.8,313.1h2.0v2.0h-2.0zM416.6,314.7h2.0v2.0h-2.0zM419.8,314.7h2.0v2.0h-2.0zM424.6,314.7h2.0v2.0h-2.0zM429.4,314.7h2.0v2.0h-2.0zM434.2,314.7h2.0v2.0h-2.0zM447.0,314.7h2.0v2.0h-2.0zM450.2,314.7h2.0v2.0h-2.0zM368.6,316.3h2.0v2.0h-2.0zM400.6,316.3h2.0v2.0h-2.0zM360.6,317.9h2.0v2.0h-2.0zM365.4,317.9h2.0v2.0h-2.0zM357.4,319.6h2.0v2.0h-2.0zM362.2,319.6h2.0v2.0h-2.0zM365.4,319.6h2.0v2.0h-2.0zM367.0,321.2h2.0v2.0h-2.0zM365.4,322.8h2.0v2.0h-2.0zM397.4,322.8h2.0v2.0h-2.0zM402.2,322.8h2.0v2.0h-2.0zM357.4,324.4h2.0v2.0h-2.0zM365.4,324.4h2.0v2.0h-2.0zM357.4,326.0h2.0v2.0h-2.0zM362.2,326.0h2.0v2.0h-2.0zM365.4,326.0h2.0v2.0h-2.0zM395.8,326.0h3.6v2.0h-3.6zM403.8,326.0h2.0v2.0h-2.0zM363.8,327.6h2.0v2.0h-2.0zM370.2,327.6h2.0v2.0h-2.0zM402.2,327.6h2.0v2.0h-2.0zM360.6,329.2h2.0v2.0h-2.0zM367.0,329.2h2.0v2.0h-2.0zM354.2,338.8h2.0v2.0h-2.0zM363.8,340.4h2.0v2.0h-2.0zM368.6,342.0h2.0v2.0h-2.0zM352.6,345.2h2.0v2.0h-2.0zM367.0,346.8h2.0v2.0h-2.0zM402.2,348.4h2.0v2.0h-2.0zM365.4,350.0h2.0v2.0h-2.0zM355.8,351.6h2.0v2.0h-2.0zM368.6,351.6h2.0v2.0h-2.0zM402.2,351.6h2.0v2.0h-2.0zM360.6,353.2h2.0v2.0h-2.0zM365.4,353.2h2.0v2.0h-2.0zM368.6,353.2h3.6v2.0h-3.6zM363.8,354.8h2.0v2.0h-2.0zM367.0,356.4h2.0v2.0h-2.0zM403.8,356.4h2.0v2.0h-2.0zM357.4,358.0h2.0v2.0h-2.0zM362.2,358.0h3.6v2.0h-3.6zM368.6,358.0h2.0v2.0h-2.0zM403.8,358.0h2.0v2.0h-2.0zM357.4,359.6h2.0v2.0h-2.0zM365.4,359.6h2.0v2.0h-2.0zM357.4,361.2h2.0v2.0h-2.0zM352.6,362.8h2.0v2.0h-2.0zM355.8,364.4h2.0v2.0h-2.0zM355.8,366.0h2.0v2.0h-2.0zM351.0,367.6h2.0v2.0h-2.0zM363.8,370.8h2.0v2.0h-2.0zM357.4,372.4h2.0v2.0h-2.0zM359.0,374.1h2.0v2.0h-2.0zM363.8,374.1h2.0v2.0h-2.0zM403.8,374.1h2.0v2.0h-2.0zM355.8,375.7h2.0v2.0h-2.0zM351.0,380.5h2.0v2.0h-2.0zM371.8,383.7h5.2v2.0h-5.2zM379.8,383.7h2.0v2.0h-2.0zM384.6,383.7h3.6v2.0h-3.6zM378.2,385.3h2.0v2.0h-2.0zM381.4,385.3h2.0v2.0h-2.0zM386.2,385.3h2.0v2.0h-2.0zM357.4,386.9h2.0v2.0h-2.0zM371.8,386.9h2.0v2.0h-2.0zM379.8,386.9h2.0v2.0h-2.0zM383.0,386.9h2.0v2.0h-2.0zM387.8,386.9h2.0v2.0h-2.0zM384.6,388.5h2.0v2.0h-2.0zM371.8,390.1h2.0v2.0h-2.0zM384.6,390.1h2.0v2.0h-2.0zM373.4,391.7h2.0v2.0h-2.0zM379.8,391.7h2.0v2.0h-2.0zM392.6,391.7h2.0v2.0h-2.0zM379.8,393.3h5.2v2.0h-5.2zM387.8,393.3h2.0v2.0h-2.0zM373.4,394.9h2.0v2.0h-2.0zM383.0,394.9h2.0v2.0h-2.0zM387.8,394.9h2.0v2.0h-2.0zM386.2,396.5h2.0v2.0h-2.0z" fill="#36a25a"/>
<path d="M410.2,239.4h3.6v2.0h-3.6zM413.4,241.0h2.0v2.0h-2.0zM411.8,242.6h3.6v2.0h-3.6zM405.4,244.2h2.0v2.0h-2.0zM408.6,244.2h2.0v2.0h-2.0zM413.4,244.2h2.0v2.0h-2.0zM410.2,245.8h3.6v2.0h-3.6zM418.2,245.8h3.6v2.0h-3.6zM442.2,245.8h2.0v2.0h-2.0zM421.4,247.4h2.0v2.0h-2.0zM453.4,247.4h2.0v2.0h-2.0zM408.6,249.0h5.2v2.0h-5.2zM415.0,249.0h2.0v2.0h-2.0zM413.4,252.2h2.0v2.0h-2.0zM408.6,253.8h2.0v2.0h-2.0zM413.4,253.8h3.6v2.0h-3.6zM408.6,255.4h3.6v2.0h-3.6zM440.6,255.4h2.0v2.0h-2.0zM450.2,255.4h3.6v2.0h-3.6zM410.2,257.0h2.0v2.0h-2.0zM415.0,257.0h2.0v2.0h-2.0zM423.0,257.0h2.0v2.0h-2.0zM408.6,258.6h2.0v2.0h-2.0zM442.2,258.6h2.0v2.0h-2.0zM423.0,260.2h2.0v2.0h-2.0zM418.2,261.8h2.0v2.0h-2.0zM421.4,261.8h2.0v2.0h-2.0zM445.4,261.8h2.0v2.0h-2.0zM453.4,261.8h2.0v2.0h-2.0zM416.6,263.4h2.0v2.0h-2.0zM421.4,263.4h2.0v2.0h-2.0zM451.8,263.4h2.0v2.0h-2.0zM413.4,265.0h3.6v2.0h-3.6zM407.0,266.7h3.6v2.0h-3.6zM413.4,268.3h2.0v2.0h-2.0zM407.0,271.5h2.0v2.0h-2.0zM405.4,273.1h2.0v2.0h-2.0zM405.4,274.7h2.0v2.0h-2.0zM410.2,282.7h3.6v2.0h-3.6zM415.0,282.7h2.0v2.0h-2.0zM405.4,293.9h3.6v2.0h-3.6zM407.0,295.5h2.0v2.0h-2.0zM440.6,297.1h2.0v2.0h-2.0zM424.6,298.7h2.0v2.0h-2.0zM442.2,298.7h2.0v2.0h-2.0zM450.2,298.7h3.6v2.0h-3.6zM419.8,300.3h3.6v2.0h-3.6zM434.2,300.3h2.0v2.0h-2.0zM439.0,300.3h2.0v2.0h-2.0zM419.8,301.9h2.0v2.0h-2.0zM423.0,301.9h2.0v2.0h-2.0zM423.0,305.1h2.0v2.0h-2.0zM440.6,305.1h2.0v2.0h-2.0zM421.4,306.7h2.0v2.0h-2.0zM442.2,306.7h2.0v2.0h-2.0zM453.4,306.7h2.0v2.0h-2.0zM442.2,308.3h2.0v2.0h-2.0zM421.4,309.9h2.0v2.0h-2.0zM442.2,309.9h2.0v2.0h-2.0zM440.6,311.5h2.0v2.0h-2.0zM429.4,313.1h2.0v2.0h-2.0zM439.0,313.1h2.0v2.0h-2.0zM442.2,313.1h2.0v2.0h-2.0zM451.8,314.7h2.0v2.0h-2.0zM355.8,316.3h2.0v2.0h-2.0zM368.6,321.2h2.0v2.0h-2.0zM355.8,322.8h2.0v2.0h-2.0zM370.2,322.8h2.0v2.0h-2.0zM355.8,326.0h2.0v2.0h-2.0zM360.6,327.6h2.0v2.0h-2.0zM402.2,329.2h2.0v2.0h-2.0zM352.6,335.6h2.0v2.0h-2.0zM355.8,335.6h2.0v2.0h-2.0zM349.4,337.2h2.0v2.0h-2.0zM349.4,338.8h2.0v2.0h-2.0zM351.0,342.0h2.0v2.0h-2.0zM355.8,342.0h2.0v2.0h-2.0zM352.6,343.6h2.0v2.0h-2.0zM355.8,343.6h2.0v2.0h-2.0zM354.2,345.2h2.0v2.0h-2.0zM352.6,346.8h2.0v2.0h-2.0zM349.4,348.4h3.6v2.0h-3.6zM365.4,351.6h2.0v2.0h-2.0zM355.8,353.2h2.0v2.0h-2.0zM351.0,354.8h2.0v2.0h-2.0zM355.8,354.8h2.0v2.0h-2.0zM349.4,356.4h2.0v2.0h-2.0zM355.8,356.4h2.0v2.0h-2.0zM352.6,361.2h2.0v2.0h-2.0zM351.0,364.4h2.0v2.0h-2.0zM349.4,366.0h2.0v2.0h-2.0zM349.4,367.6h2.0v2.0h-2.0zM352.6,367.6h5.2v2.0h-5.2zM352.6,369.2h2.0v2.0h-2.0zM365.4,370.8h2.0v2.0h-2.0zM365.4,372.4h2.0v2.0h-2.0zM355.8,374.1h2.0v2.0h-2.0zM360.6,374.1h2.0v2.0h-2.0zM349.4,375.7h2.0v2.0h-2.0zM352.6,377.3h2.0v2.0h-2.0zM349.4,378.9h2.0v2.0h-2.0zM352.6,378.9h2.0v2.0h-2.0zM355.8,378.9h2.0v2.0h-2.0zM349.4,380.5h2.0v2.0h-2.0zM354.2,380.5h2.0v2.0h-2.0zM351.0,382.1h2.0v2.0h-2.0zM357.4,383.7h2.0v2.0h-2.0zM368.6,383.7h2.0v2.0h-2.0zM387.8,383.7h3.6v2.0h-3.6zM392.6,383.7h2.0v2.0h-2.0zM368.6,385.3h2.0v2.0h-2.0zM389.4,385.3h2.0v2.0h-2.0zM397.4,385.3h2.0v2.0h-2.0zM378.2,386.9h2.0v2.0h-2.0zM381.4,386.9h2.0v2.0h-2.0zM391.0,386.9h2.0v2.0h-2.0zM392.6,388.5h2.0v2.0h-2.0zM395.8,388.5h2.0v2.0h-2.0zM378.2,390.1h2.0v2.0h-2.0zM383.0,390.1h2.0v2.0h-2.0zM386.2,390.1h2.0v2.0h-2.0zM389.4,390.1h2.0v2.0h-2.0zM394.2,390.1h2.0v2.0h-2.0zM368.6,391.7h2.0v2.0h-2.0zM371.8,391.7h2.0v2.0h-2.0zM394.2,391.7h3.6v2.0h-3.6zM357.4,393.3h2.0v2.0h-2.0zM371.8,393.3h3.6v2.0h-3.6zM376.6,393.3h3.6v2.0h-3.6zM359.0,394.9h2.0v2.0h-2.0zM375.0,394.9h5.2v2.0h-5.2zM381.4,394.9h2.0v2.0h-2.0zM386.2,394.9h2.0v2.0h-2.0zM397.4,394.9h2.0v2.0h-2.0zM378.2,396.5h2.0v2.0h-2.0zM384.6,396.5h2.0v2.0h-2.0zM386.2,398.1h3.6v2.0h-3.6z" fill="#4eae5a"/>
<path d="M413.4,239.4h2.0v2.0h-2.0zM408.6,242.6h2.0v2.0h-2.0zM440.6,244.2h2.0v2.0h-2.0zM408.6,245.8h2.0v2.0h-2.0zM440.6,245.8h2.0v2.0h-2.0zM416.6,247.4h2.0v2.0h-2.0zM419.8,247.4h2.0v2.0h-2.0zM419.8,249.0h2.0v2.0h-2.0zM411.8,250.6h5.2v2.0h-5.2zM423.0,250.6h2.0v2.0h-2.0zM439.0,252.2h2.0v2.0h-2.0zM421.4,253.8h3.6v2.0h-3.6zM450.2,253.8h2.0v2.0h-2.0zM418.2,255.4h2.0v2.0h-2.0zM423.0,255.4h2.0v2.0h-2.0zM427.8,255.4h2.0v2.0h-2.0zM421.4,257.0h2.0v2.0h-2.0zM440.6,257.0h2.0v2.0h-2.0zM451.8,257.0h2.0v2.0h-2.0zM423.0,258.6h2.0v2.0h-2.0zM453.4,258.6h2.0v2.0h-2.0zM453.4,260.2h2.0v2.0h-2.0zM427.8,263.4h2.0v2.0h-2.0zM431.0,263.4h2.0v2.0h-2.0zM434.2,263.4h2.0v2.0h-2.0zM411.8,268.3h2.0v2.0h-2.0zM405.4,269.9h2.0v2.0h-2.0zM413.4,273.1h2.0v2.0h-2.0zM407.0,274.7h2.0v2.0h-2.0zM415.0,274.7h2.0v2.0h-2.0zM413.4,281.1h2.0v2.0h-2.0zM408.6,284.3h2.0v2.0h-2.0zM411.8,284.3h2.0v2.0h-2.0zM410.2,295.5h2.0v2.0h-2.0zM418.2,297.1h2.0v2.0h-2.0zM435.8,297.1h2.0v2.0h-2.0zM453.4,297.1h2.0v2.0h-2.0zM426.2,298.7h2.0v2.0h-2.0zM443.8,298.7h2.0v2.0h-2.0zM453.4,298.7h2.0v2.0h-2.0zM426.2,300.3h2.0v2.0h-2.0zM443.8,300.3h2.0v2.0h-2.0zM453.4,300.3h2.0v2.0h-2.0zM419.8,305.1h3.6v2.0h-3.6zM419.8,306.7h2.0v2.0h-2.0zM451.8,306.7h2.0v2.0h-2.0zM419.8,308.3h2.0v2.0h-2.0zM423.0,309.9h2.0v2.0h-2.0zM447.0,311.5h2.0v2.0h-2.0zM450.2,311.5h2.0v2.0h-2.0zM427.8,313.1h2.0v2.0h-2.0zM418.2,314.7h2.0v2.0h-2.0zM423.0,314.7h2.0v2.0h-2.0zM362.2,329.2h2.0v2.0h-2.0zM351.0,332.4h5.2v2.0h-5.2zM352.6,334.0h2.0v2.0h-2.0zM355.8,338.8h2.0v2.0h-2.0zM352.6,340.4h2.0v2.0h-2.0zM354.2,343.6h2.0v2.0h-2.0zM349.4,345.2h3.6v2.0h-3.6zM400.6,353.2h2.0v2.0h-2.0zM355.8,358.0h2.0v2.0h-2.0zM349.4,361.2h2.0v2.0h-2.0zM349.4,362.8h2.0v2.0h-2.0zM352.6,364.4h2.0v2.0h-2.0zM351.0,366.0h2.0v2.0h-2.0zM349.4,369.2h2.0v2.0h-2.0zM355.8,369.2h2.0v2.0h-2.0zM357.4,370.8h2.0v2.0h-2.0zM360.6,370.8h2.0v2.0h-2.0zM367.0,372.4h2.0v2.0h-2.0zM352.6,375.7h2.0v2.0h-2.0zM354.2,377.3h2.0v2.0h-2.0zM352.6,380.5h2.0v2.0h-2.0zM355.8,380.5h2.0v2.0h-2.0zM349.4,382.1h2.0v2.0h-2.0zM381.4,383.7h2.0v2.0h-2.0zM371.8,385.3h2.0v2.0h-2.0zM383.0,385.3h3.6v2.0h-3.6zM387.8,385.3h2.0v2.0h-2.0zM363.8,386.9h2.0v2.0h-2.0zM384.6,386.9h3.6v2.0h-3.6zM389.4,386.9h2.0v2.0h-2.0zM362.2,388.5h2.0v2.0h-2.0zM371.8,388.5h2.0v2.0h-2.0zM383.0,388.5h2.0v2.0h-2.0zM386.2,388.5h3.6v2.0h-3.6zM397.4,388.5h3.6v2.0h-3.6zM379.8,390.1h3.6v2.0h-3.6zM378.2,391.7h2.0v2.0h-2.0zM383.0,391.7h3.6v2.0h-3.6zM387.8,391.7h2.0v2.0h-2.0zM360.6,393.3h2.0v2.0h-2.0zM389.4,393.3h2.0v2.0h-2.0zM371.8,394.9h2.0v2.0h-2.0zM389.4,394.9h2.0v2.0h-2.0zM381.4,396.5h2.0v2.0h-2.0z" fill="#42ae5a"/>
<path d="M415.0,239.4h2.0v2.0h-2.0zM419.8,239.4h2.0v2.0h-2.0zM429.4,239.4h2.0v2.0h-2.0zM439.0,239.4h2.0v2.0h-2.0zM419.8,241.0h2.0v2.0h-2.0zM410.2,242.6h2.0v2.0h-2.0zM451.8,242.6h2.0v2.0h-2.0zM451.8,244.2h2.0v2.0h-2.0zM432.6,245.8h2.0v2.0h-2.0zM437.4,245.8h2.0v2.0h-2.0zM447.0,245.8h2.0v2.0h-2.0zM432.6,247.4h2.0v2.0h-2.0zM437.4,247.4h2.0v2.0h-2.0zM429.4,250.6h2.0v2.0h-2.0zM439.0,250.6h2.0v2.0h-2.0zM423.0,252.2h2.0v2.0h-2.0zM451.8,252.2h2.0v2.0h-2.0zM453.4,253.8h2.0v2.0h-2.0zM453.4,255.4h2.0v2.0h-2.0zM424.6,258.6h2.0v2.0h-2.0zM437.4,258.6h2.0v2.0h-2.0zM448.6,261.8h2.0v2.0h-2.0zM448.6,263.4h2.0v2.0h-2.0zM453.4,268.3h2.0v2.0h-2.0zM410.2,269.9h2.0v2.0h-2.0zM413.4,269.9h2.0v2.0h-2.0zM415.0,273.1h2.0v2.0h-2.0zM415.0,277.9h2.0v2.0h-2.0zM405.4,279.5h2.0v2.0h-2.0zM413.4,287.5h2.0v2.0h-2.0zM408.6,290.7h2.0v2.0h-2.0zM415.0,295.5h2.0v2.0h-2.0zM432.6,297.1h3.6v2.0h-3.6zM437.4,297.1h2.0v2.0h-2.0zM445.4,297.1h2.0v2.0h-2.0zM448.6,297.1h2.0v2.0h-2.0zM445.4,298.7h2.0v2.0h-2.0zM447.0,300.3h2.0v2.0h-2.0zM427.8,303.5h2.0v2.0h-2.0zM439.0,303.5h2.0v2.0h-2.0zM451.8,303.5h2.0v2.0h-2.0zM424.6,305.1h2.0v2.0h-2.0zM439.0,305.1h2.0v2.0h-2.0zM423.0,306.7h2.0v2.0h-2.0zM448.6,306.7h2.0v2.0h-2.0zM450.2,308.3h2.0v2.0h-2.0zM448.6,309.9h2.0v2.0h-2.0zM451.8,309.9h2.0v2.0h-2.0zM437.4,311.5h2.0v2.0h-2.0zM445.4,313.1h2.0v2.0h-2.0zM437.4,314.7h2.0v2.0h-2.0zM453.4,314.7h2.0v2.0h-2.0zM363.8,316.3h2.0v2.0h-2.0zM357.4,317.9h2.0v2.0h-2.0zM368.6,317.9h2.0v2.0h-2.0zM376.6,317.9h2.0v2.0h-2.0zM403.8,317.9h2.0v2.0h-2.0zM359.0,319.6h2.0v2.0h-2.0zM389.4,319.6h2.0v2.0h-2.0zM359.0,321.2h2.0v2.0h-2.0zM367.0,322.8h2.0v2.0h-2.0zM403.8,322.8h2.0v2.0h-2.0zM368.6,324.4h2.0v2.0h-2.0zM397.4,327.6h2.0v2.0h-2.0zM365.4,330.8h2.0v2.0h-2.0zM351.0,334.0h2.0v2.0h-2.0zM363.8,335.6h2.0v2.0h-2.0zM368.6,337.2h2.0v2.0h-2.0zM403.8,337.2h2.0v2.0h-2.0zM367.0,340.4h2.0v2.0h-2.0zM362.2,343.6h2.0v2.0h-2.0zM367.0,343.6h2.0v2.0h-2.0zM403.8,346.8h2.0v2.0h-2.0zM367.0,348.4h3.6v2.0h-3.6zM367.0,350.0h2.0v2.0h-2.0zM362.2,359.6h2.0v2.0h-2.0zM368.6,359.6h2.0v2.0h-2.0zM355.8,361.2h2.0v2.0h-2.0zM357.4,364.4h2.0v2.0h-2.0zM402.2,372.4h2.0v2.0h-2.0zM365.4,374.1h3.6v2.0h-3.6zM400.6,374.1h2.0v2.0h-2.0zM363.8,375.7h2.0v2.0h-2.0zM360.6,378.9h2.0v2.0h-2.0z" fill="#2a964e"/>
<path d="M416.6,239.4h2.0v2.0h-2.0zM427.8,239.4h2.0v2.0h-2.0zM416.6,241.0h2.0v2.0h-2.0zM424.6,241.0h2.0v2.0h-2.0zM443.8,241.0h2.0v2.0h-2.0zM448.6,241.0h2.0v2.0h-2.0zM424.6,242.6h2.0v2.0h-2.0zM435.8,242.6h2.0v2.0h-2.0zM443.8,242.6h2.0v2.0h-2.0zM416.6,244.2h2.0v2.0h-2.0zM453.4,244.2h2.0v2.0h-2.0zM434.2,245.8h3.6v2.0h-3.6zM447.0,247.4h2.0v2.0h-2.0zM418.2,249.0h2.0v2.0h-2.0zM429.4,249.0h2.0v2.0h-2.0zM434.2,249.0h2.0v2.0h-2.0zM445.4,249.0h2.0v2.0h-2.0zM427.8,250.6h2.0v2.0h-2.0zM451.8,250.6h2.0v2.0h-2.0zM426.2,253.8h5.2v2.0h-5.2zM445.4,253.8h3.6v2.0h-3.6zM426.2,255.4h2.0v2.0h-2.0zM435.8,255.4h2.0v2.0h-2.0zM448.6,255.4h2.0v2.0h-2.0zM429.4,257.0h2.0v2.0h-2.0zM432.6,257.0h2.0v2.0h-2.0zM427.8,258.6h2.0v2.0h-2.0zM447.0,258.6h2.0v2.0h-2.0zM426.2,260.2h2.0v2.0h-2.0zM447.0,260.2h2.0v2.0h-2.0zM424.6,265.0h2.0v2.0h-2.0zM429.4,265.0h2.0v2.0h-2.0zM435.8,265.0h2.0v2.0h-2.0zM424.6,266.7h2.0v2.0h-2.0zM429.4,266.7h2.0v2.0h-2.0zM432.6,266.7h2.0v2.0h-2.0zM447.0,268.3h2.0v2.0h-2.0zM451.8,268.3h2.0v2.0h-2.0zM411.8,269.9h2.0v2.0h-2.0zM421.4,269.9h2.0v2.0h-2.0zM419.8,271.5h3.6v2.0h-3.6zM423.0,273.1h2.0v2.0h-2.0zM421.4,274.7h2.0v2.0h-2.0zM435.8,282.7h2.0v2.0h-2.0zM453.4,282.7h2.0v2.0h-2.0zM450.2,284.3h2.0v2.0h-2.0zM411.8,285.9h2.0v2.0h-2.0zM415.0,287.5h2.0v2.0h-2.0zM408.6,292.3h2.0v2.0h-2.0zM429.4,297.1h2.0v2.0h-2.0zM418.2,301.9h2.0v2.0h-2.0zM437.4,301.9h2.0v2.0h-2.0zM443.8,301.9h3.6v2.0h-3.6zM424.6,303.5h2.0v2.0h-2.0zM431.0,303.5h2.0v2.0h-2.0zM443.8,303.5h2.0v2.0h-2.0zM447.0,303.5h2.0v2.0h-2.0zM429.4,305.1h2.0v2.0h-2.0zM447.0,305.1h3.6v2.0h-3.6zM424.6,306.7h2.0v2.0h-2.0zM432.6,306.7h5.2v2.0h-5.2zM447.0,306.7h2.0v2.0h-2.0zM424.6,308.3h2.0v2.0h-2.0zM424.6,313.1h2.0v2.0h-2.0zM381.4,316.3h2.0v2.0h-2.0zM394.2,316.3h2.0v2.0h-2.0zM389.4,317.9h2.0v2.0h-2.0zM392.6,317.9h2.0v2.0h-2.0zM363.8,319.6h2.0v2.0h-2.0zM383.0,319.6h2.0v2.0h-2.0zM397.4,319.6h2.0v2.0h-2.0zM363.8,321.2h2.0v2.0h-2.0zM370.2,321.2h2.0v2.0h-2.0zM389.4,321.2h2.0v2.0h-2.0zM373.4,322.8h2.0v2.0h-2.0zM391.0,322.8h2.0v2.0h-2.0zM394.2,322.8h2.0v2.0h-2.0zM383.0,324.4h2.0v2.0h-2.0zM389.4,324.4h3.6v2.0h-3.6zM394.2,324.4h2.0v2.0h-2.0zM402.2,324.4h3.6v2.0h-3.6zM383.0,326.0h2.0v2.0h-2.0zM394.2,326.0h2.0v2.0h-2.0zM402.2,326.0h2.0v2.0h-2.0zM383.0,327.6h3.6v2.0h-3.6zM391.0,327.6h3.6v2.0h-3.6zM373.4,329.2h2.0v2.0h-2.0zM376.6,329.2h2.0v2.0h-2.0zM379.8,329.2h2.0v2.0h-2.0zM397.4,329.2h3.6v2.0h-3.6zM376.6,330.8h2.0v2.0h-2.0zM368.6,332.4h2.0v2.0h-2.0zM402.2,332.4h2.0v2.0h-2.0zM368.6,335.6h2.0v2.0h-2.0zM402.2,335.6h2.0v2.0h-2.0zM365.4,337.2h2.0v2.0h-2.0zM357.4,338.8h3.6v2.0h-3.6zM362.2,338.8h2.0v2.0h-2.0zM365.4,338.8h2.0v2.0h-2.0zM403.8,338.8h2.0v2.0h-2.0zM362.2,340.4h2.0v2.0h-2.0zM357.4,342.0h2.0v2.0h-2.0zM357.4,343.6h2.0v2.0h-2.0zM360.6,343.6h2.0v2.0h-2.0zM368.6,343.6h2.0v2.0h-2.0zM402.2,343.6h2.0v2.0h-2.0zM375.0,346.8h2.0v2.0h-2.0zM402.2,346.8h2.0v2.0h-2.0zM359.0,348.4h2.0v2.0h-2.0zM363.8,348.4h2.0v2.0h-2.0zM370.2,348.4h2.0v2.0h-2.0zM383.0,348.4h2.0v2.0h-2.0zM403.8,348.4h2.0v2.0h-2.0zM384.6,350.0h2.0v2.0h-2.0zM391.0,350.0h2.0v2.0h-2.0zM397.4,350.0h2.0v2.0h-2.0zM359.0,351.6h2.0v2.0h-2.0zM375.0,351.6h2.0v2.0h-2.0zM389.4,351.6h2.0v2.0h-2.0zM397.4,351.6h2.0v2.0h-2.0zM367.0,353.2h2.0v2.0h-2.0zM392.6,353.2h2.0v2.0h-2.0zM395.8,353.2h3.6v2.0h-3.6zM387.8,354.8h2.0v2.0h-2.0zM360.6,356.4h3.6v2.0h-3.6zM397.4,356.4h2.0v2.0h-2.0zM381.4,358.0h2.0v2.0h-2.0zM363.8,359.6h2.0v2.0h-2.0zM397.4,359.6h3.6v2.0h-3.6zM359.0,362.8h2.0v2.0h-2.0zM362.2,362.8h2.0v2.0h-2.0zM367.0,362.8h2.0v2.0h-2.0zM363.8,364.4h2.0v2.0h-2.0zM363.8,366.0h2.0v2.0h-2.0zM400.6,367.6h2.0v2.0h-2.0zM365.4,369.2h2.0v2.0h-2.0zM367.0,370.8h2.0v2.0h-2.0zM371.8,370.8h2.0v2.0h-2.0zM383.0,370.8h2.0v2.0h-2.0zM378.2,372.4h2.0v2.0h-2.0zM395.8,372.4h2.0v2.0h-2.0zM357.4,375.7h2.0v2.0h-2.0zM362.2,375.7h2.0v2.0h-2.0zM365.4,375.7h2.0v2.0h-2.0zM368.6,375.7h2.0v2.0h-2.0zM362.2,377.3h2.0v2.0h-2.0zM367.0,377.3h2.0v2.0h-2.0zM402.2,377.3h2.0v2.0h-2.0zM357.4,378.9h2.0v2.0h-2.0zM362.2,380.5h2.0v2.0h-2.0zM365.4,380.5h2.0v2.0h-2.0zM402.2,380.5h2.0v2.0h-2.0zM360.6,382.1h2.0v2.0h-2.0zM363.8,382.1h3.6v2.0h-3.6z" fill="#128a4e"/>
<path d="M418.2,239.4h2.0v2.0h-2.0zM442.2,239.4h2.0v2.0h-2.0zM439.0,241.0h5.2v2.0h-5.2zM450.2,241.0h2.0v2.0h-2.0zM453.4,241.0h2.0v2.0h-2.0zM416.6,242.6h2.0v2.0h-2.0zM419.8,242.6h2.0v2.0h-2.0zM439.0,242.6h2.0v2.0h-2.0zM442.2,242.6h2.0v2.0h-2.0zM423.0,244.2h2.0v2.0h-2.0zM442.2,244.2h2.0v2.0h-2.0zM426.2,245.8h5.2v2.0h-5.2zM424.6,247.4h2.0v2.0h-2.0zM429.4,247.4h2.0v2.0h-2.0zM435.8,247.4h2.0v2.0h-2.0zM445.4,247.4h2.0v2.0h-2.0zM426.2,249.0h2.0v2.0h-2.0zM431.0,249.0h2.0v2.0h-2.0zM437.4,249.0h2.0v2.0h-2.0zM440.6,249.0h2.0v2.0h-2.0zM448.6,249.0h3.6v2.0h-3.6zM453.4,249.0h2.0v2.0h-2.0zM418.2,250.6h2.0v2.0h-2.0zM426.2,250.6h2.0v2.0h-2.0zM431.0,250.6h2.0v2.0h-2.0zM443.8,250.6h2.0v2.0h-2.0zM450.2,250.6h2.0v2.0h-2.0zM416.6,252.2h2.0v2.0h-2.0zM421.4,252.2h2.0v2.0h-2.0zM431.0,252.2h3.6v2.0h-3.6zM435.8,252.2h2.0v2.0h-2.0zM440.6,252.2h3.6v2.0h-3.6zM450.2,252.2h2.0v2.0h-2.0zM416.6,253.8h3.6v2.0h-3.6zM424.6,253.8h2.0v2.0h-2.0zM431.0,253.8h2.0v2.0h-2.0zM440.6,253.8h2.0v2.0h-2.0zM443.8,253.8h2.0v2.0h-2.0zM434.2,255.4h2.0v2.0h-2.0zM437.4,255.4h2.0v2.0h-2.0zM443.8,255.4h2.0v2.0h-2.0zM439.0,257.0h2.0v2.0h-2.0zM443.8,257.0h6.8v2.0h-6.8zM453.4,257.0h2.0v2.0h-2.0zM429.4,258.6h2.0v2.0h-2.0zM443.8,258.6h2.0v2.0h-2.0zM448.6,258.6h2.0v2.0h-2.0zM424.6,260.2h2.0v2.0h-2.0zM427.8,260.2h2.0v2.0h-2.0zM432.6,260.2h2.0v2.0h-2.0zM445.4,260.2h2.0v2.0h-2.0zM434.2,261.8h2.0v2.0h-2.0zM423.0,265.0h2.0v2.0h-2.0zM439.0,265.0h3.6v2.0h-3.6zM418.2,266.7h5.2v2.0h-5.2zM442.2,266.7h2.0v2.0h-2.0zM450.2,266.7h2.0v2.0h-2.0zM453.4,266.7h2.0v2.0h-2.0zM427.8,268.3h2.0v2.0h-2.0zM439.0,268.3h2.0v2.0h-2.0zM442.2,268.3h2.0v2.0h-2.0zM450.2,268.3h2.0v2.0h-2.0zM408.6,271.5h2.0v2.0h-2.0zM411.8,271.5h3.6v2.0h-3.6zM423.0,271.5h2.0v2.0h-2.0zM411.8,273.1h2.0v2.0h-2.0zM408.6,274.7h2.0v2.0h-2.0zM411.8,274.7h2.0v2.0h-2.0zM407.0,276.3h2.0v2.0h-2.0zM410.2,276.3h2.0v2.0h-2.0zM413.4,276.3h2.0v2.0h-2.0zM405.4,277.9h2.0v2.0h-2.0zM408.6,279.5h2.0v2.0h-2.0zM423.0,279.5h2.0v2.0h-2.0zM408.6,281.1h5.2v2.0h-5.2zM415.0,281.1h2.0v2.0h-2.0zM423.0,282.7h2.0v2.0h-2.0zM440.6,282.7h2.0v2.0h-2.0zM451.8,282.7h2.0v2.0h-2.0zM418.2,284.3h2.0v2.0h-2.0zM439.0,284.3h3.6v2.0h-3.6zM451.8,284.3h2.0v2.0h-2.0zM413.4,285.9h2.0v2.0h-2.0zM405.4,287.5h3.6v2.0h-3.6zM410.2,287.5h2.0v2.0h-2.0zM405.4,289.1h2.0v2.0h-2.0zM405.4,292.3h3.6v2.0h-3.6zM415.0,292.3h2.0v2.0h-2.0zM408.6,293.9h3.6v2.0h-3.6zM421.4,293.9h2.0v2.0h-2.0zM439.0,293.9h2.0v2.0h-2.0zM405.4,295.5h2.0v2.0h-2.0zM423.0,295.5h2.0v2.0h-2.0zM424.6,297.1h2.0v2.0h-2.0zM431.0,297.1h2.0v2.0h-2.0zM443.8,297.1h2.0v2.0h-2.0zM447.0,297.1h2.0v2.0h-2.0zM416.6,298.7h2.0v2.0h-2.0zM429.4,298.7h3.6v2.0h-3.6zM434.2,298.7h2.0v2.0h-2.0zM447.0,298.7h2.0v2.0h-2.0zM424.6,300.3h2.0v2.0h-2.0zM427.8,300.3h3.6v2.0h-3.6zM432.6,300.3h2.0v2.0h-2.0zM437.4,300.3h2.0v2.0h-2.0zM448.6,300.3h2.0v2.0h-2.0zM416.6,301.9h2.0v2.0h-2.0zM421.4,301.9h2.0v2.0h-2.0zM427.8,301.9h3.6v2.0h-3.6zM448.6,301.9h2.0v2.0h-2.0zM421.4,303.5h2.0v2.0h-2.0zM437.4,303.5h2.0v2.0h-2.0zM453.4,303.5h2.0v2.0h-2.0zM426.2,305.1h3.6v2.0h-3.6zM434.2,305.1h3.6v2.0h-3.6zM443.8,305.1h2.0v2.0h-2.0zM453.4,305.1h2.0v2.0h-2.0zM418.2,306.7h2.0v2.0h-2.0zM426.2,306.7h5.2v2.0h-5.2zM437.4,306.7h5.2v2.0h-5.2zM443.8,306.7h2.0v2.0h-2.0zM427.8,308.3h2.0v2.0h-2.0zM440.6,308.3h2.0v2.0h-2.0zM448.6,308.3h2.0v2.0h-2.0zM451.8,308.3h3.6v2.0h-3.6zM418.2,309.9h2.0v2.0h-2.0zM427.8,309.9h2.0v2.0h-2.0zM431.0,309.9h5.2v2.0h-5.2zM445.4,309.9h2.0v2.0h-2.0zM453.4,309.9h2.0v2.0h-2.0zM418.2,311.5h2.0v2.0h-2.0zM427.8,311.5h2.0v2.0h-2.0zM431.0,311.5h2.0v2.0h-2.0zM435.8,311.5h2.0v2.0h-2.0zM448.6,311.5h2.0v2.0h-2.0zM426.2,313.1h2.0v2.0h-2.0zM431.0,313.1h2.0v2.0h-2.0zM443.8,313.1h2.0v2.0h-2.0zM426.2,314.7h2.0v2.0h-2.0zM435.8,314.7h2.0v2.0h-2.0zM443.8,314.7h3.6v2.0h-3.6zM359.0,316.3h3.6v2.0h-3.6zM370.2,316.3h2.0v2.0h-2.0zM359.0,317.9h2.0v2.0h-2.0zM367.0,317.9h2.0v2.0h-2.0zM397.4,317.9h3.6v2.0h-3.6zM402.2,317.9h2.0v2.0h-2.0zM367.0,319.6h5.2v2.0h-5.2zM375.0,319.6h2.0v2.0h-2.0zM399.0,319.6h2.0v2.0h-2.0zM402.2,319.6h3.6v2.0h-3.6zM357.4,321.2h2.0v2.0h-2.0zM360.6,321.2h2.0v2.0h-2.0zM365.4,321.2h2.0v2.0h-2.0zM379.8,321.2h2.0v2.0h-2.0zM399.0,321.2h3.6v2.0h-3.6zM357.4,322.8h3.6v2.0h-3.6zM362.2,322.8h2.0v2.0h-2.0zM368.6,322.8h2.0v2.0h-2.0zM376.6,322.8h2.0v2.0h-2.0zM392.6,322.8h2.0v2.0h-2.0zM399.0,322.8h2.0v2.0h-2.0zM360.6,324.4h2.0v2.0h-2.0zM363.8,324.4h2.0v2.0h-2.0zM367.0,324.4h2.0v2.0h-2.0zM370.2,324.4h2.0v2.0h-2.0zM397.4,324.4h3.6v2.0h-3.6zM359.0,326.0h3.6v2.0h-3.6zM375.0,326.0h3.6v2.0h-3.6zM391.0,326.0h3.6v2.0h-3.6zM399.0,326.0h3.6v2.0h-3.6zM362.2,327.6h2.0v2.0h-2.0zM375.0,327.6h3.6v2.0h-3.6zM394.2,327.6h3.6v2.0h-3.6zM399.0,327.6h2.0v2.0h-2.0zM403.8,327.6h2.0v2.0h-2.0zM357.4,329.2h3.6v2.0h-3.6zM365.4,329.2h2.0v2.0h-2.0zM370.2,329.2h2.0v2.0h-2.0zM375.0,329.2h2.0v2.0h-2.0zM378.2,329.2h2.0v2.0h-2.0zM384.6,329.2h2.0v2.0h-2.0zM392.6,329.2h2.0v2.0h-2.0zM360.6,330.8h5.2v2.0h-5.2zM368.6,330.8h3.6v2.0h-3.6zM400.6,330.8h3.6v2.0h-3.6zM355.8,332.4h2.0v2.0h-2.0zM355.8,334.0h2.0v2.0h-2.0zM357.4,335.6h6.8v2.0h-6.8zM370.2,335.6h2.0v2.0h-2.0zM359.0,337.2h2.0v2.0h-2.0zM367.0,337.2h2.0v2.0h-2.0zM400.6,337.2h2.0v2.0h-2.0zM370.2,338.8h2.0v2.0h-2.0zM359.0,340.4h2.0v2.0h-2.0zM400.6,340.4h2.0v2.0h-2.0zM403.8,340.4h2.0v2.0h-2.0zM359.0,342.0h2.0v2.0h-2.0zM367.0,342.0h2.0v2.0h-2.0zM399.0,342.0h3.6v2.0h-3.6zM403.8,342.0h2.0v2.0h-2.0zM363.8,343.6h2.0v2.0h-2.0zM403.8,343.6h2.0v2.0h-2.0zM355.8,345.2h2.0v2.0h-2.0zM362.2,346.8h2.0v2.0h-2.0zM368.6,346.8h3.6v2.0h-3.6zM399.0,346.8h2.0v2.0h-2.0zM362.2,348.4h2.0v2.0h-2.0zM365.4,348.4h2.0v2.0h-2.0zM400.6,348.4h2.0v2.0h-2.0zM360.6,350.0h5.2v2.0h-5.2zM370.2,350.0h2.0v2.0h-2.0zM373.4,350.0h2.0v2.0h-2.0zM389.4,350.0h2.0v2.0h-2.0zM400.6,350.0h3.6v2.0h-3.6zM360.6,351.6h5.2v2.0h-5.2zM367.0,351.6h2.0v2.0h-2.0zM400.6,351.6h2.0v2.0h-2.0zM357.4,353.2h3.6v2.0h-3.6zM362.2,353.2h3.6v2.0h-3.6zM375.0,353.2h3.6v2.0h-3.6zM383.0,353.2h2.0v2.0h-2.0zM391.0,353.2h2.0v2.0h-2.0zM399.0,353.2h2.0v2.0h-2.0zM402.2,353.2h2.0v2.0h-2.0zM362.2,354.8h2.0v2.0h-2.0zM399.0,354.8h5.2v2.0h-5.2zM363.8,356.4h2.0v2.0h-2.0zM400.6,356.4h2.0v2.0h-2.0zM359.0,358.0h3.6v2.0h-3.6zM365.4,358.0h3.6v2.0h-3.6zM370.2,358.0h2.0v2.0h-2.0zM373.4,358.0h2.0v2.0h-2.0zM376.6,358.0h2.0v2.0h-2.0zM395.8,358.0h2.0v2.0h-2.0zM399.0,358.0h2.0v2.0h-2.0zM359.0,359.6h2.0v2.0h-2.0zM367.0,359.6h2.0v2.0h-2.0zM370.2,359.6h2.0v2.0h-2.0zM373.4,359.6h2.0v2.0h-2.0zM400.6,359.6h3.6v2.0h-3.6zM360.6,361.2h3.6v2.0h-3.6zM368.6,361.2h2.0v2.0h-2.0zM357.4,362.8h2.0v2.0h-2.0zM360.6,362.8h2.0v2.0h-2.0zM368.6,362.8h2.0v2.0h-2.0zM365.4,364.4h2.0v2.0h-2.0zM368.6,364.4h3.6v2.0h-3.6zM368.6,366.0h2.0v2.0h-2.0zM367.0,369.2h2.0v2.0h-2.0zM368.6,370.8h2.0v2.0h-2.0zM373.4,370.8h2.0v2.0h-2.0zM376.6,370.8h2.0v2.0h-2.0zM394.2,370.8h2.0v2.0h-2.0zM399.0,370.8h2.0v2.0h-2.0zM403.8,370.8h2.0v2.0h-2.0zM363.8,372.4h2.0v2.0h-2.0zM373.4,372.4h2.0v2.0h-2.0zM400.6,372.4h2.0v2.0h-2.0zM362.2,374.1h2.0v2.0h-2.0zM368.6,374.1h3.6v2.0h-3.6zM391.0,374.1h2.0v2.0h-2.0zM397.4,374.1h2.0v2.0h-2.0zM370.2,375.7h2.0v2.0h-2.0zM360.6,377.3h2.0v2.0h-2.0zM365.4,377.3h2.0v2.0h-2.0zM370.2,377.3h2.0v2.0h-2.0zM400.6,377.3h2.0v2.0h-2.0zM363.8,380.5h2.0v2.0h-2.0zM370.2,380.5h2.0v2.0h-2.0zM362.2,382.1h2.0v2.0h-2.0zM378.2,388.5h2.0v2.0h-2.0z" fill="#1e964e"/>
<path d="M421.4,239.4h2.0v2.0h-2.0zM450.2,239.4h2.0v2.0h-2.0zM445.4,242.6h2.0v2.0h-2.0zM421.4,244.2h2.0v2.0h-2.0zM450.2,244.2h2.0v2.0h-2.0zM416.6,245.8h2.0v2.0h-2.0zM434.2,247.4h2.0v2.0h-2.0zM443.8,247.4h2.0v2.0h-2.0zM448.6,247.4h2.0v2.0h-2.0zM418.2,252.2h2.0v2.0h-2.0zM426.2,252.2h2.0v2.0h-2.0zM451.8,253.8h2.0v2.0h-2.0zM445.4,255.4h2.0v2.0h-2.0zM437.4,257.0h2.0v2.0h-2.0zM435.8,258.6h2.0v2.0h-2.0zM445.4,258.6h2.0v2.0h-2.0zM416.6,265.0h2.0v2.0h-2.0zM453.4,265.0h2.0v2.0h-2.0zM431.0,266.7h2.0v2.0h-2.0zM451.8,266.7h2.0v2.0h-2.0zM418.2,268.3h2.0v2.0h-2.0zM423.0,268.3h2.0v2.0h-2.0zM442.2,284.3h2.0v2.0h-2.0zM405.4,285.9h2.0v2.0h-2.0zM408.6,289.1h2.0v2.0h-2.0zM413.4,289.1h2.0v2.0h-2.0zM407.0,290.7h2.0v2.0h-2.0zM410.2,290.7h2.0v2.0h-2.0zM411.8,292.3h2.0v2.0h-2.0zM423.0,293.9h2.0v2.0h-2.0zM431.0,301.9h2.0v2.0h-2.0zM426.2,303.5h2.0v2.0h-2.0zM435.8,303.5h2.0v2.0h-2.0zM445.4,305.1h2.0v2.0h-2.0zM418.2,308.3h2.0v2.0h-2.0zM429.4,308.3h3.6v2.0h-3.6zM443.8,308.3h2.0v2.0h-2.0zM424.6,309.9h2.0v2.0h-2.0zM437.4,309.9h2.0v2.0h-2.0zM432.6,313.1h3.6v2.0h-3.6zM427.8,314.7h2.0v2.0h-2.0zM392.6,319.6h2.0v2.0h-2.0zM400.6,319.6h2.0v2.0h-2.0zM383.0,321.2h2.0v2.0h-2.0zM392.6,321.2h2.0v2.0h-2.0zM397.4,321.2h2.0v2.0h-2.0zM400.6,322.8h2.0v2.0h-2.0zM362.2,324.4h2.0v2.0h-2.0zM373.4,324.4h2.0v2.0h-2.0zM400.6,324.4h2.0v2.0h-2.0zM359.0,330.8h2.0v2.0h-2.0zM378.2,330.8h2.0v2.0h-2.0zM400.6,335.6h2.0v2.0h-2.0zM403.8,335.6h2.0v2.0h-2.0zM362.2,337.2h3.6v2.0h-3.6zM370.2,337.2h2.0v2.0h-2.0zM367.0,338.8h2.0v2.0h-2.0zM370.2,340.4h2.0v2.0h-2.0zM399.0,340.4h2.0v2.0h-2.0zM363.8,342.0h2.0v2.0h-2.0zM370.2,342.0h2.0v2.0h-2.0zM365.4,343.6h2.0v2.0h-2.0zM400.6,343.6h2.0v2.0h-2.0zM360.6,345.2h2.0v2.0h-2.0zM368.6,350.0h2.0v2.0h-2.0zM375.0,350.0h2.0v2.0h-2.0zM376.6,351.6h2.0v2.0h-2.0zM399.0,351.6h2.0v2.0h-2.0zM403.8,353.2h2.0v2.0h-2.0zM359.0,354.8h2.0v2.0h-2.0zM365.4,354.8h2.0v2.0h-2.0zM368.6,354.8h2.0v2.0h-2.0zM375.0,354.8h2.0v2.0h-2.0zM403.8,354.8h2.0v2.0h-2.0zM357.4,356.4h2.0v2.0h-2.0zM370.2,356.4h2.0v2.0h-2.0zM403.8,364.4h2.0v2.0h-2.0zM357.4,366.0h2.0v2.0h-2.0zM360.6,367.6h2.0v2.0h-2.0zM403.8,367.6h2.0v2.0h-2.0zM368.6,369.2h2.0v2.0h-2.0zM403.8,369.2h2.0v2.0h-2.0zM362.2,370.8h2.0v2.0h-2.0zM375.0,370.8h2.0v2.0h-2.0zM397.4,370.8h2.0v2.0h-2.0zM399.0,372.4h2.0v2.0h-2.0zM387.8,374.1h3.6v2.0h-3.6zM392.6,374.1h2.0v2.0h-2.0zM359.0,377.3h2.0v2.0h-2.0zM363.8,377.3h2.0v2.0h-2.0zM403.8,377.3h2.0v2.0h-2.0zM359.0,378.9h2.0v2.0h-2.0zM359.0,382.1h2.0v2.0h-2.0zM367.0,382.1h3.6v2.0h-3.6z" fill="#1e8a4e"/>
<path d="M423.0,239.4h2.0v2.0h-2.0zM453.4,239.4h2.0v2.0h-2.0zM421.4,241.0h3.6v2.0h-3.6zM451.8,241.0h2.0v2.0h-2.0zM423.0,242.6h2.0v2.0h-2.0zM431.0,245.8h2.0v2.0h-2.0zM439.0,247.4h2.0v2.0h-2.0zM451.8,247.4h2.0v2.0h-2.0zM439.0,249.0h2.0v2.0h-2.0zM442.2,249.0h2.0v2.0h-2.0zM419.8,253.8h2.0v2.0h-2.0zM424.6,255.4h2.0v2.0h-2.0zM418.2,257.0h2.0v2.0h-2.0zM424.6,257.0h2.0v2.0h-2.0zM431.0,257.0h2.0v2.0h-2.0zM434.2,258.6h2.0v2.0h-2.0zM424.6,261.8h2.0v2.0h-2.0zM429.4,261.8h2.0v2.0h-2.0zM447.0,261.8h2.0v2.0h-2.0zM424.6,263.4h2.0v2.0h-2.0zM435.8,263.4h2.0v2.0h-2.0zM443.8,263.4h3.6v2.0h-3.6zM442.2,265.0h2.0v2.0h-2.0zM439.0,266.7h2.0v2.0h-2.0zM440.6,268.3h2.0v2.0h-2.0zM408.6,269.9h2.0v2.0h-2.0zM415.0,271.5h2.0v2.0h-2.0zM413.4,274.7h2.0v2.0h-2.0zM411.8,276.3h2.0v2.0h-2.0zM407.0,277.9h2.0v2.0h-2.0zM410.2,279.5h2.0v2.0h-2.0zM415.0,279.5h2.0v2.0h-2.0zM410.2,284.3h2.0v2.0h-2.0zM407.0,285.9h2.0v2.0h-2.0zM435.8,300.3h2.0v2.0h-2.0zM450.2,301.9h2.0v2.0h-2.0zM453.4,301.9h2.0v2.0h-2.0zM416.6,303.5h2.0v2.0h-2.0zM450.2,305.1h2.0v2.0h-2.0zM416.6,306.7h2.0v2.0h-2.0zM431.0,306.7h2.0v2.0h-2.0zM416.6,308.3h2.0v2.0h-2.0zM426.2,308.3h2.0v2.0h-2.0zM426.2,309.9h2.0v2.0h-2.0zM429.4,309.9h2.0v2.0h-2.0zM450.2,309.9h2.0v2.0h-2.0zM426.2,311.5h2.0v2.0h-2.0zM432.6,311.5h2.0v2.0h-2.0zM453.4,311.5h2.0v2.0h-2.0zM357.4,316.3h2.0v2.0h-2.0zM402.2,316.3h3.6v2.0h-3.6zM363.8,317.9h2.0v2.0h-2.0zM370.2,317.9h2.0v2.0h-2.0zM400.6,317.9h2.0v2.0h-2.0zM360.6,319.6h2.0v2.0h-2.0zM402.2,321.2h3.6v2.0h-3.6zM360.6,322.8h2.0v2.0h-2.0zM359.0,324.4h2.0v2.0h-2.0zM370.2,326.0h2.0v2.0h-2.0zM400.6,327.6h2.0v2.0h-2.0zM400.6,329.2h2.0v2.0h-2.0zM357.4,330.8h2.0v2.0h-2.0zM367.0,330.8h2.0v2.0h-2.0zM349.4,332.4h2.0v2.0h-2.0zM360.6,337.2h2.0v2.0h-2.0zM355.8,346.8h2.0v2.0h-2.0zM359.0,346.8h2.0v2.0h-2.0zM363.8,346.8h2.0v2.0h-2.0zM360.6,348.4h2.0v2.0h-2.0zM359.0,350.0h2.0v2.0h-2.0zM403.8,350.0h2.0v2.0h-2.0zM357.4,351.6h2.0v2.0h-2.0zM370.2,351.6h2.0v2.0h-2.0zM357.4,354.8h2.0v2.0h-2.0zM370.2,354.8h2.0v2.0h-2.0zM359.0,356.4h2.0v2.0h-2.0zM365.4,356.4h2.0v2.0h-2.0zM402.2,356.4h2.0v2.0h-2.0zM360.6,359.6h2.0v2.0h-2.0zM403.8,359.6h2.0v2.0h-2.0zM355.8,362.8h2.0v2.0h-2.0zM359.0,370.8h2.0v2.0h-2.0zM402.2,370.8h2.0v2.0h-2.0zM360.6,372.4h3.6v2.0h-3.6zM391.0,372.4h2.0v2.0h-2.0zM403.8,372.4h2.0v2.0h-2.0zM375.0,374.1h2.0v2.0h-2.0zM402.2,374.1h2.0v2.0h-2.0zM400.6,375.7h2.0v2.0h-2.0zM355.8,377.3h2.0v2.0h-2.0zM363.8,378.9h2.0v2.0h-2.0zM387.8,390.1h2.0v2.0h-2.0zM381.4,391.7h2.0v2.0h-2.0zM379.8,394.9h2.0v2.0h-2.0z" fill="#2aa24e"/>
<path d="M424.6,239.4h3.6v2.0h-3.6zM435.8,239.4h3.6v2.0h-3.6zM440.6,239.4h2.0v2.0h-2.0zM443.8,239.4h3.6v2.0h-3.6zM448.6,239.4h2.0v2.0h-2.0zM435.8,241.0h2.0v2.0h-2.0zM447.0,241.0h2.0v2.0h-2.0zM426.2,242.6h3.6v2.0h-3.6zM431.0,242.6h2.0v2.0h-2.0zM434.2,242.6h2.0v2.0h-2.0zM450.2,242.6h2.0v2.0h-2.0zM429.4,244.2h3.6v2.0h-3.6zM443.8,245.8h2.0v2.0h-2.0zM424.6,249.0h2.0v2.0h-2.0zM427.8,249.0h2.0v2.0h-2.0zM432.6,249.0h2.0v2.0h-2.0zM435.8,249.0h2.0v2.0h-2.0zM424.6,250.6h2.0v2.0h-2.0zM432.6,250.6h2.0v2.0h-2.0zM437.4,250.6h2.0v2.0h-2.0zM448.6,250.6h2.0v2.0h-2.0zM424.6,252.2h2.0v2.0h-2.0zM437.4,252.2h2.0v2.0h-2.0zM445.4,252.2h2.0v2.0h-2.0zM448.6,252.2h2.0v2.0h-2.0zM437.4,253.8h2.0v2.0h-2.0zM432.6,255.4h2.0v2.0h-2.0zM434.2,257.0h3.6v2.0h-3.6zM435.8,260.2h2.0v2.0h-2.0zM443.8,260.2h2.0v2.0h-2.0zM448.6,260.2h2.0v2.0h-2.0zM418.2,265.0h2.0v2.0h-2.0zM431.0,265.0h5.2v2.0h-5.2zM445.4,266.7h2.0v2.0h-2.0zM448.6,266.7h2.0v2.0h-2.0zM416.6,268.3h2.0v2.0h-2.0zM429.4,268.3h2.0v2.0h-2.0zM432.6,268.3h3.6v2.0h-3.6zM437.4,268.3h2.0v2.0h-2.0zM445.4,268.3h2.0v2.0h-2.0zM448.6,268.3h2.0v2.0h-2.0zM419.8,269.9h2.0v2.0h-2.0zM423.0,269.9h2.0v2.0h-2.0zM453.4,269.9h2.0v2.0h-2.0zM416.6,271.5h2.0v2.0h-2.0zM427.8,271.5h3.6v2.0h-3.6zM439.0,271.5h2.0v2.0h-2.0zM419.8,273.1h3.6v2.0h-3.6zM419.8,274.7h2.0v2.0h-2.0zM439.0,274.7h2.0v2.0h-2.0zM442.2,274.7h2.0v2.0h-2.0zM408.6,276.3h2.0v2.0h-2.0zM415.0,276.3h2.0v2.0h-2.0zM408.6,277.9h2.0v2.0h-2.0zM421.4,279.5h2.0v2.0h-2.0zM439.0,279.5h3.6v2.0h-3.6zM440.6,281.1h2.0v2.0h-2.0zM453.4,281.1h2.0v2.0h-2.0zM416.6,282.7h2.0v2.0h-2.0zM439.0,282.7h2.0v2.0h-2.0zM447.0,282.7h3.6v2.0h-3.6zM419.8,284.3h2.0v2.0h-2.0zM445.4,284.3h2.0v2.0h-2.0zM408.6,285.9h2.0v2.0h-2.0zM411.8,287.5h2.0v2.0h-2.0zM410.2,289.1h2.0v2.0h-2.0zM405.4,290.7h2.0v2.0h-2.0zM450.2,293.9h3.6v2.0h-3.6zM419.8,295.5h2.0v2.0h-2.0zM432.6,301.9h2.0v2.0h-2.0zM435.8,301.9h2.0v2.0h-2.0zM447.0,301.9h2.0v2.0h-2.0zM429.4,303.5h2.0v2.0h-2.0zM448.6,303.5h2.0v2.0h-2.0zM437.4,305.1h2.0v2.0h-2.0zM434.2,308.3h3.6v2.0h-3.6zM447.0,308.3h2.0v2.0h-2.0zM435.8,309.9h2.0v2.0h-2.0zM432.6,314.7h2.0v2.0h-2.0zM373.4,316.3h2.0v2.0h-2.0zM378.2,316.3h3.6v2.0h-3.6zM389.4,316.3h2.0v2.0h-2.0zM395.8,316.3h2.0v2.0h-2.0zM373.4,317.9h2.0v2.0h-2.0zM384.6,317.9h2.0v2.0h-2.0zM391.0,317.9h2.0v2.0h-2.0zM394.2,317.9h2.0v2.0h-2.0zM376.6,319.6h2.0v2.0h-2.0zM379.8,319.6h3.6v2.0h-3.6zM386.2,319.6h2.0v2.0h-2.0zM373.4,321.2h5.2v2.0h-5.2zM395.8,321.2h2.0v2.0h-2.0zM375.0,322.8h2.0v2.0h-2.0zM383.0,322.8h2.0v2.0h-2.0zM389.4,322.8h2.0v2.0h-2.0zM376.6,324.4h2.0v2.0h-2.0zM386.2,324.4h2.0v2.0h-2.0zM392.6,324.4h2.0v2.0h-2.0zM373.4,326.0h2.0v2.0h-2.0zM381.4,326.0h2.0v2.0h-2.0zM387.8,326.0h2.0v2.0h-2.0zM378.2,327.6h3.6v2.0h-3.6zM386.2,327.6h2.0v2.0h-2.0zM389.4,327.6h2.0v2.0h-2.0zM371.8,329.2h2.0v2.0h-2.0zM381.4,329.2h2.0v2.0h-2.0zM373.4,330.8h2.0v2.0h-2.0zM387.8,330.8h3.6v2.0h-3.6zM394.2,330.8h3.6v2.0h-3.6zM403.8,330.8h2.0v2.0h-2.0zM362.2,332.4h3.6v2.0h-3.6zM360.6,334.0h2.0v2.0h-2.0zM363.8,334.0h2.0v2.0h-2.0zM365.4,335.6h2.0v2.0h-2.0zM357.4,337.2h2.0v2.0h-2.0zM391.0,337.2h2.0v2.0h-2.0zM394.2,337.2h2.0v2.0h-2.0zM402.2,337.2h2.0v2.0h-2.0zM375.0,338.8h2.0v2.0h-2.0zM397.4,338.8h2.0v2.0h-2.0zM402.2,338.8h2.0v2.0h-2.0zM360.6,340.4h2.0v2.0h-2.0zM376.6,340.4h2.0v2.0h-2.0zM402.2,340.4h2.0v2.0h-2.0zM389.4,342.0h2.0v2.0h-2.0zM402.2,342.0h2.0v2.0h-2.0zM391.0,343.6h2.0v2.0h-2.0zM357.4,345.2h2.0v2.0h-2.0zM397.4,345.2h2.0v2.0h-2.0zM403.8,345.2h2.0v2.0h-2.0zM365.4,346.8h2.0v2.0h-2.0zM373.4,346.8h2.0v2.0h-2.0zM383.0,346.8h3.6v2.0h-3.6zM394.2,346.8h2.0v2.0h-2.0zM375.0,348.4h2.0v2.0h-2.0zM392.6,348.4h2.0v2.0h-2.0zM395.8,348.4h2.0v2.0h-2.0zM399.0,348.4h2.0v2.0h-2.0zM376.6,350.0h3.6v2.0h-3.6zM371.8,351.6h2.0v2.0h-2.0zM378.2,351.6h2.0v2.0h-2.0zM381.4,351.6h2.0v2.0h-2.0zM395.8,351.6h2.0v2.0h-2.0zM379.8,353.2h2.0v2.0h-2.0zM389.4,353.2h2.0v2.0h-2.0zM360.6,354.8h2.0v2.0h-2.0zM373.4,354.8h2.0v2.0h-2.0zM376.6,354.8h2.0v2.0h-2.0zM381.4,354.8h2.0v2.0h-2.0zM386.2,354.8h2.0v2.0h-2.0zM394.2,354.8h2.0v2.0h-2.0zM373.4,356.4h2.0v2.0h-2.0zM379.8,356.4h2.0v2.0h-2.0zM389.4,356.4h2.0v2.0h-2.0zM392.6,356.4h5.2v2.0h-5.2zM399.0,356.4h2.0v2.0h-2.0zM389.4,358.0h2.0v2.0h-2.0zM392.6,358.0h2.0v2.0h-2.0zM402.2,358.0h2.0v2.0h-2.0zM376.6,359.6h2.0v2.0h-2.0zM383.0,359.6h2.0v2.0h-2.0zM387.8,359.6h6.8v2.0h-6.8zM359.0,361.2h2.0v2.0h-2.0zM363.8,361.2h2.0v2.0h-2.0zM394.2,361.2h2.0v2.0h-2.0zM402.2,362.8h3.6v2.0h-3.6zM359.0,364.4h2.0v2.0h-2.0zM400.6,364.4h2.0v2.0h-2.0zM365.4,366.0h2.0v2.0h-2.0zM357.4,367.6h3.6v2.0h-3.6zM362.2,367.6h2.0v2.0h-2.0zM368.6,367.6h2.0v2.0h-2.0zM360.6,369.2h2.0v2.0h-2.0zM400.6,369.2h2.0v2.0h-2.0zM381.4,370.8h2.0v2.0h-2.0zM387.8,370.8h3.6v2.0h-3.6zM371.8,372.4h2.0v2.0h-2.0zM375.0,372.4h2.0v2.0h-2.0zM384.6,372.4h2.0v2.0h-2.0zM376.6,374.1h2.0v2.0h-2.0zM381.4,374.1h2.0v2.0h-2.0zM384.6,374.1h3.6v2.0h-3.6zM359.0,375.7h2.0v2.0h-2.0zM391.0,377.3h2.0v2.0h-2.0zM365.4,378.9h2.0v2.0h-2.0zM403.8,378.9h2.0v2.0h-2.0zM359.0,380.5h2.0v2.0h-2.0zM367.0,380.5h2.0v2.0h-2.0zM389.4,380.5h2.0v2.0h-2.0zM394.2,380.5h3.6v2.0h-3.6zM375.0,382.1h2.0v2.0h-2.0zM394.2,382.1h2.0v2.0h-2.0zM400.6,382.1h2.0v2.0h-2.0z" fill="#127e42"/>
<path d="M431.0,239.4h2.0v2.0h-2.0zM451.8,239.4h2.0v2.0h-2.0zM418.2,241.0h2.0v2.0h-2.0zM426.2,241.0h3.6v2.0h-3.6zM418.2,242.6h2.0v2.0h-2.0zM453.4,242.6h2.0v2.0h-2.0zM424.6,244.2h2.0v2.0h-2.0zM447.0,244.2h3.6v2.0h-3.6zM424.6,245.8h2.0v2.0h-2.0zM445.4,245.8h2.0v2.0h-2.0zM447.0,249.0h2.0v2.0h-2.0zM445.4,250.6h3.6v2.0h-3.6zM427.8,252.2h2.0v2.0h-2.0zM443.8,252.2h2.0v2.0h-2.0zM434.2,253.8h3.6v2.0h-3.6zM448.6,253.8h2.0v2.0h-2.0zM426.2,257.0h2.0v2.0h-2.0zM437.4,260.2h2.0v2.0h-2.0zM445.4,265.0h2.0v2.0h-2.0zM437.4,266.7h2.0v2.0h-2.0zM424.6,268.3h3.6v2.0h-3.6zM431.0,268.3h2.0v2.0h-2.0zM439.0,269.9h2.0v2.0h-2.0zM423.0,274.7h2.0v2.0h-2.0zM450.2,274.7h2.0v2.0h-2.0zM442.2,279.5h2.0v2.0h-2.0zM450.2,279.5h2.0v2.0h-2.0zM419.8,281.1h2.0v2.0h-2.0zM439.0,281.1h2.0v2.0h-2.0zM442.2,281.1h2.0v2.0h-2.0zM451.8,281.1h2.0v2.0h-2.0zM421.4,282.7h2.0v2.0h-2.0zM421.4,284.3h2.0v2.0h-2.0zM429.4,284.3h2.0v2.0h-2.0zM447.0,284.3h2.0v2.0h-2.0zM410.2,285.9h2.0v2.0h-2.0zM415.0,285.9h2.0v2.0h-2.0zM419.8,285.9h2.0v2.0h-2.0zM408.6,287.5h2.0v2.0h-2.0zM411.8,289.1h2.0v2.0h-2.0zM411.8,290.7h3.6v2.0h-3.6zM410.2,292.3h2.0v2.0h-2.0zM419.8,293.9h2.0v2.0h-2.0zM440.6,293.9h3.6v2.0h-3.6zM421.4,295.5h2.0v2.0h-2.0zM439.0,295.5h3.6v2.0h-3.6zM424.6,301.9h3.6v2.0h-3.6zM434.2,301.9h2.0v2.0h-2.0zM445.4,303.5h2.0v2.0h-2.0zM450.2,303.5h2.0v2.0h-2.0zM432.6,305.1h2.0v2.0h-2.0zM445.4,306.7h2.0v2.0h-2.0zM437.4,308.3h2.0v2.0h-2.0zM445.4,308.3h2.0v2.0h-2.0zM443.8,309.9h2.0v2.0h-2.0zM443.8,311.5h2.0v2.0h-2.0zM437.4,313.1h2.0v2.0h-2.0zM375.0,316.3h2.0v2.0h-2.0zM397.4,316.3h2.0v2.0h-2.0zM362.2,317.9h2.0v2.0h-2.0zM375.0,317.9h2.0v2.0h-2.0zM378.2,317.9h2.0v2.0h-2.0zM391.0,319.6h2.0v2.0h-2.0zM362.2,321.2h2.0v2.0h-2.0zM391.0,321.2h2.0v2.0h-2.0zM363.8,322.8h2.0v2.0h-2.0zM381.4,324.4h2.0v2.0h-2.0zM395.8,324.4h2.0v2.0h-2.0zM371.8,326.0h2.0v2.0h-2.0zM389.4,326.0h2.0v2.0h-2.0zM373.4,327.6h2.0v2.0h-2.0zM383.0,329.2h2.0v2.0h-2.0zM386.2,329.2h2.0v2.0h-2.0zM391.0,329.2h2.0v2.0h-2.0zM394.2,329.2h3.6v2.0h-3.6zM375.0,330.8h2.0v2.0h-2.0zM397.4,330.8h3.6v2.0h-3.6zM359.0,332.4h2.0v2.0h-2.0zM403.8,332.4h2.0v2.0h-2.0zM402.2,334.0h2.0v2.0h-2.0zM397.4,335.6h2.0v2.0h-2.0zM375.0,337.2h2.0v2.0h-2.0zM392.6,337.2h2.0v2.0h-2.0zM360.6,338.8h2.0v2.0h-2.0zM363.8,338.8h2.0v2.0h-2.0zM368.6,338.8h2.0v2.0h-2.0zM389.4,338.8h2.0v2.0h-2.0zM400.6,338.8h2.0v2.0h-2.0zM357.4,340.4h2.0v2.0h-2.0zM365.4,340.4h2.0v2.0h-2.0zM368.6,340.4h2.0v2.0h-2.0zM360.6,342.0h3.6v2.0h-3.6zM365.4,342.0h2.0v2.0h-2.0zM359.0,343.6h2.0v2.0h-2.0zM363.8,345.2h3.6v2.0h-3.6zM370.2,345.2h2.0v2.0h-2.0zM400.6,345.2h2.0v2.0h-2.0zM357.4,346.8h2.0v2.0h-2.0zM360.6,346.8h2.0v2.0h-2.0zM376.6,346.8h2.0v2.0h-2.0zM395.8,346.8h3.6v2.0h-3.6zM357.4,348.4h2.0v2.0h-2.0zM376.6,348.4h2.0v2.0h-2.0zM397.4,348.4h2.0v2.0h-2.0zM357.4,350.0h2.0v2.0h-2.0zM383.0,350.0h2.0v2.0h-2.0zM392.6,350.0h5.2v2.0h-5.2zM399.0,350.0h2.0v2.0h-2.0zM392.6,351.6h3.6v2.0h-3.6zM371.8,353.2h3.6v2.0h-3.6zM392.6,354.8h2.0v2.0h-2.0zM395.8,354.8h2.0v2.0h-2.0zM368.6,356.4h2.0v2.0h-2.0zM376.6,356.4h2.0v2.0h-2.0zM397.4,358.0h2.0v2.0h-2.0zM400.6,358.0h2.0v2.0h-2.0zM375.0,359.6h2.0v2.0h-2.0zM395.8,359.6h2.0v2.0h-2.0zM367.0,361.2h2.0v2.0h-2.0zM370.2,361.2h2.0v2.0h-2.0zM400.6,361.2h3.6v2.0h-3.6zM363.8,362.8h3.6v2.0h-3.6zM370.2,362.8h2.0v2.0h-2.0zM360.6,364.4h2.0v2.0h-2.0zM362.2,366.0h2.0v2.0h-2.0zM400.6,366.0h2.0v2.0h-2.0zM403.8,366.0h2.0v2.0h-2.0zM363.8,367.6h3.6v2.0h-3.6zM395.8,367.6h2.0v2.0h-2.0zM370.2,369.2h2.0v2.0h-2.0zM386.2,370.8h2.0v2.0h-2.0zM391.0,370.8h3.6v2.0h-3.6zM376.6,372.4h2.0v2.0h-2.0zM389.4,372.4h2.0v2.0h-2.0zM392.6,372.4h3.6v2.0h-3.6zM371.8,374.1h3.6v2.0h-3.6zM395.8,374.1h2.0v2.0h-2.0zM399.0,374.1h2.0v2.0h-2.0zM367.0,375.7h2.0v2.0h-2.0zM391.0,375.7h2.0v2.0h-2.0zM403.8,375.7h2.0v2.0h-2.0zM394.2,377.3h2.0v2.0h-2.0zM362.2,378.9h2.0v2.0h-2.0zM370.2,378.9h2.0v2.0h-2.0zM395.8,378.9h2.0v2.0h-2.0zM399.0,378.9h2.0v2.0h-2.0zM402.2,378.9h2.0v2.0h-2.0zM357.4,380.5h2.0v2.0h-2.0zM403.8,380.5h2.0v2.0h-2.0zM357.4,382.1h2.0v2.0h-2.0zM370.2,382.1h2.0v2.0h-2.0z" fill="#128a42"/>
<path d="M432.6,239.4h2.0v2.0h-2.0zM447.0,239.4h2.0v2.0h-2.0zM429.4,241.0h2.0v2.0h-2.0zM434.2,241.0h2.0v2.0h-2.0zM440.6,242.6h2.0v2.0h-2.0zM437.4,265.0h2.0v2.0h-2.0zM443.8,268.3h2.0v2.0h-2.0zM429.4,269.9h2.0v2.0h-2.0zM450.2,269.9h2.0v2.0h-2.0zM426.2,271.5h2.0v2.0h-2.0zM440.6,274.7h2.0v2.0h-2.0zM421.4,276.3h2.0v2.0h-2.0zM419.8,279.5h2.0v2.0h-2.0zM431.0,281.1h2.0v2.0h-2.0zM439.0,290.7h2.0v2.0h-2.0zM426.2,293.9h2.0v2.0h-2.0zM424.6,295.5h2.0v2.0h-2.0zM432.6,303.5h2.0v2.0h-2.0zM371.8,316.3h2.0v2.0h-2.0zM386.2,316.3h2.0v2.0h-2.0zM391.0,316.3h2.0v2.0h-2.0zM381.4,317.9h3.6v2.0h-3.6zM387.8,317.9h2.0v2.0h-2.0zM371.8,322.8h2.0v2.0h-2.0zM381.4,322.8h2.0v2.0h-2.0zM386.2,322.8h2.0v2.0h-2.0zM387.8,327.6h2.0v2.0h-2.0zM400.6,332.4h2.0v2.0h-2.0zM357.4,334.0h3.6v2.0h-3.6zM367.0,334.0h2.0v2.0h-2.0zM392.6,334.0h2.0v2.0h-2.0zM403.8,334.0h2.0v2.0h-2.0zM378.2,335.6h2.0v2.0h-2.0zM391.0,335.6h2.0v2.0h-2.0zM397.4,337.2h2.0v2.0h-2.0zM373.4,340.4h2.0v2.0h-2.0zM375.0,342.0h2.0v2.0h-2.0zM383.0,342.0h2.0v2.0h-2.0zM392.6,342.0h2.0v2.0h-2.0zM387.8,343.6h2.0v2.0h-2.0zM394.2,343.6h2.0v2.0h-2.0zM399.0,343.6h2.0v2.0h-2.0zM392.6,345.2h2.0v2.0h-2.0zM391.0,346.8h2.0v2.0h-2.0zM394.2,348.4h2.0v2.0h-2.0zM384.6,351.6h2.0v2.0h-2.0zM367.0,354.8h2.0v2.0h-2.0zM371.8,354.8h2.0v2.0h-2.0zM383.0,354.8h2.0v2.0h-2.0zM389.4,354.8h2.0v2.0h-2.0zM371.8,356.4h2.0v2.0h-2.0zM378.2,356.4h2.0v2.0h-2.0zM381.4,356.4h2.0v2.0h-2.0zM386.2,358.0h2.0v2.0h-2.0zM391.0,358.0h2.0v2.0h-2.0zM383.0,361.2h2.0v2.0h-2.0zM373.4,362.8h2.0v2.0h-2.0zM399.0,364.4h2.0v2.0h-2.0zM394.2,366.0h2.0v2.0h-2.0zM402.2,366.0h2.0v2.0h-2.0zM389.4,367.6h2.0v2.0h-2.0zM402.2,367.6h2.0v2.0h-2.0zM362.2,369.2h2.0v2.0h-2.0zM402.2,369.2h2.0v2.0h-2.0zM395.8,370.8h2.0v2.0h-2.0zM376.6,375.7h2.0v2.0h-2.0zM383.0,377.3h2.0v2.0h-2.0zM368.6,378.9h2.0v2.0h-2.0zM391.0,378.9h2.0v2.0h-2.0zM392.6,380.5h2.0v2.0h-2.0zM395.8,382.1h2.0v2.0h-2.0z" fill="#067242"/>
<path d="M434.2,239.4h2.0v2.0h-2.0zM431.0,241.0h2.0v2.0h-2.0zM437.4,241.0h2.0v2.0h-2.0zM429.4,242.6h2.0v2.0h-2.0zM437.4,242.6h2.0v2.0h-2.0zM427.8,244.2h2.0v2.0h-2.0zM434.2,244.2h2.0v2.0h-2.0zM447.0,252.2h2.0v2.0h-2.0zM432.6,253.8h2.0v2.0h-2.0zM443.8,265.0h2.0v2.0h-2.0zM448.6,265.0h2.0v2.0h-2.0zM434.2,266.7h2.0v2.0h-2.0zM443.8,266.7h2.0v2.0h-2.0zM447.0,266.7h2.0v2.0h-2.0zM435.8,268.3h2.0v2.0h-2.0zM416.6,269.9h3.6v2.0h-3.6zM424.6,269.9h5.2v2.0h-5.2zM431.0,269.9h8.4v2.0h-8.4zM440.6,269.9h2.0v2.0h-2.0zM443.8,269.9h6.8v2.0h-6.8zM451.8,269.9h2.0v2.0h-2.0zM418.2,271.5h2.0v2.0h-2.0zM424.6,271.5h2.0v2.0h-2.0zM431.0,271.5h8.4v2.0h-8.4zM443.8,271.5h6.8v2.0h-6.8zM451.8,271.5h3.6v2.0h-3.6zM418.2,273.1h2.0v2.0h-2.0zM424.6,273.1h3.6v2.0h-3.6zM429.4,273.1h11.6v2.0h-11.6zM443.8,273.1h11.6v2.0h-11.6zM416.6,274.7h3.6v2.0h-3.6zM424.6,274.7h14.8v2.0h-14.8zM443.8,274.7h6.8v2.0h-6.8zM451.8,274.7h3.6v2.0h-3.6zM416.6,276.3h5.2v2.0h-5.2zM423.0,276.3h32.4v2.0h-32.4zM416.6,277.9h38.8v2.0h-38.8zM416.6,279.5h3.6v2.0h-3.6zM424.6,279.5h6.8v2.0h-6.8zM432.6,279.5h6.8v2.0h-6.8zM443.8,279.5h6.8v2.0h-6.8zM451.8,279.5h3.6v2.0h-3.6zM416.6,281.1h3.6v2.0h-3.6zM421.4,281.1h2.0v2.0h-2.0zM424.6,281.1h6.8v2.0h-6.8zM432.6,281.1h6.8v2.0h-6.8zM443.8,281.1h8.4v2.0h-8.4zM418.2,282.7h2.0v2.0h-2.0zM426.2,282.7h2.0v2.0h-2.0zM432.6,282.7h3.6v2.0h-3.6zM437.4,282.7h2.0v2.0h-2.0zM426.2,284.3h3.6v2.0h-3.6zM432.6,284.3h6.8v2.0h-6.8zM443.8,284.3h2.0v2.0h-2.0zM448.6,284.3h2.0v2.0h-2.0zM416.6,285.9h3.6v2.0h-3.6zM421.4,285.9h34.0v2.0h-34.0zM416.6,287.5h5.2v2.0h-5.2zM423.0,287.5h32.4v2.0h-32.4zM416.6,289.1h38.8v2.0h-38.8zM416.6,290.7h22.8v2.0h-22.8zM440.6,290.7h2.0v2.0h-2.0zM443.8,290.7h11.6v2.0h-11.6zM413.4,292.3h2.0v2.0h-2.0zM416.6,292.3h38.8v2.0h-38.8zM416.6,293.9h3.6v2.0h-3.6zM424.6,293.9h2.0v2.0h-2.0zM427.8,293.9h3.6v2.0h-3.6zM432.6,293.9h6.8v2.0h-6.8zM443.8,293.9h5.2v2.0h-5.2zM418.2,295.5h2.0v2.0h-2.0zM426.2,295.5h13.2v2.0h-13.2zM443.8,295.5h6.8v2.0h-6.8zM451.8,295.5h3.6v2.0h-3.6zM434.2,303.5h2.0v2.0h-2.0zM376.6,316.3h2.0v2.0h-2.0zM383.0,316.3h3.6v2.0h-3.6zM387.8,316.3h2.0v2.0h-2.0zM371.8,317.9h2.0v2.0h-2.0zM386.2,317.9h2.0v2.0h-2.0zM395.8,317.9h2.0v2.0h-2.0zM373.4,319.6h2.0v2.0h-2.0zM378.2,319.6h2.0v2.0h-2.0zM384.6,319.6h2.0v2.0h-2.0zM387.8,319.6h2.0v2.0h-2.0zM394.2,319.6h2.0v2.0h-2.0zM378.2,321.2h2.0v2.0h-2.0zM381.4,321.2h2.0v2.0h-2.0zM384.6,321.2h5.2v2.0h-5.2zM378.2,322.8h3.6v2.0h-3.6zM384.6,322.8h2.0v2.0h-2.0zM387.8,322.8h2.0v2.0h-2.0zM395.8,322.8h2.0v2.0h-2.0zM371.8,324.4h2.0v2.0h-2.0zM378.2,324.4h3.6v2.0h-3.6zM384.6,324.4h2.0v2.0h-2.0zM387.8,324.4h2.0v2.0h-2.0zM379.8,326.0h2.0v2.0h-2.0zM384.6,326.0h2.0v2.0h-2.0zM381.4,327.6h2.0v2.0h-2.0zM389.4,329.2h2.0v2.0h-2.0zM371.8,330.8h2.0v2.0h-2.0zM379.8,330.8h6.8v2.0h-6.8zM367.0,332.4h2.0v2.0h-2.0zM370.2,332.4h30.8v2.0h-30.8zM371.8,334.0h21.2v2.0h-21.2zM394.2,334.0h6.8v2.0h-6.8zM371.8,335.6h3.6v2.0h-3.6zM376.6,335.6h2.0v2.0h-2.0zM379.8,335.6h10.0v2.0h-10.0zM392.6,335.6h5.2v2.0h-5.2zM399.0,335.6h2.0v2.0h-2.0zM371.8,337.2h3.6v2.0h-3.6zM376.6,337.2h14.8v2.0h-14.8zM399.0,337.2h2.0v2.0h-2.0zM371.8,338.8h3.6v2.0h-3.6zM376.6,338.8h10.0v2.0h-10.0zM387.8,338.8h2.0v2.0h-2.0zM391.0,338.8h5.2v2.0h-5.2zM371.8,340.4h2.0v2.0h-2.0zM375.0,340.4h2.0v2.0h-2.0zM378.2,340.4h13.2v2.0h-13.2zM392.6,340.4h5.2v2.0h-5.2zM371.8,342.0h3.6v2.0h-3.6zM376.6,342.0h6.8v2.0h-6.8zM384.6,342.0h5.2v2.0h-5.2zM391.0,342.0h2.0v2.0h-2.0zM394.2,342.0h3.6v2.0h-3.6zM371.8,343.6h5.2v2.0h-5.2zM378.2,343.6h8.4v2.0h-8.4zM389.4,343.6h2.0v2.0h-2.0zM392.6,343.6h2.0v2.0h-2.0zM395.8,343.6h3.6v2.0h-3.6zM371.8,345.2h21.2v2.0h-21.2zM394.2,345.2h2.0v2.0h-2.0zM399.0,345.2h2.0v2.0h-2.0zM402.2,345.2h2.0v2.0h-2.0zM371.8,346.8h2.0v2.0h-2.0zM381.4,346.8h2.0v2.0h-2.0zM386.2,346.8h5.2v2.0h-5.2zM392.6,346.8h2.0v2.0h-2.0zM371.8,348.4h3.6v2.0h-3.6zM378.2,348.4h5.2v2.0h-5.2zM384.6,348.4h8.4v2.0h-8.4zM379.8,350.0h2.0v2.0h-2.0zM386.2,350.0h3.6v2.0h-3.6zM379.8,351.6h2.0v2.0h-2.0zM383.0,351.6h2.0v2.0h-2.0zM386.2,351.6h2.0v2.0h-2.0zM391.0,351.6h2.0v2.0h-2.0zM381.4,353.2h2.0v2.0h-2.0zM384.6,353.2h2.0v2.0h-2.0zM378.2,354.8h3.6v2.0h-3.6zM384.6,354.8h2.0v2.0h-2.0zM383.0,356.4h2.0v2.0h-2.0zM387.8,356.4h2.0v2.0h-2.0zM371.8,358.0h2.0v2.0h-2.0zM378.2,358.0h3.6v2.0h-3.6zM383.0,358.0h3.6v2.0h-3.6zM387.8,358.0h2.0v2.0h-2.0zM371.8,359.6h2.0v2.0h-2.0zM378.2,359.6h5.2v2.0h-5.2zM384.6,359.6h3.6v2.0h-3.6zM394.2,359.6h2.0v2.0h-2.0zM371.8,361.2h11.6v2.0h-11.6zM384.6,361.2h5.2v2.0h-5.2zM391.0,361.2h3.6v2.0h-3.6zM403.8,361.2h2.0v2.0h-2.0zM371.8,362.8h2.0v2.0h-2.0zM375.0,362.8h27.6v2.0h-27.6zM371.8,364.4h2.0v2.0h-2.0zM375.0,364.4h2.0v2.0h-2.0zM378.2,364.4h21.2v2.0h-21.2zM370.2,366.0h3.6v2.0h-3.6zM375.0,366.0h2.0v2.0h-2.0zM378.2,366.0h16.4v2.0h-16.4zM395.8,366.0h3.6v2.0h-3.6zM371.8,367.6h2.0v2.0h-2.0zM375.0,367.6h14.8v2.0h-14.8zM391.0,367.6h5.2v2.0h-5.2zM397.4,367.6h3.6v2.0h-3.6zM373.4,369.2h2.0v2.0h-2.0zM378.2,369.2h22.8v2.0h-22.8zM379.8,370.8h2.0v2.0h-2.0zM384.6,370.8h2.0v2.0h-2.0zM379.8,372.4h2.0v2.0h-2.0zM383.0,372.4h2.0v2.0h-2.0zM387.8,372.4h2.0v2.0h-2.0zM397.4,372.4h2.0v2.0h-2.0zM378.2,374.1h2.0v2.0h-2.0zM383.0,374.1h2.0v2.0h-2.0zM360.6,375.7h2.0v2.0h-2.0zM371.8,375.7h5.2v2.0h-5.2zM378.2,375.7h13.2v2.0h-13.2zM392.6,375.7h5.2v2.0h-5.2zM399.0,375.7h2.0v2.0h-2.0zM371.8,377.3h11.6v2.0h-11.6zM384.6,377.3h6.8v2.0h-6.8zM392.6,377.3h2.0v2.0h-2.0zM395.8,377.3h2.0v2.0h-2.0zM371.8,378.9h19.6v2.0h-19.6zM394.2,378.9h2.0v2.0h-2.0zM371.8,380.5h2.0v2.0h-2.0zM376.6,380.5h13.2v2.0h-13.2zM391.0,380.5h2.0v2.0h-2.0zM397.4,380.5h2.0v2.0h-2.0zM400.6,380.5h2.0v2.0h-2.0zM371.8,382.1h2.0v2.0h-2.0zM376.6,382.1h14.8v2.0h-14.8zM392.6,382.1h2.0v2.0h-2.0zM397.4,382.1h3.6v2.0h-3.6z" fill="#067236"/>
<path d="M351.0,241.0h2.0v2.0h-2.0zM386.2,241.0h2.0v2.0h-2.0zM391.0,241.0h2.0v2.0h-2.0zM394.2,241.0h3.6v2.0h-3.6zM381.4,242.6h2.0v2.0h-2.0zM387.8,242.6h3.6v2.0h-3.6zM354.2,244.2h3.6v2.0h-3.6zM389.4,244.2h3.6v2.0h-3.6zM354.2,245.8h2.0v2.0h-2.0zM357.4,245.8h2.0v2.0h-2.0zM367.0,245.8h2.0v2.0h-2.0zM370.2,245.8h2.0v2.0h-2.0zM384.6,245.8h2.0v2.0h-2.0zM349.4,247.4h2.0v2.0h-2.0zM362.2,247.4h2.0v2.0h-2.0zM354.2,249.0h2.0v2.0h-2.0zM384.6,249.0h6.8v2.0h-6.8zM395.8,249.0h2.0v2.0h-2.0zM349.4,250.6h2.0v2.0h-2.0zM384.6,250.6h3.6v2.0h-3.6zM351.0,252.2h2.0v2.0h-2.0zM354.2,252.2h2.0v2.0h-2.0zM384.6,252.2h2.0v2.0h-2.0zM387.8,252.2h2.0v2.0h-2.0zM392.6,252.2h3.6v2.0h-3.6zM397.4,252.2h2.0v2.0h-2.0zM354.2,253.8h2.0v2.0h-2.0zM384.6,253.8h3.6v2.0h-3.6zM389.4,253.8h5.2v2.0h-5.2zM351.0,255.4h2.0v2.0h-2.0zM354.2,255.4h2.0v2.0h-2.0zM367.0,255.4h2.0v2.0h-2.0zM370.2,255.4h2.0v2.0h-2.0zM384.6,255.4h2.0v2.0h-2.0zM389.4,255.4h2.0v2.0h-2.0zM392.6,255.4h2.0v2.0h-2.0zM349.4,257.0h2.0v2.0h-2.0zM367.0,257.0h2.0v2.0h-2.0zM370.2,257.0h2.0v2.0h-2.0zM384.6,257.0h2.0v2.0h-2.0zM351.0,258.6h2.0v2.0h-2.0zM357.4,258.6h3.6v2.0h-3.6zM363.8,258.6h2.0v2.0h-2.0zM386.2,258.6h2.0v2.0h-2.0zM349.4,260.2h2.0v2.0h-2.0zM352.6,260.2h2.0v2.0h-2.0zM365.4,260.2h2.0v2.0h-2.0zM370.2,260.2h2.0v2.0h-2.0zM384.6,260.2h3.6v2.0h-3.6zM391.0,260.2h2.0v2.0h-2.0zM362.2,261.8h2.0v2.0h-2.0zM370.2,261.8h2.0v2.0h-2.0zM357.4,263.4h2.0v2.0h-2.0zM368.6,263.4h2.0v2.0h-2.0zM360.6,265.0h2.0v2.0h-2.0zM370.2,265.0h2.0v2.0h-2.0zM368.6,266.7h3.6v2.0h-3.6zM352.6,268.3h2.0v2.0h-2.0zM357.4,268.3h3.6v2.0h-3.6zM362.2,268.3h2.0v2.0h-2.0zM367.0,268.3h2.0v2.0h-2.0zM357.4,276.3h2.0v2.0h-2.0zM362.2,276.3h2.0v2.0h-2.0zM357.4,277.9h2.0v2.0h-2.0zM360.6,285.9h2.0v2.0h-2.0zM370.2,285.9h2.0v2.0h-2.0zM363.8,287.5h6.8v2.0h-6.8zM354.2,289.1h2.0v2.0h-2.0zM359.0,289.1h2.0v2.0h-2.0zM363.8,289.1h3.6v2.0h-3.6zM368.6,289.1h2.0v2.0h-2.0zM359.0,290.7h2.0v2.0h-2.0zM362.2,290.7h2.0v2.0h-2.0zM394.2,290.7h2.0v2.0h-2.0zM349.4,292.3h2.0v2.0h-2.0zM357.4,292.3h3.6v2.0h-3.6zM362.2,292.3h2.0v2.0h-2.0zM389.4,297.1h3.6v2.0h-3.6zM397.4,297.1h2.0v2.0h-2.0zM384.6,298.7h2.0v2.0h-2.0zM397.4,298.7h3.6v2.0h-3.6zM391.0,300.3h5.2v2.0h-5.2zM399.0,300.3h2.0v2.0h-2.0zM400.6,301.9h2.0v2.0h-2.0zM403.8,301.9h2.0v2.0h-2.0zM391.0,303.5h2.0v2.0h-2.0zM397.4,303.5h2.0v2.0h-2.0zM392.6,305.1h2.0v2.0h-2.0zM395.8,305.1h2.0v2.0h-2.0zM397.4,306.7h3.6v2.0h-3.6zM392.6,309.9h2.0v2.0h-2.0zM389.4,311.5h3.6v2.0h-3.6zM384.6,313.1h2.0v2.0h-2.0zM395.8,313.1h2.0v2.0h-2.0zM395.8,314.7h2.0v2.0h-2.0zM399.0,314.7h2.0v2.0h-2.0zM416.6,316.3h3.6v2.0h-3.6zM410.2,322.8h2.0v2.0h-2.0zM408.6,324.4h2.0v2.0h-2.0zM415.0,329.2h2.0v2.0h-2.0zM408.6,332.4h3.6v2.0h-3.6zM413.4,337.2h2.0v2.0h-2.0zM413.4,338.8h2.0v2.0h-2.0zM418.2,342.0h2.0v2.0h-2.0zM410.2,346.8h2.0v2.0h-2.0zM405.4,348.4h2.0v2.0h-2.0zM408.6,348.4h2.0v2.0h-2.0zM408.6,350.0h2.0v2.0h-2.0zM405.4,351.6h2.0v2.0h-2.0zM408.6,351.6h2.0v2.0h-2.0zM407.0,354.8h3.6v2.0h-3.6zM435.8,354.8h2.0v2.0h-2.0zM451.8,354.8h2.0v2.0h-2.0zM408.6,356.4h3.6v2.0h-3.6zM408.6,358.0h2.0v2.0h-2.0zM453.4,359.6h2.0v2.0h-2.0zM410.2,362.8h2.0v2.0h-2.0zM408.6,364.4h2.0v2.0h-2.0zM410.2,366.0h2.0v2.0h-2.0zM410.2,367.6h2.0v2.0h-2.0zM411.8,370.8h2.0v2.0h-2.0zM416.6,370.8h3.6v2.0h-3.6zM411.8,372.4h2.0v2.0h-2.0zM418.2,372.4h2.0v2.0h-2.0zM415.0,374.1h3.6v2.0h-3.6zM413.4,377.3h2.0v2.0h-2.0zM413.4,380.5h2.0v2.0h-2.0zM421.4,383.7h2.0v2.0h-2.0zM437.4,383.7h3.6v2.0h-3.6zM423.0,385.3h3.6v2.0h-3.6zM431.0,385.3h2.0v2.0h-2.0zM435.8,385.3h2.0v2.0h-2.0zM440.6,385.3h2.0v2.0h-2.0zM450.2,385.3h2.0v2.0h-2.0zM442.2,386.9h2.0v2.0h-2.0zM426.2,388.5h2.0v2.0h-2.0zM431.0,388.5h2.0v2.0h-2.0zM442.2,388.5h2.0v2.0h-2.0zM445.4,388.5h2.0v2.0h-2.0zM450.2,388.5h2.0v2.0h-2.0zM424.6,390.1h2.0v2.0h-2.0zM427.8,390.1h2.0v2.0h-2.0zM431.0,390.1h2.0v2.0h-2.0zM439.0,390.1h2.0v2.0h-2.0zM447.0,390.1h2.0v2.0h-2.0zM450.2,390.1h2.0v2.0h-2.0zM405.4,391.7h2.0v2.0h-2.0zM424.6,391.7h2.0v2.0h-2.0zM431.0,391.7h2.0v2.0h-2.0zM405.4,393.3h2.0v2.0h-2.0zM421.4,393.3h2.0v2.0h-2.0zM443.8,393.3h2.0v2.0h-2.0zM443.8,394.9h2.0v2.0h-2.0zM407.0,396.5h2.0v2.0h-2.0zM427.8,396.5h2.0v2.0h-2.0zM434.2,396.5h2.0v2.0h-2.0zM437.4,396.5h2.0v2.0h-2.0zM445.4,396.5h5.2v2.0h-5.2zM405.4,398.1h2.0v2.0h-2.0zM432.6,398.1h5.2v2.0h-5.2zM445.4,398.1h2.0v2.0h-2.0zM448.6,398.1h2.0v2.0h-2.0z" fill="#ea4e36"/>
<path d="M367.0,241.0h2.0v2.0h-2.0zM370.2,242.6h2.0v2.0h-2.0zM386.2,242.6h2.0v2.0h-2.0zM362.2,249.0h3.6v2.0h-3.6zM357.4,250.6h2.0v2.0h-2.0zM357.4,252.2h2.0v2.0h-2.0zM365.4,252.2h2.0v2.0h-2.0zM370.2,253.8h2.0v2.0h-2.0zM357.4,255.4h2.0v2.0h-2.0zM363.8,257.0h2.0v2.0h-2.0zM368.6,257.0h2.0v2.0h-2.0zM357.4,260.2h2.0v2.0h-2.0zM386.2,297.1h2.0v2.0h-2.0zM384.6,300.3h2.0v2.0h-2.0zM399.0,301.9h2.0v2.0h-2.0zM394.2,303.5h2.0v2.0h-2.0zM384.6,306.7h3.6v2.0h-3.6zM387.8,308.3h3.6v2.0h-3.6zM392.6,308.3h2.0v2.0h-2.0zM395.8,308.3h2.0v2.0h-2.0zM395.8,309.9h2.0v2.0h-2.0zM413.4,316.3h2.0v2.0h-2.0zM411.8,319.6h3.6v2.0h-3.6zM416.6,327.6h3.6v2.0h-3.6zM411.8,337.2h2.0v2.0h-2.0zM411.8,340.4h2.0v2.0h-2.0zM416.6,340.4h3.6v2.0h-3.6zM413.4,343.6h2.0v2.0h-2.0zM411.8,345.2h2.0v2.0h-2.0zM408.6,346.8h2.0v2.0h-2.0zM413.4,353.2h2.0v2.0h-2.0zM416.6,353.2h3.6v2.0h-3.6zM415.0,354.8h2.0v2.0h-2.0zM413.4,356.4h2.0v2.0h-2.0zM411.8,361.2h2.0v2.0h-2.0zM413.4,364.4h2.0v2.0h-2.0zM413.4,367.6h2.0v2.0h-2.0zM416.6,369.2h2.0v2.0h-2.0zM418.2,378.9h2.0v2.0h-2.0zM411.8,380.5h2.0v2.0h-2.0zM411.8,382.1h2.0v2.0h-2.0zM418.2,382.1h2.0v2.0h-2.0zM435.8,383.7h2.0v2.0h-2.0zM451.8,383.7h3.6v2.0h-3.6zM432.6,386.9h2.0v2.0h-2.0zM448.6,386.9h2.0v2.0h-2.0zM451.8,386.9h2.0v2.0h-2.0zM407.0,388.5h2.0v2.0h-2.0zM437.4,388.5h2.0v2.0h-2.0zM453.4,388.5h2.0v2.0h-2.0zM407.0,391.7h2.0v2.0h-2.0zM447.0,391.7h2.0v2.0h-2.0zM434.2,393.3h2.0v2.0h-2.0zM405.4,394.9h2.0v2.0h-2.0zM437.4,394.9h2.0v2.0h-2.0zM410.2,398.1h2.0v2.0h-2.0zM415.0,398.1h2.0v2.0h-2.0z" fill="#f67242"/>
<path d="M371.8,241.0h2.0v2.0h-2.0zM375.0,241.0h2.0v2.0h-2.0zM381.4,241.0h2.0v2.0h-2.0zM355.8,242.6h2.0v2.0h-2.0zM371.8,242.6h2.0v2.0h-2.0zM375.0,242.6h3.6v2.0h-3.6zM383.0,242.6h2.0v2.0h-2.0zM397.4,242.6h2.0v2.0h-2.0zM378.2,244.2h2.0v2.0h-2.0zM383.0,244.2h2.0v2.0h-2.0zM351.0,245.8h2.0v2.0h-2.0zM355.8,245.8h2.0v2.0h-2.0zM381.4,245.8h2.0v2.0h-2.0zM391.0,245.8h2.0v2.0h-2.0zM381.4,247.4h2.0v2.0h-2.0zM392.6,247.4h2.0v2.0h-2.0zM395.8,247.4h2.0v2.0h-2.0zM399.0,247.4h2.0v2.0h-2.0zM381.4,249.0h2.0v2.0h-2.0zM397.4,249.0h3.6v2.0h-3.6zM371.8,250.6h2.0v2.0h-2.0zM389.4,250.6h2.0v2.0h-2.0zM394.2,250.6h5.2v2.0h-5.2zM355.8,252.2h2.0v2.0h-2.0zM376.6,252.2h2.0v2.0h-2.0zM389.4,252.2h3.6v2.0h-3.6zM399.0,252.2h2.0v2.0h-2.0zM373.4,253.8h2.0v2.0h-2.0zM378.2,253.8h2.0v2.0h-2.0zM397.4,253.8h2.0v2.0h-2.0zM397.4,255.4h2.0v2.0h-2.0zM351.0,257.0h2.0v2.0h-2.0zM386.2,257.0h2.0v2.0h-2.0zM391.0,257.0h2.0v2.0h-2.0zM394.2,257.0h2.0v2.0h-2.0zM354.2,258.6h2.0v2.0h-2.0zM370.2,258.6h2.0v2.0h-2.0zM392.6,258.6h2.0v2.0h-2.0zM383.0,260.2h2.0v2.0h-2.0zM389.4,260.2h2.0v2.0h-2.0zM394.2,260.2h3.6v2.0h-3.6zM352.6,261.8h2.0v2.0h-2.0zM394.2,261.8h3.6v2.0h-3.6zM349.4,263.4h2.0v2.0h-2.0zM359.0,263.4h2.0v2.0h-2.0zM365.4,263.4h2.0v2.0h-2.0zM389.4,263.4h2.0v2.0h-2.0zM349.4,265.0h6.8v2.0h-6.8zM384.6,265.0h2.0v2.0h-2.0zM349.4,266.7h3.6v2.0h-3.6zM354.2,266.7h2.0v2.0h-2.0zM367.0,266.7h2.0v2.0h-2.0zM387.8,266.7h2.0v2.0h-2.0zM394.2,266.7h2.0v2.0h-2.0zM349.4,268.3h3.6v2.0h-3.6zM360.6,268.3h2.0v2.0h-2.0zM395.8,268.3h2.0v2.0h-2.0zM362.2,269.9h2.0v2.0h-2.0zM367.0,269.9h2.0v2.0h-2.0zM349.4,271.5h2.0v2.0h-2.0zM370.2,271.5h2.0v2.0h-2.0zM368.6,273.1h2.0v2.0h-2.0zM359.0,274.7h2.0v2.0h-2.0zM365.4,274.7h2.0v2.0h-2.0zM370.2,274.7h2.0v2.0h-2.0zM349.4,276.3h2.0v2.0h-2.0zM359.0,276.3h3.6v2.0h-3.6zM392.6,276.3h2.0v2.0h-2.0zM354.2,277.9h2.0v2.0h-2.0zM360.6,277.9h2.0v2.0h-2.0zM357.4,279.5h3.6v2.0h-3.6zM367.0,279.5h2.0v2.0h-2.0zM362.2,281.1h2.0v2.0h-2.0zM365.4,281.1h2.0v2.0h-2.0zM368.6,281.1h2.0v2.0h-2.0zM357.4,282.7h2.0v2.0h-2.0zM349.4,285.9h3.6v2.0h-3.6zM357.4,285.9h2.0v2.0h-2.0zM368.6,285.9h2.0v2.0h-2.0zM386.2,285.9h3.6v2.0h-3.6zM362.2,287.5h2.0v2.0h-2.0zM387.8,287.5h2.0v2.0h-2.0zM355.8,289.1h2.0v2.0h-2.0zM387.8,289.1h2.0v2.0h-2.0zM392.6,289.1h2.0v2.0h-2.0zM367.0,290.7h2.0v2.0h-2.0zM351.0,292.3h2.0v2.0h-2.0zM359.0,293.9h2.0v2.0h-2.0zM363.8,293.9h2.0v2.0h-2.0zM370.2,293.9h2.0v2.0h-2.0zM352.6,295.5h2.0v2.0h-2.0zM357.4,295.5h3.6v2.0h-3.6zM381.4,297.1h3.6v2.0h-3.6zM399.0,297.1h2.0v2.0h-2.0zM402.2,297.1h2.0v2.0h-2.0zM371.8,298.7h2.0v2.0h-2.0zM402.2,298.7h2.0v2.0h-2.0zM378.2,301.9h2.0v2.0h-2.0zM383.0,301.9h2.0v2.0h-2.0zM402.2,301.9h2.0v2.0h-2.0zM379.8,303.5h2.0v2.0h-2.0zM383.0,303.5h2.0v2.0h-2.0zM400.6,303.5h3.6v2.0h-3.6zM371.8,305.1h2.0v2.0h-2.0zM379.8,305.1h2.0v2.0h-2.0zM383.0,305.1h2.0v2.0h-2.0zM403.8,305.1h2.0v2.0h-2.0zM379.8,306.7h2.0v2.0h-2.0zM379.8,308.3h2.0v2.0h-2.0zM371.8,309.9h2.0v2.0h-2.0zM378.2,309.9h2.0v2.0h-2.0zM381.4,309.9h3.6v2.0h-3.6zM407.0,316.3h5.2v2.0h-5.2zM453.4,316.3h2.0v2.0h-2.0zM405.4,317.9h2.0v2.0h-2.0zM408.6,317.9h2.0v2.0h-2.0zM407.0,319.6h2.0v2.0h-2.0zM453.4,319.6h2.0v2.0h-2.0zM451.8,321.2h3.6v2.0h-3.6zM451.8,327.6h3.6v2.0h-3.6zM405.4,332.4h2.0v2.0h-2.0zM435.8,332.4h2.0v2.0h-2.0zM405.4,334.0h2.0v2.0h-2.0zM451.8,334.0h2.0v2.0h-2.0zM408.6,335.6h3.6v2.0h-3.6zM408.6,337.2h3.6v2.0h-3.6zM453.4,337.2h2.0v2.0h-2.0zM408.6,338.8h3.6v2.0h-3.6zM408.6,340.4h2.0v2.0h-2.0zM408.6,342.0h2.0v2.0h-2.0zM453.4,342.0h2.0v2.0h-2.0zM410.2,343.6h2.0v2.0h-2.0zM451.8,343.6h3.6v2.0h-3.6zM445.4,345.2h2.0v2.0h-2.0zM405.4,346.8h2.0v2.0h-2.0zM432.6,346.8h2.0v2.0h-2.0zM453.4,346.8h2.0v2.0h-2.0zM437.4,348.4h2.0v2.0h-2.0zM443.8,348.4h3.6v2.0h-3.6zM448.6,348.4h2.0v2.0h-2.0zM451.8,348.4h2.0v2.0h-2.0zM407.0,350.0h2.0v2.0h-2.0zM451.8,350.0h2.0v2.0h-2.0zM435.8,353.2h2.0v2.0h-2.0zM451.8,353.2h2.0v2.0h-2.0zM405.4,354.8h2.0v2.0h-2.0zM434.2,354.8h2.0v2.0h-2.0zM447.0,354.8h2.0v2.0h-2.0zM405.4,356.4h3.6v2.0h-3.6zM434.2,356.4h2.0v2.0h-2.0zM443.8,356.4h2.0v2.0h-2.0zM451.8,356.4h2.0v2.0h-2.0zM434.2,358.0h2.0v2.0h-2.0zM451.8,358.0h2.0v2.0h-2.0zM407.0,359.6h2.0v2.0h-2.0zM424.6,359.6h2.0v2.0h-2.0zM432.6,359.6h2.0v2.0h-2.0zM435.8,359.6h2.0v2.0h-2.0zM445.4,359.6h2.0v2.0h-2.0zM451.8,359.6h2.0v2.0h-2.0zM451.8,362.8h2.0v2.0h-2.0zM453.4,364.4h2.0v2.0h-2.0zM407.0,367.6h3.6v2.0h-3.6zM410.2,369.2h2.0v2.0h-2.0zM413.4,370.8h2.0v2.0h-2.0zM410.2,372.4h2.0v2.0h-2.0zM413.4,372.4h2.0v2.0h-2.0zM408.6,375.7h3.6v2.0h-3.6zM451.8,375.7h2.0v2.0h-2.0zM410.2,377.3h2.0v2.0h-2.0zM451.8,377.3h2.0v2.0h-2.0zM408.6,380.5h3.6v2.0h-3.6zM408.6,382.1h3.6v2.0h-3.6zM423.0,383.7h2.0v2.0h-2.0zM442.2,383.7h2.0v2.0h-2.0zM419.8,385.3h2.0v2.0h-2.0zM439.0,385.3h2.0v2.0h-2.0zM419.8,386.9h2.0v2.0h-2.0zM450.2,386.9h2.0v2.0h-2.0zM421.4,388.5h2.0v2.0h-2.0zM440.6,388.5h2.0v2.0h-2.0zM423.0,390.1h2.0v2.0h-2.0zM442.2,390.1h2.0v2.0h-2.0zM421.4,391.7h3.6v2.0h-3.6zM440.6,391.7h3.6v2.0h-3.6zM450.2,391.7h2.0v2.0h-2.0zM423.0,393.3h2.0v2.0h-2.0zM421.4,394.9h3.6v2.0h-3.6zM426.2,394.9h2.0v2.0h-2.0zM429.4,394.9h2.0v2.0h-2.0zM440.6,394.9h2.0v2.0h-2.0zM426.2,396.5h2.0v2.0h-2.0zM423.0,398.1h2.0v2.0h-2.0zM426.2,398.1h2.0v2.0h-2.0zM431.0,398.1h2.0v2.0h-2.0z" fill="#de362a"/>
<path d="M405.4,241.0h2.0v2.0h-2.0zM408.6,241.0h2.0v2.0h-2.0zM407.0,242.6h2.0v2.0h-2.0zM415.0,242.6h2.0v2.0h-2.0zM407.0,244.2h2.0v2.0h-2.0zM413.4,245.8h2.0v2.0h-2.0zM411.8,247.4h2.0v2.0h-2.0zM423.0,247.4h2.0v2.0h-2.0zM405.4,249.0h2.0v2.0h-2.0zM410.2,250.6h2.0v2.0h-2.0zM410.2,252.2h3.6v2.0h-3.6zM415.0,252.2h2.0v2.0h-2.0zM419.8,252.2h2.0v2.0h-2.0zM411.8,253.8h2.0v2.0h-2.0zM419.8,255.4h2.0v2.0h-2.0zM439.0,255.4h2.0v2.0h-2.0zM408.6,257.0h2.0v2.0h-2.0zM440.6,258.6h2.0v2.0h-2.0zM416.6,261.8h2.0v2.0h-2.0zM419.8,261.8h2.0v2.0h-2.0zM440.6,261.8h2.0v2.0h-2.0zM418.2,263.4h3.6v2.0h-3.6zM423.0,263.4h2.0v2.0h-2.0zM408.6,265.0h2.0v2.0h-2.0zM410.2,266.7h6.8v2.0h-6.8zM405.4,268.3h2.0v2.0h-2.0zM408.6,268.3h3.6v2.0h-3.6zM405.4,282.7h2.0v2.0h-2.0zM407.0,284.3h2.0v2.0h-2.0zM421.4,297.1h3.6v2.0h-3.6zM427.8,297.1h2.0v2.0h-2.0zM442.2,297.1h2.0v2.0h-2.0zM451.8,297.1h2.0v2.0h-2.0zM419.8,298.7h2.0v2.0h-2.0zM439.0,298.7h3.6v2.0h-3.6zM423.0,300.3h2.0v2.0h-2.0zM440.6,300.3h3.6v2.0h-3.6zM451.8,300.3h2.0v2.0h-2.0zM440.6,301.9h2.0v2.0h-2.0zM423.0,303.5h2.0v2.0h-2.0zM421.4,311.5h2.0v2.0h-2.0zM439.0,311.5h2.0v2.0h-2.0zM423.0,313.1h2.0v2.0h-2.0zM450.2,313.1h2.0v2.0h-2.0zM453.4,313.1h2.0v2.0h-2.0zM440.6,314.7h2.0v2.0h-2.0zM349.4,317.9h2.0v2.0h-2.0zM352.6,319.6h2.0v2.0h-2.0zM355.8,319.6h2.0v2.0h-2.0zM351.0,321.2h2.0v2.0h-2.0zM355.8,321.2h2.0v2.0h-2.0zM354.2,324.4h3.6v2.0h-3.6zM352.6,327.6h2.0v2.0h-2.0zM349.4,335.6h2.0v2.0h-2.0zM354.2,335.6h2.0v2.0h-2.0zM351.0,337.2h2.0v2.0h-2.0zM355.8,337.2h2.0v2.0h-2.0zM351.0,338.8h3.6v2.0h-3.6zM351.0,340.4h2.0v2.0h-2.0zM349.4,342.0h2.0v2.0h-2.0zM354.2,342.0h2.0v2.0h-2.0zM349.4,343.6h2.0v2.0h-2.0zM351.0,346.8h2.0v2.0h-2.0zM349.4,350.0h2.0v2.0h-2.0zM403.8,351.6h2.0v2.0h-2.0zM354.2,361.2h2.0v2.0h-2.0zM354.2,364.4h2.0v2.0h-2.0zM352.6,366.0h3.6v2.0h-3.6zM354.2,375.7h2.0v2.0h-2.0zM351.0,377.3h2.0v2.0h-2.0zM351.0,378.9h2.0v2.0h-2.0zM354.2,378.9h2.0v2.0h-2.0zM352.6,382.1h2.0v2.0h-2.0zM363.8,383.7h2.0v2.0h-2.0zM383.0,383.7h2.0v2.0h-2.0zM391.0,383.7h2.0v2.0h-2.0zM394.2,383.7h5.2v2.0h-5.2zM359.0,385.3h5.2v2.0h-5.2zM370.2,385.3h2.0v2.0h-2.0zM375.0,385.3h2.0v2.0h-2.0zM379.8,385.3h2.0v2.0h-2.0zM394.2,385.3h2.0v2.0h-2.0zM399.0,385.3h2.0v2.0h-2.0zM359.0,386.9h2.0v2.0h-2.0zM367.0,386.9h2.0v2.0h-2.0zM375.0,386.9h2.0v2.0h-2.0zM392.6,386.9h8.4v2.0h-8.4zM357.4,388.5h2.0v2.0h-2.0zM373.4,388.5h3.6v2.0h-3.6zM389.4,388.5h3.6v2.0h-3.6zM362.2,390.1h2.0v2.0h-2.0zM373.4,390.1h2.0v2.0h-2.0zM391.0,390.1h2.0v2.0h-2.0zM400.6,390.1h2.0v2.0h-2.0zM360.6,391.7h6.8v2.0h-6.8zM391.0,391.7h2.0v2.0h-2.0zM397.4,391.7h2.0v2.0h-2.0zM363.8,393.3h2.0v2.0h-2.0zM370.2,393.3h2.0v2.0h-2.0zM384.6,393.3h2.0v2.0h-2.0zM391.0,393.3h2.0v2.0h-2.0zM395.8,393.3h3.6v2.0h-3.6zM363.8,394.9h2.0v2.0h-2.0zM370.2,394.9h2.0v2.0h-2.0zM384.6,394.9h2.0v2.0h-2.0zM394.2,394.9h3.6v2.0h-3.6zM368.6,396.5h2.0v2.0h-2.0zM371.8,396.5h2.0v2.0h-2.0zM376.6,396.5h2.0v2.0h-2.0zM375.0,398.1h2.0v2.0h-2.0zM378.2,398.1h2.0v2.0h-2.0zM383.0,398.1h2.0v2.0h-2.0zM391.0,398.1h2.0v2.0h-2.0z" fill="#5aba5a"/>
<path d="M407.0,241.0h2.0v2.0h-2.0zM405.4,242.6h2.0v2.0h-2.0zM411.8,244.2h2.0v2.0h-2.0zM440.6,247.4h2.0v2.0h-2.0zM413.4,249.0h2.0v2.0h-2.0zM405.4,250.6h2.0v2.0h-2.0zM405.4,252.2h2.0v2.0h-2.0zM405.4,255.4h2.0v2.0h-2.0zM415.0,255.4h2.0v2.0h-2.0zM421.4,255.4h2.0v2.0h-2.0zM411.8,257.0h3.6v2.0h-3.6zM410.2,258.6h3.6v2.0h-3.6zM415.0,258.6h2.0v2.0h-2.0zM410.2,260.2h2.0v2.0h-2.0zM415.0,260.2h2.0v2.0h-2.0zM421.4,260.2h2.0v2.0h-2.0zM442.2,260.2h2.0v2.0h-2.0zM411.8,261.8h2.0v2.0h-2.0zM439.0,261.8h2.0v2.0h-2.0zM451.8,261.8h2.0v2.0h-2.0zM408.6,263.4h3.6v2.0h-3.6zM415.0,268.3h2.0v2.0h-2.0zM407.0,281.1h2.0v2.0h-2.0zM419.8,311.5h2.0v2.0h-2.0zM421.4,313.1h2.0v2.0h-2.0zM421.4,314.7h2.0v2.0h-2.0zM354.2,316.3h2.0v2.0h-2.0zM351.0,317.9h2.0v2.0h-2.0zM354.2,317.9h3.6v2.0h-3.6zM354.2,321.2h2.0v2.0h-2.0zM352.6,324.4h2.0v2.0h-2.0zM349.4,326.0h2.0v2.0h-2.0zM351.0,329.2h2.0v2.0h-2.0zM355.8,330.8h2.0v2.0h-2.0zM351.0,335.6h2.0v2.0h-2.0zM349.4,340.4h2.0v2.0h-2.0zM355.8,340.4h2.0v2.0h-2.0zM352.6,342.0h2.0v2.0h-2.0zM354.2,348.4h3.6v2.0h-3.6zM349.4,351.6h2.0v2.0h-2.0zM351.0,353.2h2.0v2.0h-2.0zM354.2,354.8h2.0v2.0h-2.0zM351.0,356.4h2.0v2.0h-2.0zM354.2,356.4h2.0v2.0h-2.0zM349.4,358.0h5.2v2.0h-5.2zM349.4,359.6h2.0v2.0h-2.0zM354.2,359.6h2.0v2.0h-2.0zM351.0,369.2h2.0v2.0h-2.0zM354.2,369.2h2.0v2.0h-2.0zM351.0,372.4h2.0v2.0h-2.0zM349.4,377.3h2.0v2.0h-2.0zM359.0,383.7h5.2v2.0h-5.2zM367.0,383.7h2.0v2.0h-2.0zM376.6,383.7h2.0v2.0h-2.0zM357.4,385.3h2.0v2.0h-2.0zM365.4,385.3h2.0v2.0h-2.0zM376.6,385.3h2.0v2.0h-2.0zM360.6,386.9h2.0v2.0h-2.0zM365.4,386.9h2.0v2.0h-2.0zM370.2,386.9h2.0v2.0h-2.0zM373.4,386.9h2.0v2.0h-2.0zM376.6,386.9h2.0v2.0h-2.0zM400.6,386.9h2.0v2.0h-2.0zM359.0,388.5h2.0v2.0h-2.0zM379.8,388.5h2.0v2.0h-2.0zM394.2,388.5h2.0v2.0h-2.0zM359.0,390.1h3.6v2.0h-3.6zM365.4,390.1h3.6v2.0h-3.6zM392.6,390.1h2.0v2.0h-2.0zM395.8,390.1h3.6v2.0h-3.6zM402.2,390.1h3.6v2.0h-3.6zM367.0,391.7h2.0v2.0h-2.0zM399.0,391.7h2.0v2.0h-2.0zM365.4,393.3h2.0v2.0h-2.0zM357.4,394.9h2.0v2.0h-2.0zM362.2,394.9h2.0v2.0h-2.0zM368.6,394.9h2.0v2.0h-2.0zM391.0,394.9h2.0v2.0h-2.0zM399.0,394.9h2.0v2.0h-2.0zM387.8,396.5h2.0v2.0h-2.0zM371.8,398.1h2.0v2.0h-2.0zM379.8,398.1h3.6v2.0h-3.6z" fill="#66ba66"/>
<path d="M411.8,241.0h2.0v2.0h-2.0zM418.2,247.4h2.0v2.0h-2.0zM416.6,249.0h2.0v2.0h-2.0zM419.8,250.6h2.0v2.0h-2.0zM440.6,250.6h2.0v2.0h-2.0zM429.4,252.2h2.0v2.0h-2.0zM442.2,257.0h2.0v2.0h-2.0zM418.2,258.6h2.0v2.0h-2.0zM429.4,260.2h2.0v2.0h-2.0zM431.0,261.8h2.0v2.0h-2.0zM447.0,263.4h2.0v2.0h-2.0zM450.2,265.0h3.6v2.0h-3.6zM419.8,268.3h3.6v2.0h-3.6zM442.2,282.7h2.0v2.0h-2.0zM407.0,289.1h2.0v2.0h-2.0zM408.6,295.5h2.0v2.0h-2.0zM442.2,295.5h2.0v2.0h-2.0zM431.0,300.3h2.0v2.0h-2.0zM451.8,301.9h2.0v2.0h-2.0zM418.2,303.5h2.0v2.0h-2.0zM440.6,303.5h2.0v2.0h-2.0zM429.4,311.5h2.0v2.0h-2.0zM434.2,311.5h2.0v2.0h-2.0zM448.6,313.1h2.0v2.0h-2.0zM431.0,314.7h2.0v2.0h-2.0zM448.6,314.7h2.0v2.0h-2.0zM365.4,316.3h2.0v2.0h-2.0zM363.8,326.0h2.0v2.0h-2.0zM357.4,327.6h3.6v2.0h-3.6zM365.4,327.6h2.0v2.0h-2.0zM368.6,327.6h2.0v2.0h-2.0zM363.8,329.2h2.0v2.0h-2.0zM403.8,329.2h2.0v2.0h-2.0zM367.0,335.6h2.0v2.0h-2.0zM349.4,364.4h2.0v2.0h-2.0zM400.6,370.8h2.0v2.0h-2.0zM370.2,372.4h2.0v2.0h-2.0zM357.4,374.1h2.0v2.0h-2.0zM378.2,383.7h2.0v2.0h-2.0z" fill="#2aa25a"/>
<path d="M432.6,241.0h2.0v2.0h-2.0zM445.4,241.0h2.0v2.0h-2.0zM432.6,242.6h2.0v2.0h-2.0zM447.0,242.6h3.6v2.0h-3.6zM418.2,244.2h2.0v2.0h-2.0zM426.2,244.2h2.0v2.0h-2.0zM432.6,244.2h2.0v2.0h-2.0zM435.8,244.2h3.6v2.0h-3.6zM443.8,244.2h3.6v2.0h-3.6zM443.8,249.0h2.0v2.0h-2.0zM434.2,250.6h3.6v2.0h-3.6zM434.2,252.2h2.0v2.0h-2.0zM426.2,265.0h3.6v2.0h-3.6zM447.0,265.0h2.0v2.0h-2.0zM426.2,266.7h3.6v2.0h-3.6zM435.8,266.7h2.0v2.0h-2.0zM442.2,269.9h2.0v2.0h-2.0zM440.6,271.5h3.6v2.0h-3.6zM450.2,271.5h2.0v2.0h-2.0zM416.6,273.1h2.0v2.0h-2.0zM427.8,273.1h2.0v2.0h-2.0zM440.6,273.1h3.6v2.0h-3.6zM410.2,277.9h3.6v2.0h-3.6zM431.0,279.5h2.0v2.0h-2.0zM423.0,281.1h2.0v2.0h-2.0zM424.6,282.7h2.0v2.0h-2.0zM427.8,282.7h5.2v2.0h-5.2zM443.8,282.7h3.6v2.0h-3.6zM450.2,282.7h2.0v2.0h-2.0zM416.6,284.3h2.0v2.0h-2.0zM424.6,284.3h2.0v2.0h-2.0zM431.0,284.3h2.0v2.0h-2.0zM453.4,284.3h2.0v2.0h-2.0zM421.4,287.5h2.0v2.0h-2.0zM415.0,289.1h2.0v2.0h-2.0zM442.2,290.7h2.0v2.0h-2.0zM431.0,293.9h2.0v2.0h-2.0zM448.6,293.9h2.0v2.0h-2.0zM453.4,293.9h2.0v2.0h-2.0zM416.6,295.5h2.0v2.0h-2.0zM450.2,295.5h2.0v2.0h-2.0zM432.6,308.3h2.0v2.0h-2.0zM435.8,313.1h2.0v2.0h-2.0zM392.6,316.3h2.0v2.0h-2.0zM399.0,316.3h2.0v2.0h-2.0zM379.8,317.9h2.0v2.0h-2.0zM371.8,319.6h2.0v2.0h-2.0zM395.8,319.6h2.0v2.0h-2.0zM371.8,321.2h2.0v2.0h-2.0zM394.2,321.2h2.0v2.0h-2.0zM375.0,324.4h2.0v2.0h-2.0zM367.0,326.0h2.0v2.0h-2.0zM378.2,326.0h2.0v2.0h-2.0zM386.2,326.0h2.0v2.0h-2.0zM371.8,327.6h2.0v2.0h-2.0zM387.8,329.2h2.0v2.0h-2.0zM386.2,330.8h2.0v2.0h-2.0zM391.0,330.8h3.6v2.0h-3.6zM357.4,332.4h2.0v2.0h-2.0zM360.6,332.4h2.0v2.0h-2.0zM365.4,332.4h2.0v2.0h-2.0zM362.2,334.0h2.0v2.0h-2.0zM365.4,334.0h2.0v2.0h-2.0zM368.6,334.0h3.6v2.0h-3.6zM400.6,334.0h2.0v2.0h-2.0zM375.0,335.6h2.0v2.0h-2.0zM389.4,335.6h2.0v2.0h-2.0zM395.8,337.2h2.0v2.0h-2.0zM386.2,338.8h2.0v2.0h-2.0zM395.8,338.8h2.0v2.0h-2.0zM399.0,338.8h2.0v2.0h-2.0zM391.0,340.4h2.0v2.0h-2.0zM397.4,340.4h2.0v2.0h-2.0zM397.4,342.0h2.0v2.0h-2.0zM370.2,343.6h2.0v2.0h-2.0zM376.6,343.6h2.0v2.0h-2.0zM386.2,343.6h2.0v2.0h-2.0zM359.0,345.2h2.0v2.0h-2.0zM362.2,345.2h2.0v2.0h-2.0zM367.0,345.2h3.6v2.0h-3.6zM395.8,345.2h2.0v2.0h-2.0zM378.2,346.8h3.6v2.0h-3.6zM371.8,350.0h2.0v2.0h-2.0zM381.4,350.0h2.0v2.0h-2.0zM373.4,351.6h2.0v2.0h-2.0zM387.8,351.6h2.0v2.0h-2.0zM378.2,353.2h2.0v2.0h-2.0zM386.2,353.2h3.6v2.0h-3.6zM394.2,353.2h2.0v2.0h-2.0zM391.0,354.8h2.0v2.0h-2.0zM397.4,354.8h2.0v2.0h-2.0zM375.0,356.4h2.0v2.0h-2.0zM384.6,356.4h3.6v2.0h-3.6zM391.0,356.4h2.0v2.0h-2.0zM375.0,358.0h2.0v2.0h-2.0zM394.2,358.0h2.0v2.0h-2.0zM365.4,361.2h2.0v2.0h-2.0zM389.4,361.2h2.0v2.0h-2.0zM395.8,361.2h5.2v2.0h-5.2zM362.2,364.4h2.0v2.0h-2.0zM367.0,364.4h2.0v2.0h-2.0zM373.4,364.4h2.0v2.0h-2.0zM376.6,364.4h2.0v2.0h-2.0zM402.2,364.4h2.0v2.0h-2.0zM359.0,366.0h3.6v2.0h-3.6zM367.0,366.0h2.0v2.0h-2.0zM373.4,366.0h2.0v2.0h-2.0zM376.6,366.0h2.0v2.0h-2.0zM399.0,366.0h2.0v2.0h-2.0zM367.0,367.6h2.0v2.0h-2.0zM370.2,367.6h2.0v2.0h-2.0zM373.4,367.6h2.0v2.0h-2.0zM357.4,369.2h3.6v2.0h-3.6zM363.8,369.2h2.0v2.0h-2.0zM371.8,369.2h2.0v2.0h-2.0zM375.0,369.2h3.6v2.0h-3.6zM378.2,370.8h2.0v2.0h-2.0zM381.4,372.4h2.0v2.0h-2.0zM386.2,372.4h2.0v2.0h-2.0zM379.8,374.1h2.0v2.0h-2.0zM394.2,374.1h2.0v2.0h-2.0zM397.4,375.7h2.0v2.0h-2.0zM402.2,375.7h2.0v2.0h-2.0zM357.4,377.3h2.0v2.0h-2.0zM368.6,377.3h2.0v2.0h-2.0zM397.4,377.3h3.6v2.0h-3.6zM367.0,378.9h2.0v2.0h-2.0zM392.6,378.9h2.0v2.0h-2.0zM397.4,378.9h2.0v2.0h-2.0zM400.6,378.9h2.0v2.0h-2.0zM360.6,380.5h2.0v2.0h-2.0zM368.6,380.5h2.0v2.0h-2.0zM373.4,380.5h3.6v2.0h-3.6zM399.0,380.5h2.0v2.0h-2.0zM373.4,382.1h2.0v2.0h-2.0zM391.0,382.1h2.0v2.0h-2.0zM402.2,382.1h3.6v2.0h-3.6z" fill="#067e42"/>
<path d="M360.6,242.6h2.0v2.0h-2.0zM363.8,244.2h2.0v2.0h-2.0zM359.0,252.2h2.0v2.0h-2.0zM357.4,297.1h2.0v2.0h-2.0zM360.6,297.1h2.0v2.0h-2.0zM349.4,298.7h2.0v2.0h-2.0zM349.4,301.9h3.6v2.0h-3.6zM354.2,301.9h2.0v2.0h-2.0zM349.4,303.5h2.0v2.0h-2.0zM355.8,303.5h2.0v2.0h-2.0zM386.2,303.5h2.0v2.0h-2.0zM352.6,305.1h3.6v2.0h-3.6zM384.6,305.1h2.0v2.0h-2.0zM355.8,306.7h2.0v2.0h-2.0zM354.2,308.3h2.0v2.0h-2.0zM355.8,309.9h2.0v2.0h-2.0zM354.2,311.5h3.6v2.0h-3.6zM362.2,313.1h3.6v2.0h-3.6zM349.4,314.7h2.0v2.0h-2.0zM363.8,314.7h2.0v2.0h-2.0zM415.0,332.4h2.0v2.0h-2.0zM416.6,345.2h2.0v2.0h-2.0zM418.2,346.8h2.0v2.0h-2.0zM418.2,350.0h2.0v2.0h-2.0zM416.6,351.6h2.0v2.0h-2.0zM416.6,358.0h2.0v2.0h-2.0zM413.4,383.7h2.0v2.0h-2.0zM416.6,385.3h2.0v2.0h-2.0zM418.2,388.5h2.0v2.0h-2.0zM451.8,388.5h2.0v2.0h-2.0zM411.8,390.1h2.0v2.0h-2.0zM415.0,391.7h2.0v2.0h-2.0zM415.0,393.3h2.0v2.0h-2.0zM413.4,394.9h3.6v2.0h-3.6z" fill="#f6965a"/>
<path d="M357.4,244.2h2.0v2.0h-2.0zM359.0,250.6h2.0v2.0h-2.0zM362.2,253.8h2.0v2.0h-2.0zM349.4,300.3h2.0v2.0h-2.0zM354.2,300.3h2.0v2.0h-2.0zM387.8,301.9h2.0v2.0h-2.0zM395.8,303.5h2.0v2.0h-2.0zM349.4,306.7h2.0v2.0h-2.0zM354.2,306.7h2.0v2.0h-2.0zM387.8,306.7h2.0v2.0h-2.0zM351.0,308.3h2.0v2.0h-2.0zM391.0,309.9h2.0v2.0h-2.0zM367.0,311.5h2.0v2.0h-2.0zM349.4,313.1h3.6v2.0h-3.6zM411.8,322.8h2.0v2.0h-2.0zM411.8,332.4h2.0v2.0h-2.0zM415.0,334.0h2.0v2.0h-2.0zM411.8,342.0h2.0v2.0h-2.0zM411.8,346.8h2.0v2.0h-2.0zM418.2,348.4h2.0v2.0h-2.0zM411.8,354.8h2.0v2.0h-2.0zM411.8,356.4h2.0v2.0h-2.0zM413.4,358.0h2.0v2.0h-2.0zM418.2,366.0h2.0v2.0h-2.0zM411.8,377.3h2.0v2.0h-2.0zM410.2,383.7h2.0v2.0h-2.0zM426.2,385.3h2.0v2.0h-2.0zM413.4,390.1h3.6v2.0h-3.6zM408.6,394.9h2.0v2.0h-2.0zM416.6,396.5h2.0v2.0h-2.0z" fill="#f68a4e"/>
<path d="M400.6,244.2h2.0v2.0h-2.0zM400.6,245.8h3.6v2.0h-3.6zM378.2,247.4h2.0v2.0h-2.0zM402.2,247.4h3.6v2.0h-3.6zM373.4,249.0h2.0v2.0h-2.0zM403.8,249.0h2.0v2.0h-2.0zM400.6,250.6h2.0v2.0h-2.0zM400.6,252.2h2.0v2.0h-2.0zM373.4,255.4h2.0v2.0h-2.0zM400.6,255.4h2.0v2.0h-2.0zM376.6,257.0h2.0v2.0h-2.0zM400.6,257.0h5.2v2.0h-5.2zM375.0,258.6h2.0v2.0h-2.0zM403.8,258.6h2.0v2.0h-2.0zM373.4,260.2h2.0v2.0h-2.0zM371.8,261.8h3.6v2.0h-3.6zM379.8,261.8h3.6v2.0h-3.6zM376.6,263.4h2.0v2.0h-2.0zM379.8,263.4h5.2v2.0h-5.2zM403.8,265.0h2.0v2.0h-2.0zM373.4,266.7h3.6v2.0h-3.6zM381.4,266.7h3.6v2.0h-3.6zM399.0,266.7h2.0v2.0h-2.0zM373.4,268.3h2.0v2.0h-2.0zM376.6,268.3h3.6v2.0h-3.6zM381.4,268.3h3.6v2.0h-3.6zM397.4,268.3h2.0v2.0h-2.0zM389.4,269.9h2.0v2.0h-2.0zM392.6,269.9h2.0v2.0h-2.0zM397.4,269.9h3.6v2.0h-3.6zM355.8,271.5h2.0v2.0h-2.0zM384.6,271.5h3.6v2.0h-3.6zM395.8,271.5h2.0v2.0h-2.0zM399.0,271.5h2.0v2.0h-2.0zM392.6,273.1h5.2v2.0h-5.2zM391.0,274.7h2.0v2.0h-2.0zM397.4,274.7h2.0v2.0h-2.0zM381.4,276.3h2.0v2.0h-2.0zM394.2,276.3h2.0v2.0h-2.0zM391.0,277.9h2.0v2.0h-2.0zM397.4,277.9h2.0v2.0h-2.0zM355.8,279.5h2.0v2.0h-2.0zM384.6,279.5h2.0v2.0h-2.0zM387.8,279.5h3.6v2.0h-3.6zM395.8,279.5h2.0v2.0h-2.0zM386.2,281.1h2.0v2.0h-2.0zM395.8,281.1h5.2v2.0h-5.2zM352.6,282.7h2.0v2.0h-2.0zM386.2,284.3h3.6v2.0h-3.6zM371.8,285.9h2.0v2.0h-2.0zM378.2,285.9h2.0v2.0h-2.0zM381.4,285.9h2.0v2.0h-2.0zM392.6,285.9h2.0v2.0h-2.0zM397.4,285.9h2.0v2.0h-2.0zM375.0,287.5h2.0v2.0h-2.0zM381.4,287.5h2.0v2.0h-2.0zM397.4,287.5h2.0v2.0h-2.0zM381.4,289.1h2.0v2.0h-2.0zM371.8,290.7h2.0v2.0h-2.0zM379.8,290.7h2.0v2.0h-2.0zM392.6,290.7h2.0v2.0h-2.0zM397.4,290.7h2.0v2.0h-2.0zM378.2,292.3h2.0v2.0h-2.0zM383.0,292.3h2.0v2.0h-2.0zM351.0,293.9h2.0v2.0h-2.0zM355.8,293.9h2.0v2.0h-2.0zM387.8,293.9h2.0v2.0h-2.0zM391.0,293.9h2.0v2.0h-2.0zM395.8,293.9h2.0v2.0h-2.0zM387.8,295.5h3.6v2.0h-3.6zM375.0,297.1h2.0v2.0h-2.0zM373.4,298.7h5.2v2.0h-5.2zM375.0,300.3h2.0v2.0h-2.0zM378.2,300.3h2.0v2.0h-2.0zM381.4,300.3h2.0v2.0h-2.0zM373.4,311.5h2.0v2.0h-2.0zM376.6,311.5h2.0v2.0h-2.0zM403.8,311.5h2.0v2.0h-2.0zM375.0,313.1h3.6v2.0h-3.6zM375.0,314.7h2.0v2.0h-2.0zM431.0,316.3h3.6v2.0h-3.6zM435.8,317.9h2.0v2.0h-2.0zM447.0,317.9h2.0v2.0h-2.0zM427.8,319.6h2.0v2.0h-2.0zM426.2,321.2h2.0v2.0h-2.0zM429.4,321.2h2.0v2.0h-2.0zM432.6,321.2h3.6v2.0h-3.6zM440.6,321.2h2.0v2.0h-2.0zM439.0,322.8h2.0v2.0h-2.0zM442.2,322.8h2.0v2.0h-2.0zM419.8,324.4h2.0v2.0h-2.0zM424.6,324.4h3.6v2.0h-3.6zM429.4,324.4h3.6v2.0h-3.6zM435.8,324.4h2.0v2.0h-2.0zM440.6,324.4h2.0v2.0h-2.0zM424.6,326.0h2.0v2.0h-2.0zM427.8,326.0h2.0v2.0h-2.0zM443.8,326.0h2.0v2.0h-2.0zM448.6,326.0h2.0v2.0h-2.0zM419.8,327.6h2.0v2.0h-2.0zM426.2,327.6h2.0v2.0h-2.0zM429.4,327.6h2.0v2.0h-2.0zM434.2,327.6h2.0v2.0h-2.0zM443.8,327.6h2.0v2.0h-2.0zM450.2,327.6h2.0v2.0h-2.0zM427.8,329.2h5.2v2.0h-5.2zM434.2,329.2h3.6v2.0h-3.6zM439.0,329.2h2.0v2.0h-2.0zM432.6,330.8h5.2v2.0h-5.2zM443.8,330.8h3.6v2.0h-3.6zM453.4,330.8h2.0v2.0h-2.0zM429.4,332.4h2.0v2.0h-2.0zM448.6,332.4h3.6v2.0h-3.6zM421.4,334.0h2.0v2.0h-2.0zM443.8,334.0h2.0v2.0h-2.0zM426.2,335.6h3.6v2.0h-3.6zM445.4,335.6h3.6v2.0h-3.6zM432.6,337.2h2.0v2.0h-2.0zM447.0,337.2h2.0v2.0h-2.0zM426.2,338.8h2.0v2.0h-2.0zM431.0,338.8h2.0v2.0h-2.0zM434.2,338.8h5.2v2.0h-5.2zM443.8,338.8h2.0v2.0h-2.0zM431.0,340.4h2.0v2.0h-2.0zM437.4,340.4h2.0v2.0h-2.0zM445.4,340.4h3.6v2.0h-3.6zM431.0,342.0h2.0v2.0h-2.0zM447.0,342.0h2.0v2.0h-2.0zM450.2,342.0h2.0v2.0h-2.0zM426.2,343.6h5.2v2.0h-5.2zM443.8,343.6h2.0v2.0h-2.0zM427.8,345.2h2.0v2.0h-2.0zM450.2,345.2h2.0v2.0h-2.0zM423.0,346.8h2.0v2.0h-2.0zM431.0,346.8h2.0v2.0h-2.0zM450.2,346.8h2.0v2.0h-2.0zM440.6,348.4h2.0v2.0h-2.0zM439.0,350.0h2.0v2.0h-2.0zM442.2,350.0h2.0v2.0h-2.0zM450.2,350.0h2.0v2.0h-2.0zM442.2,351.6h2.0v2.0h-2.0zM423.0,353.2h2.0v2.0h-2.0zM426.2,353.2h2.0v2.0h-2.0zM439.0,353.2h3.6v2.0h-3.6zM445.4,353.2h2.0v2.0h-2.0zM419.8,354.8h2.0v2.0h-2.0zM439.0,354.8h2.0v2.0h-2.0zM442.2,354.8h2.0v2.0h-2.0zM419.8,356.4h2.0v2.0h-2.0zM423.0,356.4h2.0v2.0h-2.0zM450.2,356.4h2.0v2.0h-2.0zM419.8,358.0h3.6v2.0h-3.6zM439.0,359.6h2.0v2.0h-2.0zM421.4,361.2h2.0v2.0h-2.0zM427.8,361.2h2.0v2.0h-2.0zM437.4,361.2h2.0v2.0h-2.0zM443.8,361.2h2.0v2.0h-2.0zM447.0,361.2h2.0v2.0h-2.0zM424.6,362.8h3.6v2.0h-3.6zM429.4,362.8h10.0v2.0h-10.0zM442.2,362.8h2.0v2.0h-2.0zM450.2,362.8h2.0v2.0h-2.0zM426.2,364.4h2.0v2.0h-2.0zM429.4,364.4h3.6v2.0h-3.6zM448.6,364.4h3.6v2.0h-3.6zM419.8,366.0h2.0v2.0h-2.0zM423.0,366.0h2.0v2.0h-2.0zM426.2,366.0h5.2v2.0h-5.2zM434.2,366.0h3.6v2.0h-3.6zM443.8,366.0h3.6v2.0h-3.6zM426.2,367.6h3.6v2.0h-3.6zM447.0,367.6h2.0v2.0h-2.0zM424.6,369.2h5.2v2.0h-5.2zM431.0,369.2h2.0v2.0h-2.0zM405.4,370.8h3.6v2.0h-3.6zM435.8,370.8h3.6v2.0h-3.6zM451.8,370.8h3.6v2.0h-3.6zM405.4,372.4h3.6v2.0h-3.6zM435.8,372.4h2.0v2.0h-2.0zM451.8,372.4h3.6v2.0h-3.6zM405.4,374.1h3.6v2.0h-3.6zM426.2,375.7h3.6v2.0h-3.6zM448.6,375.7h2.0v2.0h-2.0zM426.2,377.3h5.2v2.0h-5.2zM432.6,377.3h3.6v2.0h-3.6zM440.6,377.3h2.0v2.0h-2.0zM429.4,378.9h3.6v2.0h-3.6zM443.8,378.9h2.0v2.0h-2.0zM447.0,378.9h2.0v2.0h-2.0zM424.6,380.5h2.0v2.0h-2.0zM431.0,380.5h3.6v2.0h-3.6zM447.0,380.5h2.0v2.0h-2.0zM429.4,382.1h5.2v2.0h-5.2zM445.4,382.1h3.6v2.0h-3.6z" fill="#c6122a"/>
<path d="M405.4,245.8h2.0v2.0h-2.0zM408.6,247.4h2.0v2.0h-2.0zM413.4,247.4h3.6v2.0h-3.6zM407.0,249.0h2.0v2.0h-2.0zM408.6,260.2h2.0v2.0h-2.0zM411.8,260.2h3.6v2.0h-3.6zM419.8,260.2h2.0v2.0h-2.0zM413.4,261.8h3.6v2.0h-3.6zM439.0,263.4h2.0v2.0h-2.0zM405.4,265.0h3.6v2.0h-3.6zM405.4,281.1h2.0v2.0h-2.0zM439.0,297.1h2.0v2.0h-2.0zM423.0,298.7h2.0v2.0h-2.0zM351.0,316.3h2.0v2.0h-2.0zM352.6,317.9h2.0v2.0h-2.0zM349.4,319.6h3.6v2.0h-3.6zM354.2,322.8h2.0v2.0h-2.0zM355.8,327.6h2.0v2.0h-2.0zM352.6,329.2h2.0v2.0h-2.0zM351.0,330.8h5.2v2.0h-5.2zM352.6,337.2h2.0v2.0h-2.0zM354.2,340.4h2.0v2.0h-2.0zM349.4,346.8h2.0v2.0h-2.0zM352.6,350.0h2.0v2.0h-2.0zM354.2,353.2h2.0v2.0h-2.0zM349.4,354.8h2.0v2.0h-2.0zM354.2,358.0h2.0v2.0h-2.0zM352.6,359.6h2.0v2.0h-2.0zM351.0,361.2h2.0v2.0h-2.0zM355.8,370.8h2.0v2.0h-2.0zM370.2,370.8h2.0v2.0h-2.0zM349.4,372.4h2.0v2.0h-2.0zM355.8,372.4h2.0v2.0h-2.0zM349.4,374.1h3.6v2.0h-3.6zM354.2,374.1h2.0v2.0h-2.0zM370.2,383.7h2.0v2.0h-2.0zM402.2,383.7h3.6v2.0h-3.6zM367.0,385.3h2.0v2.0h-2.0zM391.0,385.3h3.6v2.0h-3.6zM395.8,385.3h2.0v2.0h-2.0zM403.8,385.3h2.0v2.0h-2.0zM368.6,386.9h2.0v2.0h-2.0zM403.8,386.9h2.0v2.0h-2.0zM365.4,388.5h2.0v2.0h-2.0zM370.2,388.5h2.0v2.0h-2.0zM357.4,390.1h2.0v2.0h-2.0zM363.8,390.1h2.0v2.0h-2.0zM370.2,390.1h2.0v2.0h-2.0zM357.4,391.7h2.0v2.0h-2.0zM389.4,391.7h2.0v2.0h-2.0zM367.0,393.3h2.0v2.0h-2.0zM399.0,393.3h2.0v2.0h-2.0zM402.2,393.3h2.0v2.0h-2.0zM365.4,394.9h3.6v2.0h-3.6zM402.2,394.9h3.6v2.0h-3.6zM357.4,396.5h2.0v2.0h-2.0zM362.2,396.5h2.0v2.0h-2.0zM365.4,396.5h2.0v2.0h-2.0zM373.4,396.5h2.0v2.0h-2.0zM392.6,396.5h5.2v2.0h-5.2zM363.8,398.1h2.0v2.0h-2.0zM367.0,398.1h3.6v2.0h-3.6zM384.6,398.1h2.0v2.0h-2.0zM389.4,398.1h2.0v2.0h-2.0zM394.2,398.1h2.0v2.0h-2.0z" fill="#72c666"/>
<path d="M407.0,245.8h2.0v2.0h-2.0zM405.4,266.7h2.0v2.0h-2.0zM415.0,301.9h2.0v2.0h-2.0zM415.0,303.5h2.0v2.0h-2.0zM410.2,305.1h3.6v2.0h-3.6zM411.8,308.3h2.0v2.0h-2.0zM411.8,309.9h2.0v2.0h-2.0zM351.0,327.6h2.0v2.0h-2.0zM355.8,329.2h2.0v2.0h-2.0zM354.2,372.4h2.0v2.0h-2.0zM365.4,383.7h2.0v2.0h-2.0zM400.6,394.9h2.0v2.0h-2.0zM359.0,396.5h3.6v2.0h-3.6zM363.8,396.5h2.0v2.0h-2.0zM391.0,396.5h2.0v2.0h-2.0z" fill="#8ac666"/>
<path d="M421.4,245.8h2.0v2.0h-2.0zM453.4,263.4h2.0v2.0h-2.0zM421.4,298.7h2.0v2.0h-2.0zM442.2,311.5h2.0v2.0h-2.0zM439.0,314.7h2.0v2.0h-2.0zM351.0,343.6h2.0v2.0h-2.0zM351.0,362.8h2.0v2.0h-2.0zM354.2,362.8h2.0v2.0h-2.0zM351.0,375.7h2.0v2.0h-2.0zM375.0,390.1h2.0v2.0h-2.0zM359.0,391.7h2.0v2.0h-2.0z" fill="#5aae5a"/>
<path d="M451.8,245.8h3.6v2.0h-3.6zM431.0,247.4h2.0v2.0h-2.0zM408.6,250.6h2.0v2.0h-2.0zM442.2,250.6h2.0v2.0h-2.0zM408.6,252.2h2.0v2.0h-2.0zM453.4,252.2h2.0v2.0h-2.0zM410.2,253.8h2.0v2.0h-2.0zM431.0,255.4h2.0v2.0h-2.0zM419.8,258.6h3.6v2.0h-3.6zM439.0,258.6h2.0v2.0h-2.0zM451.8,258.6h2.0v2.0h-2.0zM439.0,260.2h3.6v2.0h-3.6zM450.2,260.2h3.6v2.0h-3.6zM432.6,263.4h2.0v2.0h-2.0zM442.2,263.4h2.0v2.0h-2.0zM440.6,266.7h2.0v2.0h-2.0zM410.2,273.1h2.0v2.0h-2.0zM413.4,279.5h2.0v2.0h-2.0zM416.6,297.1h2.0v2.0h-2.0zM450.2,300.3h2.0v2.0h-2.0zM419.8,303.5h2.0v2.0h-2.0zM418.2,305.1h2.0v2.0h-2.0zM450.2,306.7h2.0v2.0h-2.0zM423.0,308.3h2.0v2.0h-2.0zM362.2,316.3h2.0v2.0h-2.0zM367.0,316.3h2.0v2.0h-2.0zM368.6,326.0h2.0v2.0h-2.0zM367.0,327.6h2.0v2.0h-2.0zM368.6,329.2h2.0v2.0h-2.0zM349.4,334.0h2.0v2.0h-2.0zM354.2,334.0h2.0v2.0h-2.0zM400.6,346.8h2.0v2.0h-2.0zM355.8,359.6h2.0v2.0h-2.0zM359.0,372.4h2.0v2.0h-2.0zM368.6,372.4h2.0v2.0h-2.0zM381.4,388.5h2.0v2.0h-2.0zM376.6,391.7h2.0v2.0h-2.0zM386.2,391.7h2.0v2.0h-2.0zM386.2,393.3h2.0v2.0h-2.0zM394.2,393.3h2.0v2.0h-2.0zM392.6,394.9h2.0v2.0h-2.0z" fill="#42a25a"/>
<path d="M351.0,247.4h2.0v2.0h-2.0zM355.8,249.0h2.0v2.0h-2.0zM368.6,277.9h2.0v2.0h-2.0zM357.4,281.1h2.0v2.0h-2.0zM360.6,287.5h2.0v2.0h-2.0zM378.2,303.5h2.0v2.0h-2.0zM405.4,319.6h2.0v2.0h-2.0zM410.2,324.4h2.0v2.0h-2.0zM451.8,345.2h2.0v2.0h-2.0zM405.4,382.1h2.0v2.0h-2.0zM450.2,398.1h2.0v2.0h-2.0z" fill="#de3636"/>
<path d="M360.6,247.4h2.0v2.0h-2.0zM357.4,257.0h2.0v2.0h-2.0zM389.4,314.7h2.0v2.0h-2.0zM434.2,390.1h2.0v2.0h-2.0z" fill="#ea5a42"/>
<path d="M400.6,247.4h2.0v2.0h-2.0zM402.2,255.4h2.0v2.0h-2.0zM400.6,258.6h2.0v2.0h-2.0zM375.0,261.8h3.6v2.0h-3.6zM400.6,261.8h5.2v2.0h-5.2zM375.0,263.4h2.0v2.0h-2.0zM400.6,263.4h5.2v2.0h-5.2zM373.4,265.0h5.2v2.0h-5.2zM400.6,265.0h3.6v2.0h-3.6zM376.6,266.7h3.6v2.0h-3.6zM400.6,266.7h5.2v2.0h-5.2zM375.0,268.3h2.0v2.0h-2.0zM400.6,268.3h5.2v2.0h-5.2zM371.8,269.9h13.2v2.0h-13.2zM391.0,269.9h2.0v2.0h-2.0zM394.2,269.9h3.6v2.0h-3.6zM400.6,269.9h5.2v2.0h-5.2zM371.8,271.5h13.2v2.0h-13.2zM389.4,271.5h2.0v2.0h-2.0zM392.6,271.5h2.0v2.0h-2.0zM397.4,271.5h2.0v2.0h-2.0zM400.6,271.5h5.2v2.0h-5.2zM355.8,273.1h2.0v2.0h-2.0zM371.8,273.1h13.2v2.0h-13.2zM389.4,273.1h3.6v2.0h-3.6zM397.4,273.1h2.0v2.0h-2.0zM400.6,273.1h5.2v2.0h-5.2zM371.8,274.7h14.8v2.0h-14.8zM392.6,274.7h2.0v2.0h-2.0zM395.8,274.7h2.0v2.0h-2.0zM399.0,274.7h6.8v2.0h-6.8zM371.8,276.3h10.0v2.0h-10.0zM383.0,276.3h2.0v2.0h-2.0zM400.6,276.3h5.2v2.0h-5.2zM371.8,277.9h10.0v2.0h-10.0zM383.0,277.9h2.0v2.0h-2.0zM400.6,277.9h5.2v2.0h-5.2zM371.8,279.5h13.2v2.0h-13.2zM391.0,279.5h2.0v2.0h-2.0zM397.4,279.5h8.4v2.0h-8.4zM354.2,281.1h3.6v2.0h-3.6zM371.8,281.1h13.2v2.0h-13.2zM389.4,281.1h3.6v2.0h-3.6zM394.2,281.1h2.0v2.0h-2.0zM400.6,281.1h5.2v2.0h-5.2zM349.4,282.7h2.0v2.0h-2.0zM355.8,282.7h2.0v2.0h-2.0zM371.8,282.7h34.0v2.0h-34.0zM349.4,284.3h3.6v2.0h-3.6zM355.8,284.3h2.0v2.0h-2.0zM371.8,284.3h14.8v2.0h-14.8zM389.4,284.3h16.4v2.0h-16.4zM373.4,285.9h5.2v2.0h-5.2zM379.8,285.9h2.0v2.0h-2.0zM383.0,285.9h2.0v2.0h-2.0zM400.6,285.9h5.2v2.0h-5.2zM371.8,287.5h3.6v2.0h-3.6zM376.6,287.5h5.2v2.0h-5.2zM383.0,287.5h2.0v2.0h-2.0zM400.6,287.5h5.2v2.0h-5.2zM371.8,289.1h8.4v2.0h-8.4zM383.0,289.1h2.0v2.0h-2.0zM400.6,289.1h5.2v2.0h-5.2zM373.4,290.7h6.8v2.0h-6.8zM381.4,290.7h3.6v2.0h-3.6zM400.6,290.7h5.2v2.0h-5.2zM371.8,292.3h6.8v2.0h-6.8zM379.8,292.3h3.6v2.0h-3.6zM400.6,292.3h5.2v2.0h-5.2zM371.8,293.9h13.2v2.0h-13.2zM389.4,293.9h2.0v2.0h-2.0zM392.6,293.9h3.6v2.0h-3.6zM397.4,293.9h8.4v2.0h-8.4zM371.8,295.5h13.2v2.0h-13.2zM391.0,295.5h5.2v2.0h-5.2zM397.4,295.5h8.4v2.0h-8.4zM373.4,300.3h2.0v2.0h-2.0zM419.8,316.3h6.8v2.0h-6.8zM427.8,316.3h2.0v2.0h-2.0zM439.0,316.3h5.2v2.0h-5.2zM450.2,316.3h2.0v2.0h-2.0zM419.8,317.9h5.2v2.0h-5.2zM439.0,317.9h5.2v2.0h-5.2zM450.2,317.9h2.0v2.0h-2.0zM419.8,319.6h5.2v2.0h-5.2zM439.0,319.6h5.2v2.0h-5.2zM450.2,319.6h2.0v2.0h-2.0zM419.8,321.2h6.8v2.0h-6.8zM439.0,321.2h2.0v2.0h-2.0zM442.2,321.2h2.0v2.0h-2.0zM450.2,321.2h2.0v2.0h-2.0zM419.8,322.8h5.2v2.0h-5.2zM440.6,322.8h2.0v2.0h-2.0zM450.2,322.8h2.0v2.0h-2.0zM421.4,324.4h3.6v2.0h-3.6zM442.2,324.4h2.0v2.0h-2.0zM450.2,324.4h2.0v2.0h-2.0zM419.8,326.0h5.2v2.0h-5.2zM429.4,326.0h2.0v2.0h-2.0zM439.0,326.0h5.2v2.0h-5.2zM450.2,326.0h2.0v2.0h-2.0zM421.4,327.6h3.6v2.0h-3.6zM427.8,327.6h2.0v2.0h-2.0zM439.0,327.6h5.2v2.0h-5.2zM447.0,327.6h2.0v2.0h-2.0zM419.8,329.2h8.4v2.0h-8.4zM440.6,329.2h5.2v2.0h-5.2zM450.2,329.2h2.0v2.0h-2.0zM419.8,330.8h13.2v2.0h-13.2zM437.4,330.8h6.8v2.0h-6.8zM447.0,330.8h5.2v2.0h-5.2zM419.8,332.4h5.2v2.0h-5.2zM439.0,332.4h5.2v2.0h-5.2zM419.8,334.0h2.0v2.0h-2.0zM423.0,334.0h2.0v2.0h-2.0zM439.0,334.0h5.2v2.0h-5.2zM450.2,334.0h2.0v2.0h-2.0zM419.8,335.6h6.8v2.0h-6.8zM429.4,335.6h5.2v2.0h-5.2zM435.8,335.6h10.0v2.0h-10.0zM450.2,335.6h2.0v2.0h-2.0zM419.8,337.2h5.2v2.0h-5.2zM429.4,337.2h3.6v2.0h-3.6zM439.0,337.2h5.2v2.0h-5.2zM450.2,337.2h2.0v2.0h-2.0zM419.8,338.8h6.8v2.0h-6.8zM429.4,338.8h2.0v2.0h-2.0zM439.0,338.8h5.2v2.0h-5.2zM450.2,338.8h2.0v2.0h-2.0zM419.8,340.4h5.2v2.0h-5.2zM426.2,340.4h5.2v2.0h-5.2zM439.0,340.4h6.8v2.0h-6.8zM450.2,340.4h2.0v2.0h-2.0zM419.8,342.0h6.8v2.0h-6.8zM427.8,342.0h2.0v2.0h-2.0zM439.0,342.0h5.2v2.0h-5.2zM445.4,342.0h2.0v2.0h-2.0zM419.8,343.6h5.2v2.0h-5.2zM431.0,343.6h2.0v2.0h-2.0zM439.0,343.6h5.2v2.0h-5.2zM447.0,343.6h2.0v2.0h-2.0zM450.2,343.6h2.0v2.0h-2.0zM419.8,345.2h2.0v2.0h-2.0zM423.0,345.2h2.0v2.0h-2.0zM431.0,345.2h2.0v2.0h-2.0zM439.0,345.2h5.2v2.0h-5.2zM419.8,348.4h2.0v2.0h-2.0zM423.0,348.4h2.0v2.0h-2.0zM439.0,348.4h2.0v2.0h-2.0zM419.8,350.0h2.0v2.0h-2.0zM423.0,350.0h2.0v2.0h-2.0zM419.8,351.6h5.2v2.0h-5.2zM440.6,351.6h2.0v2.0h-2.0zM419.8,353.2h3.6v2.0h-3.6zM442.2,353.2h2.0v2.0h-2.0zM450.2,353.2h2.0v2.0h-2.0zM421.4,354.8h2.0v2.0h-2.0zM440.6,354.8h2.0v2.0h-2.0zM421.4,356.4h2.0v2.0h-2.0zM439.0,356.4h2.0v2.0h-2.0zM423.0,358.0h2.0v2.0h-2.0zM419.8,359.6h2.0v2.0h-2.0zM419.8,361.2h2.0v2.0h-2.0zM423.0,361.2h2.0v2.0h-2.0zM435.8,361.2h2.0v2.0h-2.0zM439.0,361.2h5.2v2.0h-5.2zM450.2,361.2h2.0v2.0h-2.0zM419.8,362.8h5.2v2.0h-5.2zM427.8,362.8h2.0v2.0h-2.0zM439.0,362.8h3.6v2.0h-3.6zM419.8,364.4h5.2v2.0h-5.2zM427.8,364.4h2.0v2.0h-2.0zM439.0,364.4h5.2v2.0h-5.2zM421.4,366.0h2.0v2.0h-2.0zM439.0,366.0h5.2v2.0h-5.2zM450.2,366.0h2.0v2.0h-2.0zM419.8,367.6h5.2v2.0h-5.2zM439.0,367.6h5.2v2.0h-5.2zM450.2,367.6h2.0v2.0h-2.0zM419.8,369.2h5.2v2.0h-5.2zM439.0,369.2h5.2v2.0h-5.2zM447.0,369.2h2.0v2.0h-2.0zM450.2,369.2h2.0v2.0h-2.0zM419.8,370.8h16.4v2.0h-16.4zM439.0,370.8h13.2v2.0h-13.2zM419.8,372.4h16.4v2.0h-16.4zM437.4,372.4h14.8v2.0h-14.8zM419.8,374.1h32.4v2.0h-32.4zM419.8,375.7h5.2v2.0h-5.2zM429.4,375.7h3.6v2.0h-3.6zM439.0,375.7h6.8v2.0h-6.8zM450.2,375.7h2.0v2.0h-2.0zM419.8,377.3h6.8v2.0h-6.8zM439.0,377.3h2.0v2.0h-2.0zM442.2,377.3h2.0v2.0h-2.0zM450.2,377.3h2.0v2.0h-2.0zM419.8,378.9h6.8v2.0h-6.8zM427.8,378.9h2.0v2.0h-2.0zM435.8,378.9h2.0v2.0h-2.0zM439.0,378.9h5.2v2.0h-5.2zM445.4,378.9h2.0v2.0h-2.0zM450.2,378.9h2.0v2.0h-2.0zM419.8,380.5h5.2v2.0h-5.2zM427.8,380.5h3.6v2.0h-3.6zM439.0,380.5h5.2v2.0h-5.2zM450.2,380.5h2.0v2.0h-2.0zM419.8,382.1h8.4v2.0h-8.4zM439.0,382.1h5.2v2.0h-5.2zM450.2,382.1h2.0v2.0h-2.0z" fill="#ba122a"/>
<path d="M410.2,247.4h2.0v2.0h-2.0zM407.0,268.3h2.0v2.0h-2.0zM419.8,313.1h2.0v2.0h-2.0zM354.2,319.6h2.0v2.0h-2.0zM349.4,321.2h2.0v2.0h-2.0zM351.0,324.4h2.0v2.0h-2.0zM352.6,348.4h2.0v2.0h-2.0zM351.0,350.0h2.0v2.0h-2.0zM355.8,382.1h2.0v2.0h-2.0zM399.0,383.7h2.0v2.0h-2.0zM367.0,388.5h2.0v2.0h-2.0zM376.6,388.5h2.0v2.0h-2.0zM392.6,393.3h2.0v2.0h-2.0zM403.8,393.3h2.0v2.0h-2.0zM379.8,396.5h2.0v2.0h-2.0zM383.0,396.5h2.0v2.0h-2.0zM360.6,398.1h2.0v2.0h-2.0zM397.4,398.1h2.0v2.0h-2.0z" fill="#72ba66"/>
<path d="M407.0,255.4h2.0v2.0h-2.0zM405.4,257.0h3.6v2.0h-3.6zM407.0,258.6h2.0v2.0h-2.0zM407.0,260.2h2.0v2.0h-2.0zM405.4,263.4h2.0v2.0h-2.0zM411.8,263.4h2.0v2.0h-2.0zM410.2,301.9h2.0v2.0h-2.0zM407.0,303.5h5.2v2.0h-5.2zM413.4,303.5h2.0v2.0h-2.0zM415.0,306.7h2.0v2.0h-2.0zM415.0,309.9h2.0v2.0h-2.0zM410.2,311.5h2.0v2.0h-2.0zM415.0,314.7h2.0v2.0h-2.0zM351.0,322.8h2.0v2.0h-2.0zM349.4,370.8h2.0v2.0h-2.0zM354.2,383.7h2.0v2.0h-2.0zM352.6,385.3h2.0v2.0h-2.0zM349.4,386.9h2.0v2.0h-2.0zM368.6,388.5h2.0v2.0h-2.0zM352.6,391.7h2.0v2.0h-2.0zM349.4,393.3h2.0v2.0h-2.0zM349.4,394.9h2.0v2.0h-2.0zM349.4,396.5h2.0v2.0h-2.0zM367.0,396.5h2.0v2.0h-2.0zM370.2,396.5h2.0v2.0h-2.0zM400.6,396.5h2.0v2.0h-2.0zM370.2,398.1h2.0v2.0h-2.0z" fill="#96d266"/>
<path d="M405.4,258.6h2.0v2.0h-2.0zM405.4,260.2h2.0v2.0h-2.0zM408.6,261.8h3.6v2.0h-3.6zM413.4,263.4h2.0v2.0h-2.0zM415.0,298.7h2.0v2.0h-2.0zM407.0,301.9h2.0v2.0h-2.0zM413.4,301.9h2.0v2.0h-2.0zM415.0,305.1h2.0v2.0h-2.0zM408.6,306.7h3.6v2.0h-3.6zM408.6,308.3h2.0v2.0h-2.0zM349.4,316.3h2.0v2.0h-2.0zM351.0,326.0h3.6v2.0h-3.6zM349.4,327.6h2.0v2.0h-2.0zM354.2,329.2h2.0v2.0h-2.0zM354.2,370.8h2.0v2.0h-2.0zM351.0,383.7h2.0v2.0h-2.0zM355.8,383.7h2.0v2.0h-2.0zM400.6,383.7h2.0v2.0h-2.0zM354.2,385.3h2.0v2.0h-2.0zM363.8,385.3h2.0v2.0h-2.0zM402.2,385.3h2.0v2.0h-2.0zM362.2,386.9h2.0v2.0h-2.0zM402.2,388.5h2.0v2.0h-2.0zM355.8,391.7h2.0v2.0h-2.0zM355.8,393.3h2.0v2.0h-2.0zM355.8,394.9h2.0v2.0h-2.0zM397.4,396.5h2.0v2.0h-2.0zM357.4,398.1h2.0v2.0h-2.0zM365.4,398.1h2.0v2.0h-2.0zM403.8,398.1h2.0v2.0h-2.0z" fill="#8ad266"/>
<path d="M405.4,261.8h2.0v2.0h-2.0zM408.6,300.3h2.0v2.0h-2.0zM408.6,305.1h2.0v2.0h-2.0zM408.6,311.5h2.0v2.0h-2.0zM411.8,314.7h2.0v2.0h-2.0zM352.6,383.7h2.0v2.0h-2.0zM349.4,385.3h2.0v2.0h-2.0zM349.4,391.7h2.0v2.0h-2.0zM354.2,393.3h2.0v2.0h-2.0zM355.8,398.1h2.0v2.0h-2.0z" fill="#a2de72"/>
<path d="M407.0,261.8h2.0v2.0h-2.0zM407.0,263.4h2.0v2.0h-2.0zM415.0,263.4h2.0v2.0h-2.0zM405.4,301.9h2.0v2.0h-2.0zM408.6,301.9h2.0v2.0h-2.0zM405.4,303.5h2.0v2.0h-2.0zM411.8,306.7h2.0v2.0h-2.0zM410.2,308.3h2.0v2.0h-2.0zM411.8,313.1h2.0v2.0h-2.0zM354.2,390.1h2.0v2.0h-2.0zM352.6,393.3h2.0v2.0h-2.0zM352.6,394.9h2.0v2.0h-2.0zM403.8,396.5h2.0v2.0h-2.0zM400.6,398.1h2.0v2.0h-2.0z" fill="#a2d266"/>
<path d="M359.0,297.1h2.0v2.0h-2.0zM367.0,298.7h2.0v2.0h-2.0zM352.6,303.5h2.0v2.0h-2.0zM365.4,303.5h2.0v2.0h-2.0zM351.0,306.7h2.0v2.0h-2.0zM360.6,306.7h2.0v2.0h-2.0zM370.2,306.7h2.0v2.0h-2.0zM360.6,308.3h2.0v2.0h-2.0zM362.2,311.5h2.0v2.0h-2.0zM360.6,313.1h2.0v2.0h-2.0zM367.0,313.1h2.0v2.0h-2.0zM357.4,314.7h2.0v2.0h-2.0zM362.2,314.7h2.0v2.0h-2.0zM413.4,386.9h2.0v2.0h-2.0zM418.2,398.1h2.0v2.0h-2.0z" fill="#f6ae66"/>
<path d="M362.2,297.1h2.0v2.0h-2.0zM359.0,298.7h2.0v2.0h-2.0zM352.6,301.9h2.0v2.0h-2.0zM359.0,301.9h3.6v2.0h-3.6zM365.4,301.9h2.0v2.0h-2.0zM363.8,303.5h2.0v2.0h-2.0zM357.4,305.1h2.0v2.0h-2.0zM360.6,305.1h5.2v2.0h-5.2zM368.6,305.1h2.0v2.0h-2.0zM357.4,306.7h3.6v2.0h-3.6zM362.2,306.7h2.0v2.0h-2.0zM357.4,308.3h2.0v2.0h-2.0zM368.6,308.3h2.0v2.0h-2.0zM362.2,309.9h2.0v2.0h-2.0zM370.2,309.9h2.0v2.0h-2.0zM359.0,311.5h2.0v2.0h-2.0zM365.4,313.1h2.0v2.0h-2.0zM359.0,314.7h2.0v2.0h-2.0z" fill="#ffc67e"/>
<path d="M363.8,297.1h2.0v2.0h-2.0zM368.6,297.1h2.0v2.0h-2.0zM360.6,298.7h3.6v2.0h-3.6zM357.4,300.3h2.0v2.0h-2.0zM349.4,305.1h2.0v2.0h-2.0zM367.0,305.1h2.0v2.0h-2.0zM349.4,308.3h2.0v2.0h-2.0zM362.2,308.3h2.0v2.0h-2.0zM368.6,309.9h2.0v2.0h-2.0zM368.6,314.7h2.0v2.0h-2.0zM416.6,383.7h2.0v2.0h-2.0zM411.8,388.5h2.0v2.0h-2.0zM416.6,390.1h2.0v2.0h-2.0zM411.8,391.7h2.0v2.0h-2.0zM411.8,393.3h2.0v2.0h-2.0z" fill="#ffae72"/>
<path d="M365.4,297.1h2.0v2.0h-2.0zM370.2,297.1h2.0v2.0h-2.0zM355.8,298.7h2.0v2.0h-2.0zM365.4,298.7h2.0v2.0h-2.0zM370.2,298.7h2.0v2.0h-2.0zM359.0,300.3h2.0v2.0h-2.0zM363.8,300.3h5.2v2.0h-5.2zM355.8,301.9h3.6v2.0h-3.6zM351.0,303.5h2.0v2.0h-2.0zM352.6,306.7h2.0v2.0h-2.0zM360.6,311.5h2.0v2.0h-2.0zM354.2,313.1h2.0v2.0h-2.0zM368.6,313.1h2.0v2.0h-2.0zM365.4,314.7h2.0v2.0h-2.0zM415.0,346.8h2.0v2.0h-2.0zM415.0,348.4h2.0v2.0h-2.0zM418.2,383.7h2.0v2.0h-2.0zM415.0,386.9h2.0v2.0h-2.0zM413.4,391.7h2.0v2.0h-2.0zM418.2,391.7h2.0v2.0h-2.0zM416.6,394.9h2.0v2.0h-2.0zM411.8,398.1h2.0v2.0h-2.0z" fill="#f6a266"/>
<path d="M405.4,297.1h2.0v2.0h-2.0zM413.4,297.1h2.0v2.0h-2.0zM413.4,298.7h2.0v2.0h-2.0zM405.4,309.9h3.6v2.0h-3.6zM405.4,311.5h3.6v2.0h-3.6zM405.4,313.1h2.0v2.0h-2.0zM354.2,386.9h2.0v2.0h-2.0zM351.0,396.5h2.0v2.0h-2.0zM354.2,396.5h3.6v2.0h-3.6zM351.0,398.1h2.0v2.0h-2.0zM354.2,398.1h2.0v2.0h-2.0z" fill="#c6ea7e"/>
<path d="M407.0,297.1h2.0v2.0h-2.0zM405.4,298.7h2.0v2.0h-2.0z" fill="#def696"/>
<path d="M408.6,297.1h3.6v2.0h-3.6zM410.2,298.7h3.6v2.0h-3.6zM410.2,300.3h3.6v2.0h-3.6zM407.0,305.1h2.0v2.0h-2.0zM413.4,305.1h2.0v2.0h-2.0zM407.0,306.7h2.0v2.0h-2.0zM413.4,306.7h2.0v2.0h-2.0zM415.0,308.3h2.0v2.0h-2.0zM408.6,309.9h2.0v2.0h-2.0zM413.4,309.9h2.0v2.0h-2.0zM408.6,313.1h2.0v2.0h-2.0zM413.4,313.1h3.6v2.0h-3.6zM408.6,314.7h3.6v2.0h-3.6zM351.0,386.9h3.6v2.0h-3.6zM355.8,386.9h2.0v2.0h-2.0zM351.0,388.5h5.2v2.0h-5.2zM351.0,390.1h3.6v2.0h-3.6zM355.8,390.1h2.0v2.0h-2.0zM351.0,391.7h2.0v2.0h-2.0zM354.2,391.7h2.0v2.0h-2.0zM351.0,393.3h2.0v2.0h-2.0zM352.6,396.5h2.0v2.0h-2.0zM349.4,398.1h2.0v2.0h-2.0z" fill="#aede72"/>
<path d="M411.8,297.1h2.0v2.0h-2.0zM405.4,300.3h2.0v2.0h-2.0zM405.4,306.7h2.0v2.0h-2.0zM407.0,308.3h2.0v2.0h-2.0zM405.4,314.7h3.6v2.0h-3.6z" fill="#d2ea8a"/>
<path d="M415.0,297.1h2.0v2.0h-2.0zM407.0,298.7h2.0v2.0h-2.0zM407.0,313.1h2.0v2.0h-2.0z" fill="#baea7e"/>
<path d="M368.6,298.7h2.0v2.0h-2.0zM362.2,300.3h2.0v2.0h-2.0zM368.6,300.3h2.0v2.0h-2.0zM357.4,303.5h2.0v2.0h-2.0zM368.6,303.5h2.0v2.0h-2.0zM365.4,305.1h2.0v2.0h-2.0zM370.2,305.1h2.0v2.0h-2.0zM368.6,306.7h2.0v2.0h-2.0zM367.0,308.3h2.0v2.0h-2.0zM352.6,309.9h2.0v2.0h-2.0zM360.6,309.9h2.0v2.0h-2.0zM357.4,311.5h2.0v2.0h-2.0zM363.8,311.5h2.0v2.0h-2.0zM368.6,311.5h2.0v2.0h-2.0zM357.4,313.1h3.6v2.0h-3.6zM370.2,313.1h2.0v2.0h-2.0zM367.0,314.7h2.0v2.0h-2.0zM411.8,386.9h2.0v2.0h-2.0zM418.2,386.9h2.0v2.0h-2.0zM415.0,388.5h2.0v2.0h-2.0zM418.2,390.1h2.0v2.0h-2.0zM418.2,393.3h2.0v2.0h-2.0zM411.8,394.9h2.0v2.0h-2.0z" fill="#ffba72"/>
<path d="M408.6,298.7h2.0v2.0h-2.0zM413.4,300.3h2.0v2.0h-2.0zM405.4,305.1h2.0v2.0h-2.0zM405.4,308.3h2.0v2.0h-2.0zM411.8,311.5h5.2v2.0h-5.2zM410.2,313.1h2.0v2.0h-2.0zM413.4,314.7h2.0v2.0h-2.0zM349.4,383.7h2.0v2.0h-2.0zM355.8,385.3h2.0v2.0h-2.0zM349.4,388.5h2.0v2.0h-2.0zM349.4,390.1h2.0v2.0h-2.0zM352.6,398.1h2.0v2.0h-2.0z" fill="#bade7e"/>
<path d="M360.6,300.3h2.0v2.0h-2.0zM354.2,309.9h2.0v2.0h-2.0zM357.4,309.9h2.0v2.0h-2.0z" fill="#f6ae72"/>
<path d="M370.2,300.3h2.0v2.0h-2.0zM349.4,309.9h3.6v2.0h-3.6zM360.6,314.7h2.0v2.0h-2.0zM418.2,358.0h2.0v2.0h-2.0zM411.8,385.3h2.0v2.0h-2.0zM416.6,386.9h2.0v2.0h-2.0zM416.6,388.5h2.0v2.0h-2.0zM416.6,393.3h2.0v2.0h-2.0z" fill="#f6a25a"/>
<path d="M407.0,300.3h2.0v2.0h-2.0z" fill="#c6ea8a"/>
<path d="M415.0,300.3h2.0v2.0h-2.0zM354.2,394.9h2.0v2.0h-2.0z" fill="#bade72"/>
<path d="M362.2,301.9h3.6v2.0h-3.6zM368.6,301.9h3.6v2.0h-3.6zM367.0,303.5h2.0v2.0h-2.0zM363.8,306.7h5.2v2.0h-5.2zM363.8,308.3h3.6v2.0h-3.6zM359.0,309.9h2.0v2.0h-2.0zM363.8,309.9h3.6v2.0h-3.6z" fill="#ffd28a"/>
<path d="M367.0,301.9h2.0v2.0h-2.0zM370.2,303.5h2.0v2.0h-2.0zM367.0,309.9h2.0v2.0h-2.0z" fill="#ffde8a"/>
<path d="M354.2,303.5h2.0v2.0h-2.0zM362.2,303.5h2.0v2.0h-2.0zM370.2,308.3h2.0v2.0h-2.0zM365.4,311.5h2.0v2.0h-2.0zM370.2,311.5h2.0v2.0h-2.0zM370.2,314.7h2.0v2.0h-2.0z" fill="#ffba7e"/>
<path d="M359.0,303.5h3.6v2.0h-3.6zM359.0,305.1h2.0v2.0h-2.0z" fill="#ffde96"/>
<path d="M351.0,385.3h2.0v2.0h-2.0zM351.0,394.9h2.0v2.0h-2.0z" fill="#a2de66"/>
<rect x="344.9" y="239.4" width="3.4" height="160.29999999999998" fill="#1b9e77"/>
<rect x="349.4" y="234.9" width="105.60000000000002" height="2.7" fill="#f26b1d"/>
<rect x="349.40" y="229.8" width="1.65" height="4.2" fill="#f37ef0"/>
<rect x="351.00" y="229.8" width="1.65" height="4.2" fill="#f37ef0"/>
<rect x="352.60" y="229.8" width="1.65" height="4.2" fill="#e28af0"/>
<rect x="354.20" y="229.8" width="1.65" height="4.2" fill="#f48a80"/>
<rect x="355.80" y="229.8" width="1.65" height="4.2" fill="#f080c0"/>
<rect x="357.40" y="229.8" width="1.65" height="4.2" fill="#35c3f0"/>
<rect x="359.00" y="229.8" width="1.65" height="4.2" fill="#e28af0"/>
<rect x="360.60" y="229.8" width="1.65" height="4.2" fill="#35c3f0"/>
<rect x="362.20" y="229.8" width="1.65" height="4.2" fill="#35c3f0"/>
<rect x="363.80" y="229.8" width="1.65" height="4.2" fill="#f48a80"/>
<rect x="365.40" y="229.8" width="1.65" height="4.2" fill="#f080c0"/>
<rect x="367.00" y="229.8" width="1.65" height="4.2" fill="#f48a80"/>
<rect x="368.60" y="229.8" width="1.65" height="4.2" fill="#f48a80"/>
<rect x="370.20" y="229.8" width="1.65" height="4.2" fill="#35c3f0"/>
<rect x="371.80" y="229.8" width="1.65" height="4.2" fill="#f48a80"/>
<rect x="373.40" y="229.8" width="1.65" height="4.2" fill="#e28af0"/>
<rect x="375.00" y="229.8" width="1.65" height="4.2" fill="#35c3f0"/>
<rect x="376.60" y="229.8" width="1.65" height="4.2" fill="#35c3f0"/>
<rect x="378.20" y="229.8" width="1.65" height="4.2" fill="#d8b020"/>
<rect x="379.80" y="229.8" width="1.65" height="4.2" fill="#f48a80"/>
<rect x="381.40" y="229.8" width="1.65" height="4.2" fill="#35c3f0"/>
<rect x="383.00" y="229.8" width="1.65" height="4.2" fill="#35c3f0"/>
<rect x="384.60" y="229.8" width="1.65" height="4.2" fill="#35c3f0"/>
<rect x="386.20" y="229.8" width="1.65" height="4.2" fill="#f48a80"/>
<rect x="387.80" y="229.8" width="1.65" height="4.2" fill="#f37ef0"/>
<rect x="389.40" y="229.8" width="1.65" height="4.2" fill="#f48a80"/>
<rect x="391.00" y="229.8" width="1.65" height="4.2" fill="#d8b020"/>
<rect x="392.60" y="229.8" width="1.65" height="4.2" fill="#d8b020"/>
<rect x="394.20" y="229.8" width="1.65" height="4.2" fill="#f48a80"/>
<rect x="395.80" y="229.8" width="1.65" height="4.2" fill="#d8b020"/>
<rect x="397.40" y="229.8" width="1.65" height="4.2" fill="#f37ef0"/>
<rect x="399.00" y="229.8" width="1.65" height="4.2" fill="#f37ef0"/>
<rect x="400.60" y="229.8" width="1.65" height="4.2" fill="#35c3f0"/>
<rect x="402.20" y="229.8" width="1.65" height="4.2" fill="#f37ef0"/>
<rect x="403.80" y="229.8" width="1.65" height="4.2" fill="#f48a80"/>
<rect x="405.40" y="229.8" width="1.65" height="4.2" fill="#f2a033"/>
<rect x="407.00" y="229.8" width="1.65" height="4.2" fill="#86c020"/>
<rect x="408.60" y="229.8" width="1.65" height="4.2" fill="#86c020"/>
<rect x="410.20" y="229.8" width="1.65" height="4.2" fill="#f37ef0"/>
<rect x="411.80" y="229.8" width="1.65" height="4.2" fill="#86c020"/>
<rect x="413.40" y="229.8" width="1.65" height="4.2" fill="#f2a033"/>
<rect x="415.00" y="229.8" width="1.65" height="4.2" fill="#30e0b0"/>
<rect x="416.60" y="229.8" width="1.65" height="4.2" fill="#30e0b0"/>
<rect x="418.20" y="229.8" width="1.65" height="4.2" fill="#30e0b0"/>
<rect x="419.80" y="229.8" width="1.65" height="4.2" fill="#30e0b0"/>
<rect x="421.40" y="229.8" width="1.65" height="4.2" fill="#86c020"/>
<rect x="423.00" y="229.8" width="1.65" height="4.2" fill="#86c020"/>
<rect x="424.60" y="229.8" width="1.65" height="4.2" fill="#f2a033"/>
<rect x="426.20" y="229.8" width="1.65" height="4.2" fill="#f37ef0"/>
<rect x="427.80" y="229.8" width="1.65" height="4.2" fill="#30e0b0"/>
<rect x="429.40" y="229.8" width="1.65" height="4.2" fill="#86c020"/>
<rect x="431.00" y="229.8" width="1.65" height="4.2" fill="#f2a033"/>
<rect x="432.60" y="229.8" width="1.65" height="4.2" fill="#f37ef0"/>
<rect x="434.20" y="229.8" width="1.65" height="4.2" fill="#d8b020"/>
<rect x="435.80" y="229.8" width="1.65" height="4.2" fill="#f2a033"/>
<rect x="437.40" y="229.8" width="1.65" height="4.2" fill="#30e0b0"/>
<rect x="439.00" y="229.8" width="1.65" height="4.2" fill="#f2a033"/>
<rect x="440.60" y="229.8" width="1.65" height="4.2" fill="#d8b020"/>
<rect x="442.20" y="229.8" width="1.65" height="4.2" fill="#f2a033"/>
<rect x="443.80" y="229.8" width="1.65" height="4.2" fill="#86c020"/>
<rect x="445.40" y="229.8" width="1.65" height="4.2" fill="#f48a80"/>
<rect x="447.00" y="229.8" width="1.65" height="4.2" fill="#86c020"/>
<rect x="448.60" y="229.8" width="1.65" height="4.2" fill="#f48a80"/>
<rect x="450.20" y="229.8" width="1.65" height="4.2" fill="#d8b020"/>
<rect x="451.80" y="229.8" width="1.65" height="4.2" fill="#f37ef0"/>
<rect x="453.40" y="229.8" width="1.65" height="4.2" fill="#d8b020"/>
<path d="M350.20,229.80V228.86H351.80V229.80M351.00,228.86V228.39H353.40V229.80M355.00,229.80V229.22H356.60V229.80M355.80,229.22V229.06H358.20V229.80M359.80,229.80V229.14H361.40V229.80M357.00,229.06V228.54H360.60V229.14M352.20,228.39V227.29H358.80V228.54M363.00,229.80V229.36H364.60V229.80M366.20,229.80V229.38H367.80V229.80M363.80,229.36V229.12H367.00V229.38M369.40,229.80V229.18H371.00V229.80M365.40,229.12V228.93H370.20V229.18M372.60,229.80V229.08H374.20V229.80M373.40,229.08V228.93H375.80V229.80M367.80,228.93V228.75H374.60V228.93M377.40,229.80V229.28H379.00V229.80M378.20,229.28V229.17H380.60V229.80M379.40,229.17V228.82H382.20V229.80M371.20,228.75V227.61H380.80V228.82M355.50,227.29V226.29H376.00V227.61M383.80,229.80V228.25H385.40V229.80M387.00,229.80V228.43H388.60V229.80M384.60,228.25V227.54H387.80V228.43M390.20,229.80V228.75H391.80V229.80M393.40,229.80V228.88H395.00V229.80M391.00,228.75V228.15H394.20V228.88M398.20,229.80V229.51H399.80V229.80M396.60,229.80V229.34H399.00V229.51M397.80,229.34V228.83H401.40V229.80M403.00,229.80V228.88H404.60V229.80M399.60,228.83V228.23H403.80V228.88M392.60,228.15V227.66H401.70V228.23M386.20,227.54V226.48H397.15V227.66M365.75,226.29V225.33H391.67V226.48M406.20,229.80V228.87H407.80V229.80M412.60,229.80V229.45H414.20V229.80M411.00,229.80V229.23H413.40V229.45M409.40,229.80V228.90H412.20V229.23M407.00,228.87V228.69H410.80V228.90M417.40,229.80V229.67H419.00V229.80M415.80,229.80V229.51H418.20V229.67M422.20,229.80V229.64H423.80V229.80M420.60,229.80V229.51H423.00V229.64M417.00,229.51V229.32H421.80V229.51M425.40,229.80V229.67H427.00V229.80M426.20,229.67V229.61H428.60V229.80M427.40,229.61V229.50H430.20V229.80M428.80,229.50V229.37H431.80V229.80M419.40,229.32V229.14H430.30V229.37M435.00,229.80V229.51H436.60V229.80M433.40,229.80V229.35H435.80V229.51M439.80,229.80V229.53H441.40V229.80M438.20,229.80V229.38H440.60V229.53M434.60,229.35V229.17H439.40V229.38M424.85,229.14V228.80H437.00V229.17M408.90,228.69V227.70H430.92V228.80M443.00,229.80V229.16H444.60V229.80M446.20,229.80V229.16H447.80V229.80M443.80,229.16V228.84H447.00V229.16M451.00,229.80V229.44H452.60V229.80M451.80,229.44V229.33H454.20V229.80M449.40,229.80V228.86H453.00V229.33M445.40,228.84V227.74H451.20V228.86M419.91,227.70V225.55H448.30V227.74M368.0,225.33V211.9H422.8V225.55" fill="none" stroke="#8a8a8a" stroke-width="0.45"/>
<path d="M344.80,240.20H343.21V241.80H344.80M344.80,245.01H343.72V246.61H344.80M344.80,243.41H343.27V245.81H343.72M343.21,241.00H342.77V244.61H343.27M344.80,248.22H344.31V249.82H344.80M344.31,249.02H344.03V251.42H344.80M344.03,250.22H343.27V253.03H344.80M344.80,254.63H343.32V256.23H344.80M343.27,251.62H342.85V255.43H343.32M342.77,242.81H342.13V253.53H342.85M344.80,257.83H344.29V259.44H344.80M344.80,261.04H344.60V262.64H344.80M344.60,261.84H344.51V264.25H344.80M344.51,263.04H344.29V265.85H344.80M344.29,258.64H343.83V264.45H344.29M344.80,267.45H343.96V269.06H344.80M343.83,261.54H343.62V268.25H343.96M344.80,275.47H344.63V277.07H344.80M344.80,273.86H344.52V276.27H344.63M344.80,272.26H344.38V275.07H344.52M344.80,270.66H344.25V273.66H344.38M344.80,278.67H344.52V280.28H344.80M344.80,281.88H344.53V283.48H344.80M344.52,279.48H344.28V282.68H344.53M344.25,272.16H344.01V281.08H344.28M344.80,285.09H344.32V286.69H344.80M344.80,288.29H344.38V289.89H344.80M344.32,285.89H344.03V289.09H344.38M344.01,276.62H343.64V287.49H344.03M343.62,264.90H342.29V282.05H343.64M342.13,248.17H341.20V273.48H342.29M344.80,291.50H344.40V293.10H344.80M344.40,292.30H343.93V294.70H344.80M344.80,296.31H344.14V297.91H344.80M344.14,297.11H343.97V299.51H344.80M343.93,293.50H343.78V298.31H343.97M344.80,301.12H344.39V302.72H344.80M344.80,304.32H344.41V305.92H344.80M344.39,301.92H343.90V305.12H344.41M343.78,295.91H342.56V303.52H343.90M344.80,307.53H343.60V309.13H344.80M344.80,310.73H343.69V312.34H344.80M343.60,308.33H343.09V311.53H343.69M344.80,313.94H343.27V315.54H344.80M343.09,309.93H342.78V314.74H343.27M342.56,299.71H341.59V312.34H342.78M341.20,260.82H338.21V306.02H341.59M344.80,317.15H344.05V318.75H344.80M344.05,317.95H343.63V320.35H344.80M344.80,321.95H343.67V323.56H344.80M343.63,319.15H343.26V322.76H343.67M344.80,325.16H344.26V326.76H344.80M344.80,328.37H344.27V329.97H344.80M344.26,325.96H344.08V329.17H344.27M344.80,331.57H344.39V333.18H344.80M344.39,332.37H344.15V334.78H344.80M344.08,327.56H343.32V333.58H344.15M343.26,320.95H342.99V330.57H343.32M344.80,336.38H343.88V337.98H344.80M344.80,341.19H344.40V342.79H344.80M344.80,339.59H343.93V341.99H344.40M343.88,337.18H343.01V340.79H343.93M342.99,325.76H342.38V338.99H343.01M344.80,344.40H344.32V346.00H344.80M344.32,345.20H343.94V347.60H344.80M343.94,346.40H343.66V349.21H344.80M344.80,350.81H344.66V352.41H344.80M344.66,351.61H344.55V354.01H344.80M344.80,355.62H344.71V357.22H344.80M344.71,356.42H344.67V358.82H344.80M344.80,360.43H344.72V362.03H344.80M344.80,363.63H344.72V365.24H344.80M344.72,361.23H344.69V364.43H344.72M344.67,357.62H344.56V362.83H344.69M344.55,352.81H344.25V360.23H344.56M344.80,368.44H344.60V370.04H344.80M344.80,366.84H344.30V369.24H344.60M344.25,356.52H343.71V368.04H344.30M343.66,347.80H342.50V362.28H343.71M342.38,332.37H340.83V355.04H342.50M344.80,371.65H343.85V373.25H344.80M344.80,376.46H344.56V378.06H344.80M344.56,377.26H344.44V379.66H344.80M344.80,374.85H343.97V378.46H344.44M343.85,372.45H343.42V376.66H343.97M344.80,381.27H344.26V382.87H344.80M344.26,382.07H344.11V384.47H344.80M344.80,386.07H344.42V387.68H344.80M344.80,389.28H344.48V390.88H344.80M344.42,386.88H344.18V390.08H344.48M344.11,383.27H343.46V388.48H344.18M343.42,374.55H342.16V385.87H343.46M344.80,394.09H343.37V395.69H344.80M344.80,392.49H342.87V394.89H343.37M344.80,397.30H343.16V398.90H344.80M342.87,393.69H342.42V398.10H343.16M342.16,380.21H341.11V395.89H342.42M340.83,343.71H338.54V388.05H341.11M338.21,262.4H327.0V368.5H338.54" fill="none" stroke="#3a3a3a" stroke-width="0.45"/>
<rect x="456.3" y="239.30" width="3.5" height="4.4" fill="#be0f2d"/>
<rect x="456.3" y="243.63" width="3.5" height="4.4" fill="#d52628"/>
<rect x="456.3" y="247.96" width="3.5" height="4.4" fill="#eb5138"/>
<rect x="456.3" y="252.29" width="3.5" height="4.4" fill="#f78652"/>
<rect x="456.3" y="256.62" width="3.5" height="4.4" fill="#fdbf7a"/>
<rect x="456.3" y="260.95" width="3.5" height="4.4" fill="#ffeda7"/>
<rect x="456.3" y="265.28" width="3.5" height="4.4" fill="#edf7a7"/>
<rect x="456.3" y="269.61" width="3.5" height="4.4" fill="#c3e67f"/>
<rect x="456.3" y="273.94" width="3.5" height="4.4" fill="#8ecf66"/>
<rect x="456.3" y="278.27" width="3.5" height="4.4" fill="#53b35c"/>
<rect x="456.3" y="282.60" width="3.5" height="4.4" fill="#1b924e"/>
<rect x="456.3" y="286.93" width="3.5" height="4.4" fill="#006e37"/>
<line x1="456.5" y1="251.8" x2="457.3" y2="251.8" stroke="#fff" stroke-width="0.4"/>
<line x1="459.1" y1="251.8" x2="459.9" y2="251.8" stroke="#fff" stroke-width="0.4"/>
<text x="461.30" y="253.70" font-size="5.3" text-anchor="start" fill="#444">0.5</text>
<line x1="456.5" y1="265.8" x2="457.3" y2="265.8" stroke="#fff" stroke-width="0.4"/>
<line x1="459.1" y1="265.8" x2="459.9" y2="265.8" stroke="#fff" stroke-width="0.4"/>
<text x="461.30" y="267.70" font-size="5.3" text-anchor="start" fill="#444">0.0</text>
<line x1="456.5" y1="280.1" x2="457.3" y2="280.1" stroke="#fff" stroke-width="0.4"/>
<line x1="459.1" y1="280.1" x2="459.9" y2="280.1" stroke="#fff" stroke-width="0.4"/>
<text x="461.30" y="282.00" font-size="5.3" text-anchor="start" fill="#444">−0.5</text>
<text x="477.0" y="239.6" font-size="6.6" font-weight="bold" fill="#111" textLength="15.5" lengthAdjust="spacingAndGlyphs">Class</text>
<rect x="476.8" y="243.10" width="5.0" height="5.06" fill="#f272ee"/>
<text x="483.70" y="247.30" font-size="5.75" text-anchor="start" fill="#222">Alkaloids</text>
<rect x="476.8" y="248.06" width="5.0" height="5.06" fill="#1cc6f0"/>
<text x="483.70" y="252.26" font-size="5.75" text-anchor="start" fill="#222">Amino acids and derives</text>
<rect x="476.8" y="253.02" width="5.0" height="5.06" fill="#d9b01a"/>
<text x="483.70" y="257.22" font-size="5.75" text-anchor="start" fill="#222">Flavonoids</text>
<rect x="476.8" y="257.98" width="5.0" height="5.06" fill="#f6a01a"/>
<text x="483.70" y="262.18" font-size="5.75" text-anchor="start" fill="#222">Lignans and Coumarins</text>
<rect x="476.8" y="262.94" width="5.0" height="5.06" fill="#22d0e0"/>
<text x="483.70" y="267.14" font-size="5.75" text-anchor="start" fill="#222">Lipids</text>
<rect x="476.8" y="267.90" width="5.0" height="5.06" fill="#f77cc8"/>
<text x="483.70" y="272.10" font-size="5.75" text-anchor="start" fill="#222">Nucleotide and derives</text>
<rect x="476.8" y="272.86" width="5.0" height="5.06" fill="#e890f0"/>
<text x="483.70" y="277.06" font-size="5.75" text-anchor="start" fill="#222">Organic acids</text>
<rect x="476.8" y="277.82" width="5.0" height="5.06" fill="#80c828"/>
<text x="483.70" y="282.02" font-size="5.75" text-anchor="start" fill="#222">Others</text>
<rect x="476.8" y="282.78" width="5.0" height="5.06" fill="#f7827a"/>
<text x="483.70" y="286.98" font-size="5.75" text-anchor="start" fill="#222">Phenolic acids</text>
<rect x="476.8" y="287.74" width="5.0" height="5.06" fill="#22d8a8"/>
<text x="483.70" y="291.94" font-size="5.75" text-anchor="start" fill="#222">Terpenoids</text>
<text x="477.0" y="314.9" font-size="6.6" font-weight="bold" fill="#111" textLength="14.9" lengthAdjust="spacingAndGlyphs">Type</text>
<rect x="476.9" y="317.7" width="5.0" height="5.1" fill="#1b9e77"/>
<text x="483.80" y="322.10" font-size="5.6" text-anchor="start" fill="#222">gene</text>
<rect x="476.9" y="322.8" width="5.0" height="5.0" fill="#f26b1d"/>
<text x="483.80" y="327.00" font-size="5.6" text-anchor="start" fill="#222">meta</text>
</svg>
</body></html>
